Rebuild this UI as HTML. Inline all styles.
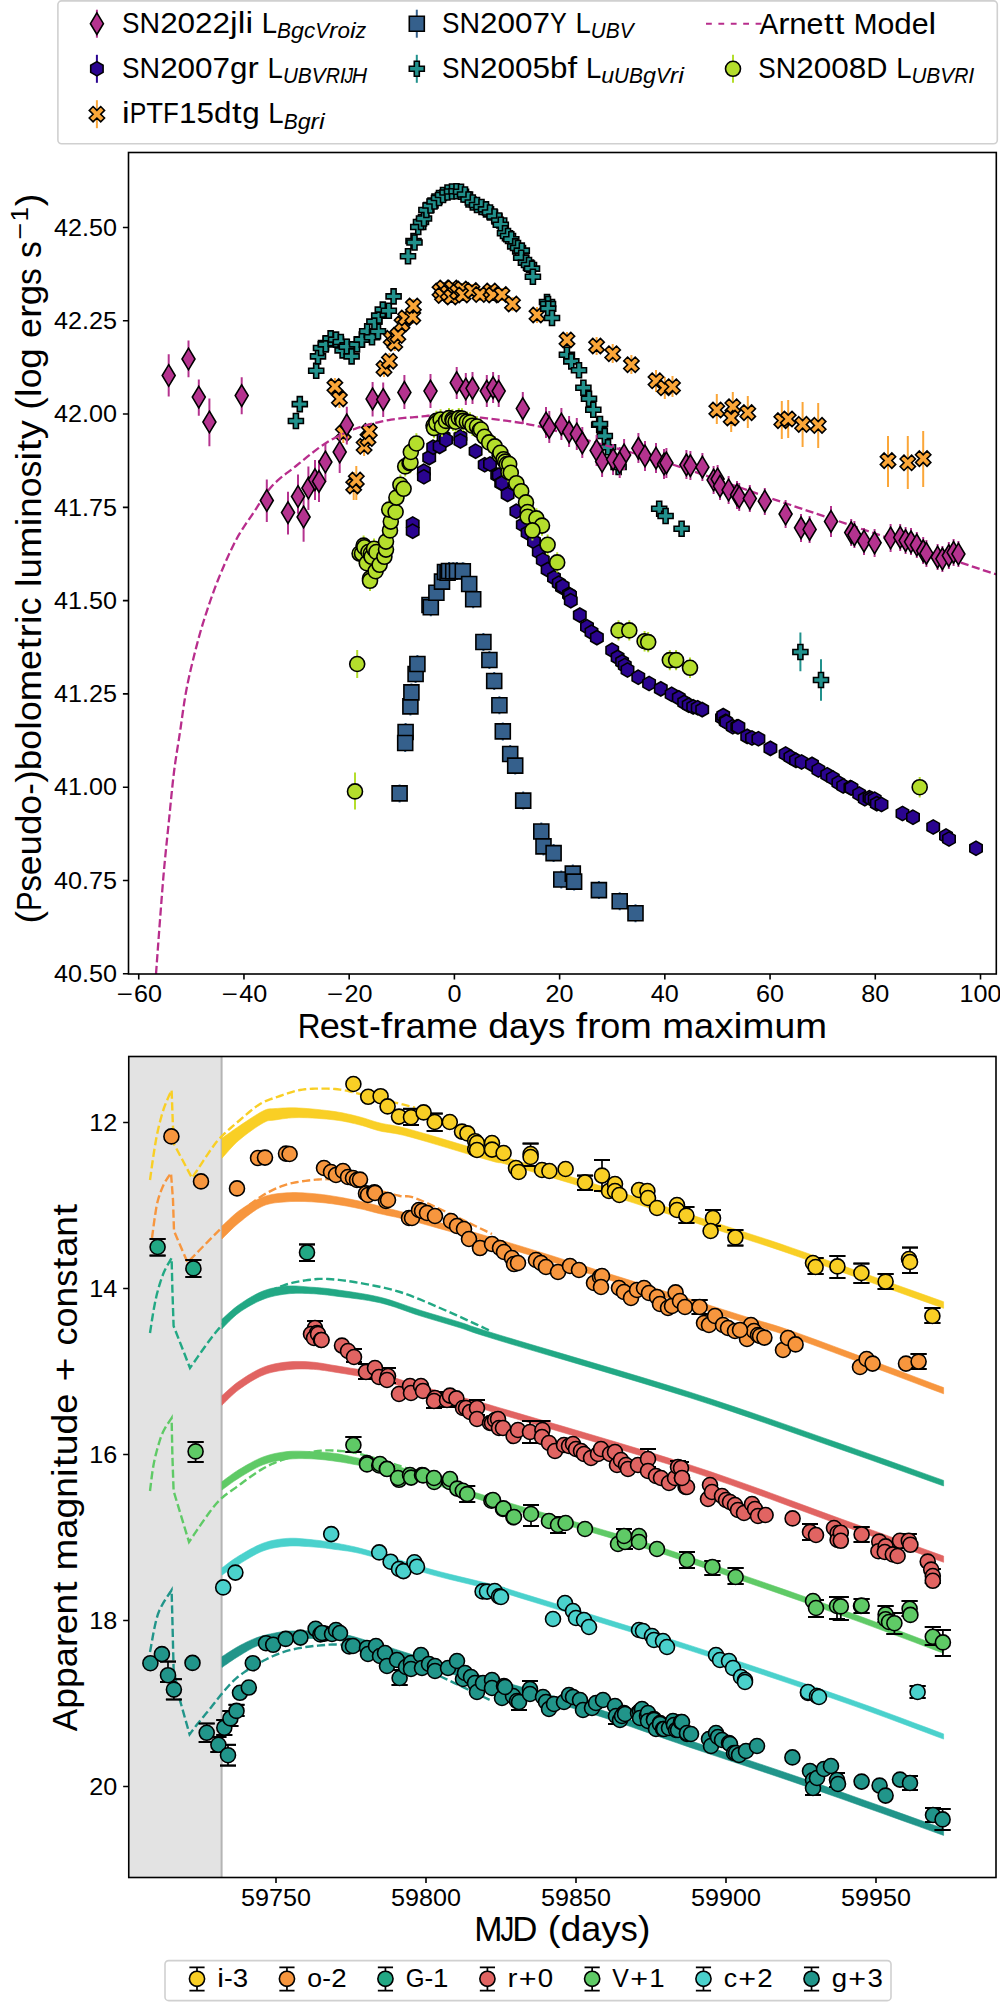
<!DOCTYPE html>
<html><head><meta charset="utf-8"><style>
html,body{margin:0;padding:0;background:#fff;}
svg{display:block;}
text{font-family:"Liberation Sans",sans-serif;}
</style></head><body>
<svg width="1000" height="2002" viewBox="0 0 1000 2002">
<rect width="1000" height="2002" fill="#fff"/>
<defs><clipPath id="c1"><rect x="128.5" y="152.5" width="867.8" height="821.5"/></clipPath><clipPath id="c2"><rect x="128.75" y="1056.5" width="867.25" height="821.0"/></clipPath></defs><g clip-path="url(#c1)"><g fill="#2a0490" stroke="#000" stroke-width="1.6"><path d="M412.7 516.85L406.51 520.42L406.51 527.58L412.7 531.15L418.89 527.58L418.89 520.42Z"/><path d="M412.7 524.05L406.51 527.62L406.51 534.78L412.7 538.35L418.89 534.78L418.89 527.62Z"/><path d="M423.9 464.05L417.71 467.62L417.71 474.77L423.9 478.35L430.09 474.77L430.09 467.62Z"/><path d="M423.9 469.65L417.71 473.23L417.71 480.38L423.9 483.95L430.09 480.38L430.09 473.23Z"/><path d="M429.2 450.45L423.01 454.03L423.01 461.18L429.2 464.75L435.39 461.18L435.39 454.03Z"/><path d="M433.2 440.05L427.01 443.62L427.01 450.77L433.2 454.35L439.39 450.77L439.39 443.62Z"/><path d="M439.6 439.25L433.41 442.82L433.41 449.97L439.6 453.55L445.79 449.97L445.79 442.82Z"/><path d="M443.6 429.65L437.41 433.23L437.41 440.38L443.6 443.95L449.79 440.38L449.79 433.23Z"/><path d="M446 432.85L439.81 436.43L439.81 443.57L446 447.15L452.19 443.57L452.19 436.43Z"/><path d="M460.4 429.65L454.21 433.23L454.21 440.38L460.4 443.95L466.59 440.38L466.59 433.23Z"/><path d="M460.4 433.85L454.21 437.43L454.21 444.57L460.4 448.15L466.59 444.57L466.59 437.43Z"/><path d="M475.6 444.05L469.41 447.62L469.41 454.77L475.6 458.35L481.79 454.77L481.79 447.62Z"/><path d="M484.7 457.65L478.51 461.23L478.51 468.38L484.7 471.95L490.89 468.38L490.89 461.23Z"/><path d="M490 456.85L483.81 460.43L483.81 467.57L490 471.15L496.19 467.57L496.19 460.43Z"/><path d="M497.2 468.05L491.01 471.62L491.01 478.77L497.2 482.35L503.39 478.77L503.39 471.62Z"/><path d="M498.8 468.05L492.61 471.62L492.61 478.77L498.8 482.35L504.99 478.77L504.99 471.62Z"/><path d="M501.2 476.05L495.01 479.62L495.01 486.77L501.2 490.35L507.39 486.77L507.39 479.62Z"/><path d="M502 476.05L495.81 479.62L495.81 486.77L502 490.35L508.19 486.77L508.19 479.62Z"/><path d="M507.6 487.25L501.41 490.82L501.41 497.97L507.6 501.55L513.79 497.97L513.79 490.82Z"/><path d="M516.4 504.05L510.21 507.62L510.21 514.77L516.4 518.35L522.59 514.77L522.59 507.62Z"/><path d="M522.8 517.65L516.61 521.22L516.61 528.38L522.8 531.95L528.99 528.38L528.99 521.22Z"/><path d="M527.6 525.65L521.41 529.22L521.41 536.38L527.6 539.95L533.79 536.38L533.79 529.22Z"/><path d="M534 534.45L527.81 538.02L527.81 545.18L534 548.75L540.19 545.18L540.19 538.02Z"/><path d="M538.8 544.85L532.61 548.42L532.61 555.58L538.8 559.15L544.99 555.58L544.99 548.42Z"/><path d="M542.8 552.85L536.61 556.42L536.61 563.58L542.8 567.15L548.99 563.58L548.99 556.42Z"/><path d="M547.6 562.45L541.41 566.02L541.41 573.18L547.6 576.75L553.79 573.18L553.79 566.02Z"/><path d="M554 570.45L547.81 574.02L547.81 581.18L554 584.75L560.19 581.18L560.19 574.02Z"/><path d="M558.8 576.05L552.61 579.62L552.61 586.78L558.8 590.35L564.99 586.78L564.99 579.62Z"/><path d="M562 580.05L555.81 583.62L555.81 590.78L562 594.35L568.19 590.78L568.19 583.62Z"/><path d="M562.7 579.15L556.51 582.72L556.51 589.88L562.7 593.45L568.89 589.88L568.89 582.72Z"/><path d="M569 587.25L562.81 590.82L562.81 597.98L569 601.55L575.19 597.98L575.19 590.82Z"/><path d="M570 588.05L563.81 591.62L563.81 598.78L570 602.35L576.19 598.78L576.19 591.62Z"/><path d="M570.8 593.55L564.61 597.12L564.61 604.28L570.8 607.85L576.99 604.28L576.99 597.12Z"/><path d="M579.8 607.95L573.61 611.52L573.61 618.68L579.8 622.25L585.99 618.68L585.99 611.52Z"/><path d="M587 619.65L580.81 623.22L580.81 630.38L587 633.95L593.19 630.38L593.19 623.22Z"/><path d="M591.5 625.05L585.31 628.62L585.31 635.78L591.5 639.35L597.69 635.78L597.69 628.62Z"/><path d="M596.9 630.45L590.71 634.02L590.71 641.18L596.9 644.75L603.09 641.18L603.09 634.02Z"/><path d="M612.2 643.05L606.01 646.62L606.01 653.78L612.2 657.35L618.39 653.78L618.39 646.62Z"/><path d="M617.6 650.25L611.41 653.82L611.41 660.98L617.6 664.55L623.79 660.98L623.79 653.82Z"/><path d="M622.1 654.75L615.91 658.32L615.91 665.48L622.1 669.05L628.29 665.48L628.29 658.32Z"/><path d="M624.8 658.35L618.61 661.92L618.61 669.08L624.8 672.65L630.99 669.08L630.99 661.92Z"/><path d="M627.5 662.85L621.31 666.42L621.31 673.58L627.5 677.15L633.69 673.58L633.69 666.42Z"/><path d="M638.3 670.05L632.11 673.62L632.11 680.78L638.3 684.35L644.49 680.78L644.49 673.62Z"/><path d="M649.1 676.35L642.91 679.92L642.91 687.08L649.1 690.65L655.29 687.08L655.29 679.92Z"/><path d="M660.8 681.75L654.61 685.32L654.61 692.48L660.8 696.05L666.99 692.48L666.99 685.32Z"/><path d="M671.6 687.15L665.41 690.72L665.41 697.88L671.6 701.45L677.79 697.88L677.79 690.72Z"/><path d="M678.8 690.75L672.61 694.32L672.61 701.48L678.8 705.05L684.99 701.48L684.99 694.32Z"/><path d="M684.2 695.25L678.01 698.82L678.01 705.98L684.2 709.55L690.39 705.98L690.39 698.82Z"/><path d="M688.7 697.95L682.51 701.52L682.51 708.68L688.7 712.25L694.89 708.68L694.89 701.52Z"/><path d="M693.2 699.75L687.01 703.32L687.01 710.48L693.2 714.05L699.39 710.48L699.39 703.32Z"/><path d="M697.7 700.65L691.51 704.22L691.51 711.38L697.7 714.95L703.89 711.38L703.89 704.22Z"/><path d="M702.2 702.45L696.01 706.02L696.01 713.18L702.2 716.75L708.39 713.18L708.39 706.02Z"/><path d="M722 710.55L715.81 714.12L715.81 721.28L722 724.85L728.19 721.28L728.19 714.12Z"/><path d="M723.2 708.45L717.01 712.02L717.01 719.18L723.2 722.75L729.39 719.18L729.39 712.02Z"/><path d="M725.6 714.15L719.41 717.72L719.41 724.88L725.6 728.45L731.79 724.88L731.79 717.72Z"/><path d="M726.4 714.85L720.21 718.42L720.21 725.58L726.4 729.15L732.59 725.58L732.59 718.42Z"/><path d="M732.8 719.55L726.61 723.12L726.61 730.28L732.8 733.85L738.99 730.28L738.99 723.12Z"/><path d="M737.3 719.55L731.11 723.12L731.11 730.28L737.3 733.85L743.49 730.28L743.49 723.12Z"/><path d="M738.4 719.65L732.21 723.22L732.21 730.38L738.4 733.95L744.59 730.38L744.59 723.22Z"/><path d="M747.2 729.25L741.01 732.82L741.01 739.98L747.2 743.55L753.39 739.98L753.39 732.82Z"/><path d="M752 730.85L745.81 734.42L745.81 741.58L752 745.15L758.19 741.58L758.19 734.42Z"/><path d="M758.4 731.65L752.21 735.22L752.21 742.38L758.4 745.95L764.59 742.38L764.59 735.22Z"/><path d="M770.4 741.25L764.21 744.82L764.21 751.98L770.4 755.55L776.59 751.98L776.59 744.82Z"/><path d="M785.6 746.85L779.41 750.42L779.41 757.58L785.6 761.15L791.79 757.58L791.79 750.42Z"/><path d="M790.4 750.05L784.21 753.62L784.21 760.78L790.4 764.35L796.59 760.78L796.59 753.62Z"/><path d="M796 753.25L789.81 756.82L789.81 763.98L796 767.55L802.19 763.98L802.19 756.82Z"/><path d="M801.6 754.85L795.41 758.42L795.41 765.58L801.6 769.15L807.79 765.58L807.79 758.42Z"/><path d="M812 757.25L805.81 760.82L805.81 767.98L812 771.55L818.19 767.98L818.19 760.82Z"/><path d="M818.4 762.85L812.21 766.42L812.21 773.58L818.4 777.15L824.59 773.58L824.59 766.42Z"/><path d="M827.2 767.65L821.01 771.22L821.01 778.38L827.2 781.95L833.39 778.38L833.39 771.22Z"/><path d="M832.8 770.85L826.61 774.42L826.61 781.58L832.8 785.15L838.99 781.58L838.99 774.42Z"/><path d="M838.4 775.65L832.21 779.22L832.21 786.38L838.4 789.95L844.59 786.38L844.59 779.22Z"/><path d="M843.2 778.85L837.01 782.42L837.01 789.58L843.2 793.15L849.39 789.58L849.39 782.42Z"/><path d="M850.4 780.45L844.21 784.02L844.21 791.18L850.4 794.75L856.59 791.18L856.59 784.02Z"/><path d="M851.5 780.85L845.31 784.42L845.31 791.58L851.5 795.15L857.69 791.58L857.69 784.42Z"/><path d="M859.2 786.85L853.01 790.42L853.01 797.58L859.2 801.15L865.39 797.58L865.39 790.42Z"/><path d="M864.8 791.65L858.61 795.22L858.61 802.38L864.8 805.95L870.99 802.38L870.99 795.22Z"/><path d="M869.5 790.55L863.31 794.12L863.31 801.28L869.5 804.85L875.69 801.28L875.69 794.12Z"/><path d="M871.2 791.65L865.01 795.22L865.01 802.38L871.2 805.95L877.39 802.38L877.39 795.22Z"/><path d="M874.7 792.05L868.51 795.62L868.51 802.78L874.7 806.35L880.89 802.78L880.89 795.62Z"/><path d="M876.8 796.45L870.61 800.02L870.61 807.18L876.8 810.75L882.99 807.18L882.99 800.02Z"/><path d="M881.5 797.35L875.31 800.92L875.31 808.08L881.5 811.65L887.69 808.08L887.69 800.92Z"/><path d="M902.5 806.35L896.31 809.92L896.31 817.08L902.5 820.65L908.69 817.08L908.69 809.92Z"/><path d="M913 810.05L906.81 813.62L906.81 820.78L913 824.35L919.19 820.78L919.19 813.62Z"/><path d="M933.2 819.85L927.01 823.42L927.01 830.58L933.2 834.15L939.39 830.58L939.39 823.42Z"/><path d="M946 828.85L939.81 832.42L939.81 839.58L946 843.15L952.19 839.58L952.19 832.42Z"/><path d="M949 831.85L942.81 835.42L942.81 842.58L949 846.15L955.19 842.58L955.19 835.42Z"/><path d="M976 841.15L969.81 844.72L969.81 851.88L976 855.45L982.19 851.88L982.19 844.72Z"/></g><path d="M334.9 378V395M339.4 390V408M343.3 423V443M353.7 472V500M356.3 466V500M364.1 437V456M368 430V447M369.3 423V440M384 360V377M389.4 353V370M391.2 331V346M394.8 336V351M397.8 328V343M402 317V331M405.6 311V325M412.8 310V324M413.4 299V313M440 285V297M444 282V294M442.5 290V301M448 287V299M452.5 282V294M451.5 291V303M457.5 286V298M462 283V295M463 289V301M472 284V297M480 288V301M491 285V297M493 289V301M502 288V301M512.5 297V311M537 307V323M567 332V348M596.6 337V355M612.7 344V363M631.4 355V374M656 370V392M664.8 377V399M672.5 376V397M716.8 394V424M732.8 392V426M731.2 404V432M747.8 396V428M781.8 401V439M788.2 400V438M802.6 402V447M818.2 403V448M888 436V487M907.8 436V489M923.2 431V487" stroke="#fba638" stroke-width="2.0" fill="none"/><g fill="#fba638" stroke="#000" stroke-width="1.6"><path d="M331.07 378.85L334.9 382.68L338.72 378.85L342.55 382.68L338.72 386.5L342.55 390.32L338.72 394.15L334.9 390.32L331.07 394.15L327.25 390.32L331.07 386.5L327.25 382.68Z"/><path d="M335.57 391.25L339.4 395.07L343.22 391.25L347.05 395.07L343.22 398.9L347.05 402.72L343.22 406.55L339.4 402.72L335.57 406.55L331.75 402.72L335.57 398.9L331.75 395.07Z"/><path d="M339.48 425.65L343.3 429.48L347.12 425.65L350.95 429.48L347.12 433.3L350.95 437.12L347.12 440.95L343.3 437.12L339.48 440.95L335.65 437.12L339.48 433.3L335.65 429.48Z"/><path d="M349.88 478.35L353.7 482.18L357.52 478.35L361.35 482.18L357.52 486L361.35 489.82L357.52 493.65L353.7 489.82L349.88 493.65L346.05 489.82L349.88 486L346.05 482.18Z"/><path d="M352.48 472.45L356.3 476.28L360.12 472.45L363.95 476.28L360.12 480.1L363.95 483.93L360.12 487.75L356.3 483.93L352.48 487.75L348.65 483.93L352.48 480.1L348.65 476.28Z"/><path d="M360.28 438.65L364.1 442.48L367.93 438.65L371.75 442.48L367.93 446.3L371.75 450.12L367.93 453.95L364.1 450.12L360.28 453.95L356.45 450.12L360.28 446.3L356.45 442.48Z"/><path d="M364.18 430.85L368 434.68L371.82 430.85L375.65 434.68L371.82 438.5L375.65 442.32L371.82 446.15L368 442.32L364.18 446.15L360.35 442.32L364.18 438.5L360.35 434.68Z"/><path d="M365.48 423.75L369.3 427.57L373.12 423.75L376.95 427.57L373.12 431.4L376.95 435.22L373.12 439.05L369.3 435.22L365.48 439.05L361.65 435.22L365.48 431.4L361.65 427.57Z"/><path d="M380.18 360.75L384 364.57L387.82 360.75L391.65 364.57L387.82 368.4L391.65 372.22L387.82 376.05L384 372.22L380.18 376.05L376.35 372.22L380.18 368.4L376.35 364.57Z"/><path d="M385.57 353.55L389.4 357.38L393.22 353.55L397.05 357.38L393.22 361.2L397.05 365.02L393.22 368.85L389.4 365.02L385.57 368.85L381.75 365.02L385.57 361.2L381.75 357.38Z"/><path d="M387.38 330.75L391.2 334.57L395.02 330.75L398.85 334.57L395.02 338.4L398.85 342.22L395.02 346.05L391.2 342.22L387.38 346.05L383.55 342.22L387.38 338.4L383.55 334.57Z"/><path d="M390.98 335.55L394.8 339.38L398.62 335.55L402.45 339.38L398.62 343.2L402.45 347.02L398.62 350.85L394.8 347.02L390.98 350.85L387.15 347.02L390.98 343.2L387.15 339.38Z"/><path d="M393.98 327.75L397.8 331.57L401.62 327.75L405.45 331.57L401.62 335.4L405.45 339.22L401.62 343.05L397.8 339.22L393.98 343.05L390.15 339.22L393.98 335.4L390.15 331.57Z"/><path d="M398.18 316.35L402 320.18L405.82 316.35L409.65 320.18L405.82 324L409.65 327.82L405.82 331.65L402 327.82L398.18 331.65L394.35 327.82L398.18 324L394.35 320.18Z"/><path d="M401.78 310.35L405.6 314.18L409.43 310.35L413.25 314.18L409.43 318L413.25 321.82L409.43 325.65L405.6 321.82L401.78 325.65L397.95 321.82L401.78 318L397.95 314.18Z"/><path d="M408.98 309.15L412.8 312.98L416.62 309.15L420.45 312.98L416.62 316.8L420.45 320.62L416.62 324.45L412.8 320.62L408.98 324.45L405.15 320.62L408.98 316.8L405.15 312.98Z"/><path d="M409.57 298.35L413.4 302.18L417.22 298.35L421.05 302.18L417.22 306L421.05 309.82L417.22 313.65L413.4 309.82L409.57 313.65L405.75 309.82L409.57 306L405.75 302.18Z"/><path d="M436.18 283.35L440 287.18L443.82 283.35L447.65 287.18L443.82 291L447.65 294.82L443.82 298.65L440 294.82L436.18 298.65L432.35 294.82L436.18 291L432.35 287.18Z"/><path d="M440.18 280.35L444 284.18L447.82 280.35L451.65 284.18L447.82 288L451.65 291.82L447.82 295.65L444 291.82L440.18 295.65L436.35 291.82L440.18 288L436.35 284.18Z"/><path d="M438.68 287.85L442.5 291.68L446.32 287.85L450.15 291.68L446.32 295.5L450.15 299.32L446.32 303.15L442.5 299.32L438.68 303.15L434.85 299.32L438.68 295.5L434.85 291.68Z"/><path d="M444.18 285.35L448 289.18L451.82 285.35L455.65 289.18L451.82 293L455.65 296.82L451.82 300.65L448 296.82L444.18 300.65L440.35 296.82L444.18 293L440.35 289.18Z"/><path d="M448.68 280.35L452.5 284.18L456.32 280.35L460.15 284.18L456.32 288L460.15 291.82L456.32 295.65L452.5 291.82L448.68 295.65L444.85 291.82L448.68 288L444.85 284.18Z"/><path d="M447.68 289.35L451.5 293.18L455.32 289.35L459.15 293.18L455.32 297L459.15 300.82L455.32 304.65L451.5 300.82L447.68 304.65L443.85 300.82L447.68 297L443.85 293.18Z"/><path d="M453.68 284.35L457.5 288.18L461.32 284.35L465.15 288.18L461.32 292L465.15 295.82L461.32 299.65L457.5 295.82L453.68 299.65L449.85 295.82L453.68 292L449.85 288.18Z"/><path d="M458.18 281.35L462 285.18L465.82 281.35L469.65 285.18L465.82 289L469.65 292.82L465.82 296.65L462 292.82L458.18 296.65L454.35 292.82L458.18 289L454.35 285.18Z"/><path d="M459.18 287.35L463 291.18L466.82 287.35L470.65 291.18L466.82 295L470.65 298.82L466.82 302.65L463 298.82L459.18 302.65L455.35 298.82L459.18 295L455.35 291.18Z"/><path d="M468.18 282.85L472 286.68L475.82 282.85L479.65 286.68L475.82 290.5L479.65 294.32L475.82 298.15L472 294.32L468.18 298.15L464.35 294.32L468.18 290.5L464.35 286.68Z"/><path d="M476.18 286.85L480 290.68L483.82 286.85L487.65 290.68L483.82 294.5L487.65 298.32L483.82 302.15L480 298.32L476.18 302.15L472.35 298.32L476.18 294.5L472.35 290.68Z"/><path d="M487.18 283.35L491 287.18L494.82 283.35L498.65 287.18L494.82 291L498.65 294.82L494.82 298.65L491 294.82L487.18 298.65L483.35 294.82L487.18 291L483.35 287.18Z"/><path d="M489.18 287.35L493 291.18L496.82 287.35L500.65 291.18L496.82 295L500.65 298.82L496.82 302.65L493 298.82L489.18 302.65L485.35 298.82L489.18 295L485.35 291.18Z"/><path d="M498.18 286.85L502 290.68L505.82 286.85L509.65 290.68L505.82 294.5L509.65 298.32L505.82 302.15L502 298.32L498.18 302.15L494.35 298.32L498.18 294.5L494.35 290.68Z"/><path d="M508.68 296.35L512.5 300.18L516.33 296.35L520.15 300.18L516.33 304L520.15 307.82L516.33 311.65L512.5 307.82L508.68 311.65L504.85 307.82L508.68 304L504.85 300.18Z"/><path d="M533.17 307.35L537 311.18L540.83 307.35L544.65 311.18L540.83 315L544.65 318.82L540.83 322.65L537 318.82L533.17 322.65L529.35 318.82L533.17 315L529.35 311.18Z"/><path d="M563.17 332.35L567 336.18L570.83 332.35L574.65 336.18L570.83 340L574.65 343.82L570.83 347.65L567 343.82L563.17 347.65L559.35 343.82L563.17 340L559.35 336.18Z"/><path d="M592.77 338.35L596.6 342.18L600.43 338.35L604.25 342.18L600.43 346L604.25 349.82L600.43 353.65L596.6 349.82L592.77 353.65L588.95 349.82L592.77 346L588.95 342.18Z"/><path d="M608.88 346.05L612.7 349.88L616.53 346.05L620.35 349.88L616.53 353.7L620.35 357.52L616.53 361.35L612.7 357.52L608.88 361.35L605.05 357.52L608.88 353.7L605.05 349.88Z"/><path d="M627.57 357.05L631.4 360.88L635.23 357.05L639.05 360.88L635.23 364.7L639.05 368.52L635.23 372.35L631.4 368.52L627.57 372.35L623.75 368.52L627.57 364.7L623.75 360.88Z"/><path d="M652.17 373.15L656 376.98L659.83 373.15L663.65 376.98L659.83 380.8L663.65 384.62L659.83 388.45L656 384.62L652.17 388.45L648.35 384.62L652.17 380.8L648.35 376.98Z"/><path d="M660.97 380.15L664.8 383.98L668.62 380.15L672.45 383.98L668.62 387.8L672.45 391.62L668.62 395.45L664.8 391.62L660.97 395.45L657.15 391.62L660.97 387.8L657.15 383.98Z"/><path d="M668.67 379.05L672.5 382.88L676.33 379.05L680.15 382.88L676.33 386.7L680.15 390.52L676.33 394.35L672.5 390.52L668.67 394.35L664.85 390.52L668.67 386.7L664.85 382.88Z"/><path d="M712.97 402.35L716.8 406.18L720.62 402.35L724.45 406.18L720.62 410L724.45 413.82L720.62 417.65L716.8 413.82L712.97 417.65L709.15 413.82L712.97 410L709.15 406.18Z"/><path d="M728.97 399.15L732.8 402.98L736.62 399.15L740.45 402.98L736.62 406.8L740.45 410.62L736.62 414.45L732.8 410.62L728.97 414.45L725.15 410.62L728.97 406.8L725.15 402.98Z"/><path d="M727.38 410.35L731.2 414.18L735.03 410.35L738.85 414.18L735.03 418L738.85 421.82L735.03 425.65L731.2 421.82L727.38 425.65L723.55 421.82L727.38 418L723.55 414.18Z"/><path d="M743.97 404.95L747.8 408.78L751.62 404.95L755.45 408.78L751.62 412.6L755.45 416.43L751.62 420.25L747.8 416.43L743.97 420.25L740.15 416.43L743.97 412.6L740.15 408.78Z"/><path d="M777.97 412.95L781.8 416.78L785.62 412.95L789.45 416.78L785.62 420.6L789.45 424.43L785.62 428.25L781.8 424.43L777.97 428.25L774.15 424.43L777.97 420.6L774.15 416.78Z"/><path d="M784.38 411.35L788.2 415.18L792.03 411.35L795.85 415.18L792.03 419L795.85 422.82L792.03 426.65L788.2 422.82L784.38 426.65L780.55 422.82L784.38 419L780.55 415.18Z"/><path d="M798.77 416.75L802.6 420.57L806.43 416.75L810.25 420.57L806.43 424.4L810.25 428.22L806.43 432.05L802.6 428.22L798.77 432.05L794.95 428.22L798.77 424.4L794.95 420.57Z"/><path d="M814.38 417.75L818.2 421.57L822.03 417.75L825.85 421.57L822.03 425.4L825.85 429.22L822.03 433.05L818.2 429.22L814.38 433.05L810.55 429.22L814.38 425.4L810.55 421.57Z"/><path d="M884.17 452.95L888 456.78L891.83 452.95L895.65 456.78L891.83 460.6L895.65 464.43L891.83 468.25L888 464.43L884.17 468.25L880.35 464.43L884.17 460.6L880.35 456.78Z"/><path d="M903.97 455.15L907.8 458.98L911.62 455.15L915.45 458.98L911.62 462.8L915.45 466.62L911.62 470.45L907.8 466.62L903.97 470.45L900.15 466.62L903.97 462.8L900.15 458.98Z"/><path d="M919.38 450.95L923.2 454.78L927.03 450.95L930.85 454.78L927.03 458.6L930.85 462.43L927.03 466.25L923.2 462.43L919.38 466.25L915.55 462.43L919.38 458.6L915.55 454.78Z"/></g><path d="M399.6 784.4V802.4M405.6 723V741M405.2 734V752M410.4 697.4V715.4M411.4 683.4V701.4M415.6 665V683M417.4 655V673M429.5 596V614M430.8 598.2V616.2M436.4 583.8V601.8M442 572.6V590.6M445 563V581M447.6 563.8V581.8M449 562V580M453.2 562.2V580.2M457 562V580M462.8 562.2V580.2M469.2 575V593M473.2 590.2V608.2M483.4 633V651M489.4 651V669M494.2 672V690M499.4 696.2V714.2M502.8 722.4V740.4M510.2 745V763M515.2 756.6V774.6M523.2 791.6V809.6M541.3 822.5V840.5M543.5 837.4V855.4M553.6 844.1V862.1M561.3 870.5V888.5M572.8 864.6V882.6M574.1 872.6V890.6M598.9 881.1V899.1M619.7 892.3V910.3M635.5 904.3V922.3" stroke="#35608c" stroke-width="2.0" fill="none"/><g fill="#35608c" stroke="#000" stroke-width="1.6"><path d="M392.1 785.9h15v15h-15Z"/><path d="M398.1 724.5h15v15h-15Z"/><path d="M397.7 735.5h15v15h-15Z"/><path d="M402.9 698.9h15v15h-15Z"/><path d="M403.9 684.9h15v15h-15Z"/><path d="M408.1 666.5h15v15h-15Z"/><path d="M409.9 656.5h15v15h-15Z"/><path d="M422 597.5h15v15h-15Z"/><path d="M423.3 599.7h15v15h-15Z"/><path d="M428.9 585.3h15v15h-15Z"/><path d="M434.5 574.1h15v15h-15Z"/><path d="M437.5 564.5h15v15h-15Z"/><path d="M440.1 565.3h15v15h-15Z"/><path d="M441.5 563.5h15v15h-15Z"/><path d="M445.7 563.7h15v15h-15Z"/><path d="M449.5 563.5h15v15h-15Z"/><path d="M455.3 563.7h15v15h-15Z"/><path d="M461.7 576.5h15v15h-15Z"/><path d="M465.7 591.7h15v15h-15Z"/><path d="M475.9 634.5h15v15h-15Z"/><path d="M481.9 652.5h15v15h-15Z"/><path d="M486.7 673.5h15v15h-15Z"/><path d="M491.9 697.7h15v15h-15Z"/><path d="M495.3 723.9h15v15h-15Z"/><path d="M502.7 746.5h15v15h-15Z"/><path d="M507.7 758.1h15v15h-15Z"/><path d="M515.7 793.1h15v15h-15Z"/><path d="M533.8 824h15v15h-15Z"/><path d="M536 838.9h15v15h-15Z"/><path d="M546.1 845.6h15v15h-15Z"/><path d="M553.8 872h15v15h-15Z"/><path d="M565.3 866.1h15v15h-15Z"/><path d="M566.6 874.1h15v15h-15Z"/><path d="M591.4 882.6h15v15h-15Z"/><path d="M612.2 893.8h15v15h-15Z"/><path d="M628 905.8h15v15h-15Z"/></g><path d="M295.9 414V428M299.8 397V411M800.4 632.4V671.2M821 659.2V700.8" stroke="#21918c" stroke-width="2.0" fill="none"/><g fill="#21918c" stroke="#000" stroke-width="1.6"><path d="M293.4 413.5L298.4 413.5L298.4 418.5L303.4 418.5L303.4 423.5L298.4 423.5L298.4 428.5L293.4 428.5L293.4 423.5L288.4 423.5L288.4 418.5L293.4 418.5Z"/><path d="M297.3 396.6L302.3 396.6L302.3 401.6L307.3 401.6L307.3 406.6L302.3 406.6L302.3 411.6L297.3 411.6L297.3 406.6L292.3 406.6L292.3 401.6L297.3 401.6Z"/><path d="M313.7 363.3L318.7 363.3L318.7 368.3L323.7 368.3L323.7 373.3L318.7 373.3L318.7 378.3L313.7 378.3L313.7 373.3L308.7 373.3L308.7 368.3L313.7 368.3Z"/><path d="M315.5 348.9L320.5 348.9L320.5 353.9L325.5 353.9L325.5 358.9L320.5 358.9L320.5 363.9L315.5 363.9L315.5 358.9L310.5 358.9L310.5 353.9L315.5 353.9Z"/><path d="M318.5 340.5L323.5 340.5L323.5 345.5L328.5 345.5L328.5 350.5L323.5 350.5L323.5 355.5L318.5 355.5L318.5 350.5L313.5 350.5L313.5 345.5L318.5 345.5Z"/><path d="M323.3 336.9L328.3 336.9L328.3 341.9L333.3 341.9L333.3 346.9L328.3 346.9L328.3 351.9L323.3 351.9L323.3 346.9L318.3 346.9L318.3 341.9L323.3 341.9Z"/><path d="M328.1 330.9L333.1 330.9L333.1 335.9L338.1 335.9L338.1 340.9L333.1 340.9L333.1 345.9L328.1 345.9L328.1 340.9L323.1 340.9L323.1 335.9L328.1 335.9Z"/><path d="M333.5 332.1L338.5 332.1L338.5 337.1L343.5 337.1L343.5 342.1L338.5 342.1L338.5 347.1L333.5 347.1L333.5 342.1L328.5 342.1L328.5 337.1L333.5 337.1Z"/><path d="M338.3 334.5L343.3 334.5L343.3 339.5L348.3 339.5L348.3 344.5L343.3 344.5L343.3 349.5L338.3 349.5L338.3 344.5L333.3 344.5L333.3 339.5L338.3 339.5Z"/><path d="M340.1 342.9L345.1 342.9L345.1 347.9L350.1 347.9L350.1 352.9L345.1 352.9L345.1 357.9L340.1 357.9L340.1 352.9L335.1 352.9L335.1 347.9L340.1 347.9Z"/><path d="M344.3 339.3L349.3 339.3L349.3 344.3L354.3 344.3L354.3 349.3L349.3 349.3L349.3 354.3L344.3 354.3L344.3 349.3L339.3 349.3L339.3 344.3L344.3 344.3Z"/><path d="M349.1 348.9L354.1 348.9L354.1 353.9L359.1 353.9L359.1 358.9L354.1 358.9L354.1 363.9L349.1 363.9L349.1 358.9L344.1 358.9L344.1 353.9L349.1 353.9Z"/><path d="M354.5 336.9L359.5 336.9L359.5 341.9L364.5 341.9L364.5 346.9L359.5 346.9L359.5 351.9L354.5 351.9L354.5 346.9L349.5 346.9L349.5 341.9L354.5 341.9Z"/><path d="M359.3 332.1L364.3 332.1L364.3 337.1L369.3 337.1L369.3 342.1L364.3 342.1L364.3 347.1L359.3 347.1L359.3 342.1L354.3 342.1L354.3 337.1L359.3 337.1Z"/><path d="M364.7 323.7L369.7 323.7L369.7 328.7L374.7 328.7L374.7 333.7L369.7 333.7L369.7 338.7L364.7 338.7L364.7 333.7L359.7 333.7L359.7 328.7L364.7 328.7Z"/><path d="M369.5 329.7L374.5 329.7L374.5 334.7L379.5 334.7L379.5 339.7L374.5 339.7L374.5 344.7L369.5 344.7L369.5 339.7L364.5 339.7L364.5 334.7L369.5 334.7Z"/><path d="M375.5 323.7L380.5 323.7L380.5 328.7L385.5 328.7L385.5 333.7L380.5 333.7L380.5 338.7L375.5 338.7L375.5 333.7L370.5 333.7L370.5 328.7L375.5 328.7Z"/><path d="M371.9 314.1L376.9 314.1L376.9 319.1L381.9 319.1L381.9 324.1L376.9 324.1L376.9 329.1L371.9 329.1L371.9 324.1L366.9 324.1L366.9 319.1L371.9 319.1Z"/><path d="M376.7 308.1L381.7 308.1L381.7 313.1L386.7 313.1L386.7 318.1L381.7 318.1L381.7 323.1L376.7 323.1L376.7 318.1L371.7 318.1L371.7 313.1L376.7 313.1Z"/><path d="M380.3 302.1L385.3 302.1L385.3 307.1L390.3 307.1L390.3 312.1L385.3 312.1L385.3 317.1L380.3 317.1L380.3 312.1L375.3 312.1L375.3 307.1L380.3 307.1Z"/><path d="M386.3 303.3L391.3 303.3L391.3 308.3L396.3 308.3L396.3 313.3L391.3 313.3L391.3 318.3L386.3 318.3L386.3 313.3L381.3 313.3L381.3 308.3L386.3 308.3Z"/><path d="M391.1 288.9L396.1 288.9L396.1 293.9L401.1 293.9L401.1 298.9L396.1 298.9L396.1 303.9L391.1 303.9L391.1 298.9L386.1 298.9L386.1 293.9L391.1 293.9Z"/><path d="M405.5 248.75L410.5 248.75L410.5 253.75L415.5 253.75L415.5 258.75L410.5 258.75L410.5 263.75L405.5 263.75L405.5 258.75L400.5 258.75L400.5 253.75L405.5 253.75Z"/><path d="M411 233.5L416 233.5L416 238.5L421 238.5L421 243.5L416 243.5L416 248.5L411 248.5L411 243.5L406 243.5L406 238.5L411 238.5Z"/><path d="M412 235L417 235L417 240L422 240L422 245L417 245L417 250L412 250L412 245L407 245L407 240L412 240Z"/><path d="M415.75 219.5L420.75 219.5L420.75 224.5L425.75 224.5L425.75 229.5L420.75 229.5L420.75 234.5L415.75 234.5L415.75 229.5L410.75 229.5L410.75 224.5L415.75 224.5Z"/><path d="M418.5 214.5L423.5 214.5L423.5 219.5L428.5 219.5L428.5 224.5L423.5 224.5L423.5 229.5L418.5 229.5L418.5 224.5L413.5 224.5L413.5 219.5L418.5 219.5Z"/><path d="M421.5 211L426.5 211L426.5 216L431.5 216L431.5 221L426.5 221L426.5 226L421.5 226L421.5 221L416.5 221L416.5 216L421.5 216Z"/><path d="M423.9 202.5L428.9 202.5L428.9 207.5L433.9 207.5L433.9 212.5L428.9 212.5L428.9 217.5L423.9 217.5L423.9 212.5L418.9 212.5L418.9 207.5L423.9 207.5Z"/><path d="M428 198L433 198L433 203L438 203L438 208L433 208L433 213L428 213L428 208L423 208L423 203L428 203Z"/><path d="M432 194L437 194L437 199L442 199L442 204L437 204L437 209L432 209L432 204L427 204L427 199L432 199Z"/><path d="M436.5 190.5L441.5 190.5L441.5 195.5L446.5 195.5L446.5 200.5L441.5 200.5L441.5 205.5L436.5 205.5L436.5 200.5L431.5 200.5L431.5 195.5L436.5 195.5Z"/><path d="M440.5 187.5L445.5 187.5L445.5 192.5L450.5 192.5L450.5 197.5L445.5 197.5L445.5 202.5L440.5 202.5L440.5 197.5L435.5 197.5L435.5 192.5L440.5 192.5Z"/><path d="M445 185L450 185L450 190L455 190L455 195L450 195L450 200L445 200L445 195L440 195L440 190L445 190Z"/><path d="M449.5 184L454.5 184L454.5 189L459.5 189L459.5 194L454.5 194L454.5 199L449.5 199L449.5 194L444.5 194L444.5 189L449.5 189Z"/><path d="M454 183.7L459 183.7L459 188.7L464 188.7L464 193.7L459 193.7L459 198.7L454 198.7L454 193.7L449 193.7L449 188.7L454 188.7Z"/><path d="M458.5 184.3L463.5 184.3L463.5 189.3L468.5 189.3L468.5 194.3L463.5 194.3L463.5 199.3L458.5 199.3L458.5 194.3L453.5 194.3L453.5 189.3L458.5 189.3Z"/><path d="M462.5 187L467.5 187L467.5 192L472.5 192L472.5 197L467.5 197L467.5 202L462.5 202L462.5 197L457.5 197L457.5 192L462.5 192Z"/><path d="M466 192L471 192L471 197L476 197L476 202L471 202L471 207L466 207L466 202L461 202L461 197L466 197Z"/><path d="M470.3 195L475.3 195L475.3 200L480.3 200L480.3 205L475.3 205L475.3 210L470.3 210L470.3 205L465.3 205L465.3 200L470.3 200Z"/><path d="M474.5 197.5L479.5 197.5L479.5 202.5L484.5 202.5L484.5 207.5L479.5 207.5L479.5 212.5L474.5 212.5L474.5 207.5L469.5 207.5L469.5 202.5L474.5 202.5Z"/><path d="M479 199.5L484 199.5L484 204.5L489 204.5L489 209.5L484 209.5L484 214.5L479 214.5L479 209.5L474 209.5L474 204.5L479 204.5Z"/><path d="M483.5 201.9L488.5 201.9L488.5 206.9L493.5 206.9L493.5 211.9L488.5 211.9L488.5 216.9L483.5 216.9L483.5 211.9L478.5 211.9L478.5 206.9L483.5 206.9Z"/><path d="M487.5 205L492.5 205L492.5 210L497.5 210L497.5 215L492.5 215L492.5 220L487.5 220L487.5 215L482.5 215L482.5 210L487.5 210Z"/><path d="M492 209L497 209L497 214L502 214L502 219L497 219L497 224L492 224L492 219L487 219L487 214L492 214Z"/><path d="M496.7 213L501.7 213L501.7 218L506.7 218L506.7 223L501.7 223L501.7 228L496.7 228L496.7 223L491.7 223L491.7 218L496.7 218Z"/><path d="M498.3 217.3L503.3 217.3L503.3 222.3L508.3 222.3L508.3 227.3L503.3 227.3L503.3 232.3L498.3 232.3L498.3 227.3L493.3 227.3L493.3 222.3L498.3 222.3Z"/><path d="M502.5 225.7L507.5 225.7L507.5 230.7L512.5 230.7L512.5 235.7L507.5 235.7L507.5 240.7L502.5 240.7L502.5 235.7L497.5 235.7L497.5 230.7L502.5 230.7Z"/><path d="M505.5 228.5L510.5 228.5L510.5 233.5L515.5 233.5L515.5 238.5L510.5 238.5L510.5 243.5L505.5 243.5L505.5 238.5L500.5 238.5L500.5 233.5L505.5 233.5Z"/><path d="M508.8 231.7L513.8 231.7L513.8 236.7L518.8 236.7L518.8 241.7L513.8 241.7L513.8 246.7L508.8 246.7L508.8 241.7L503.8 241.7L503.8 236.7L508.8 236.7Z"/><path d="M512.7 238.9L517.7 238.9L517.7 243.9L522.7 243.9L522.7 248.9L517.7 248.9L517.7 253.9L512.7 253.9L512.7 248.9L507.7 248.9L507.7 243.9L512.7 243.9Z"/><path d="M515.5 240.5L520.5 240.5L520.5 245.5L525.5 245.5L525.5 250.5L520.5 250.5L520.5 255.5L515.5 255.5L515.5 250.5L510.5 250.5L510.5 245.5L515.5 245.5Z"/><path d="M519.3 243.1L524.3 243.1L524.3 248.1L529.3 248.1L529.3 253.1L524.3 253.1L524.3 258.1L519.3 258.1L519.3 253.1L514.3 253.1L514.3 248.1L519.3 248.1Z"/><path d="M518.7 250.3L523.7 250.3L523.7 255.3L528.7 255.3L528.7 260.3L523.7 260.3L523.7 265.3L518.7 265.3L518.7 260.3L513.7 260.3L513.7 255.3L518.7 255.3Z"/><path d="M523.5 255.1L528.5 255.1L528.5 260.1L533.5 260.1L533.5 265.1L528.5 265.1L528.5 270.1L523.5 270.1L523.5 265.1L518.5 265.1L518.5 260.1L523.5 260.1Z"/><path d="M526.5 257.5L531.5 257.5L531.5 262.5L536.5 262.5L536.5 267.5L531.5 267.5L531.5 272.5L526.5 272.5L526.5 267.5L521.5 267.5L521.5 262.5L526.5 262.5Z"/><path d="M529.5 261.1L534.5 261.1L534.5 266.1L539.5 266.1L539.5 271.1L534.5 271.1L534.5 276.1L529.5 276.1L529.5 271.1L524.5 271.1L524.5 266.1L529.5 266.1Z"/><path d="M530.4 269.2L535.4 269.2L535.4 274.2L540.4 274.2L540.4 279.2L535.4 279.2L535.4 284.2L530.4 284.2L530.4 279.2L525.4 279.2L525.4 274.2L530.4 274.2Z"/><path d="M544.5 294.5L549.5 294.5L549.5 299.5L554.5 299.5L554.5 304.5L549.5 304.5L549.5 309.5L544.5 309.5L544.5 304.5L539.5 304.5L539.5 299.5L544.5 299.5Z"/><path d="M545.5 296.5L550.5 296.5L550.5 301.5L555.5 301.5L555.5 306.5L550.5 306.5L550.5 311.5L545.5 311.5L545.5 306.5L540.5 306.5L540.5 301.5L545.5 301.5Z"/><path d="M545.7 301.1L550.7 301.1L550.7 306.1L555.7 306.1L555.7 311.1L550.7 311.1L550.7 316.1L545.7 316.1L545.7 311.1L540.7 311.1L540.7 306.1L545.7 306.1Z"/><path d="M549.5 310.5L554.5 310.5L554.5 315.5L559.5 315.5L559.5 320.5L554.5 320.5L554.5 325.5L549.5 325.5L549.5 320.5L544.5 320.5L544.5 315.5L549.5 315.5Z"/><path d="M564.4 347.3L569.4 347.3L569.4 352.3L574.4 352.3L574.4 357.3L569.4 357.3L569.4 362.3L564.4 362.3L564.4 357.3L559.4 357.3L559.4 352.3L564.4 352.3Z"/><path d="M568.8 353.9L573.8 353.9L573.8 358.9L578.8 358.9L578.8 363.9L573.8 363.9L573.8 368.9L568.8 368.9L568.8 363.9L563.8 363.9L563.8 358.9L568.8 358.9Z"/><path d="M576.5 362.7L581.5 362.7L581.5 367.7L586.5 367.7L586.5 372.7L581.5 372.7L581.5 377.7L576.5 377.7L576.5 372.7L571.5 372.7L571.5 367.7L576.5 367.7Z"/><path d="M580.9 380.3L585.9 380.3L585.9 385.3L590.9 385.3L590.9 390.3L585.9 390.3L585.9 395.3L580.9 395.3L580.9 390.3L575.9 390.3L575.9 385.3L580.9 385.3Z"/><path d="M586.5 391.3L591.5 391.3L591.5 396.3L596.5 396.3L596.5 401.3L591.5 401.3L591.5 406.3L586.5 406.3L586.5 401.3L581.5 401.3L581.5 396.3L586.5 396.3Z"/><path d="M590.8 402.3L595.8 402.3L595.8 407.3L600.8 407.3L600.8 412.3L595.8 412.3L595.8 417.3L590.8 417.3L590.8 412.3L585.8 412.3L585.8 407.3L590.8 407.3Z"/><path d="M596.7 417.3L601.7 417.3L601.7 422.3L606.7 422.3L606.7 427.3L601.7 427.3L601.7 432.3L596.7 432.3L596.7 427.3L591.7 427.3L591.7 422.3L596.7 422.3Z"/><path d="M597.5 416.5L602.5 416.5L602.5 421.5L607.5 421.5L607.5 426.5L602.5 426.5L602.5 431.5L597.5 431.5L597.5 426.5L592.5 426.5L592.5 421.5L597.5 421.5Z"/><path d="M602.3 428.5L607.3 428.5L607.3 433.5L612.3 433.5L612.3 438.5L607.3 438.5L607.3 443.5L602.3 443.5L602.3 438.5L597.3 438.5L597.3 433.5L602.3 433.5Z"/><path d="M605.5 439.7L610.5 439.7L610.5 444.7L615.5 444.7L615.5 449.7L610.5 449.7L610.5 454.7L605.5 454.7L605.5 449.7L600.5 449.7L600.5 444.7L605.5 444.7Z"/><path d="M616.1 459.5L621.1 459.5L621.1 464.5L626.1 464.5L626.1 469.5L621.1 469.5L621.1 474.5L616.1 474.5L616.1 469.5L611.1 469.5L611.1 464.5L616.1 464.5Z"/><path d="M656.7 501.3L661.7 501.3L661.7 506.3L666.7 506.3L666.7 511.3L661.7 511.3L661.7 516.3L656.7 516.3L656.7 511.3L651.7 511.3L651.7 506.3L656.7 506.3Z"/><path d="M663.1 508.5L668.1 508.5L668.1 513.5L673.1 513.5L673.1 518.5L668.1 518.5L668.1 523.5L663.1 523.5L663.1 518.5L658.1 518.5L658.1 513.5L663.1 513.5Z"/><path d="M679.1 521.3L684.1 521.3L684.1 526.3L689.1 526.3L689.1 531.3L684.1 531.3L684.1 536.3L679.1 536.3L679.1 531.3L674.1 531.3L674.1 526.3L679.1 526.3Z"/><path d="M797.9 644.5L802.9 644.5L802.9 649.5L807.9 649.5L807.9 654.5L802.9 654.5L802.9 659.5L797.9 659.5L797.9 654.5L792.9 654.5L792.9 649.5L797.9 649.5Z"/><path d="M818.5 672.5L823.5 672.5L823.5 677.5L828.5 677.5L828.5 682.5L823.5 682.5L823.5 687.5L818.5 687.5L818.5 682.5L813.5 682.5L813.5 677.5L818.5 677.5Z"/></g><path d="M156 974L156.31 969.81L156.72 964.2L157.21 957.53L157.75 950.12L158.32 942.33L158.91 934.48L159.47 926.93L160 920L160.49 913.56L160.98 907.22L161.46 900.96L161.94 894.75L162.43 888.57L162.93 882.41L163.45 876.22L164 870L164.58 863.74L165.18 857.45L165.8 851.16L166.44 844.88L167.08 838.6L167.73 832.36L168.37 826.15L169 820L169.62 813.85L170.23 807.67L170.83 801.5L171.44 795.38L172.05 789.33L172.68 783.39L173.33 777.6L174 772L174.7 766.62L175.43 761.44L176.18 756.41L176.94 751.5L177.71 746.65L178.48 741.81L179.24 736.95L180 732L180.74 726.97L181.45 721.91L182.16 716.82L182.88 711.75L183.6 706.71L184.36 701.72L185.15 696.81L186 692L186.89 687.31L187.81 682.72L188.77 678.21L189.75 673.75L190.77 669.32L191.81 664.91L192.89 660.47L194 656L195.13 651.53L196.27 647.09L197.43 642.68L198.62 638.25L199.87 633.79L201.17 629.28L202.54 624.69L204 620L205.53 615.19L207.12 610.28L208.78 605.29L210.5 600.25L212.28 595.18L214.12 590.09L216.03 585.03L218 580L220.06 574.92L222.22 569.72L224.46 564.47L226.75 559.25L229.07 554.12L231.41 549.16L233.72 544.43L236 540L238.25 535.91L240.5 532.11L242.75 528.53L245 525.12L247.25 521.83L249.5 518.58L251.75 515.32L254 512L256.21 508.61L258.36 505.22L260.49 501.84L262.62 498.5L264.81 495.22L267.08 492.03L269.46 488.95L272 486L274.67 483.23L277.44 480.65L280.3 478.19L283.25 475.81L286.3 473.46L289.44 471.07L292.67 468.6L296 466L299.47 463.21L303.1 460.25L306.85 457.21L310.69 454.14L314.56 451.11L318.43 448.2L322.26 445.47L326 443L329.69 440.76L333.39 438.67L337.08 436.72L340.75 434.91L344.39 433.23L347.98 431.65L351.53 430.18L355 428.8L358.44 427.54L361.88 426.41L365.28 425.41L368.62 424.51L371.89 423.7L375.06 422.95L378.11 422.26L381 421.6L383.72 421L386.29 420.48L388.73 420.03L391.06 419.64L393.33 419.29L395.55 418.98L397.77 418.69L400 418.4L402.17 418.14L404.2 417.94L406.17 417.77L408.12 417.62L410.13 417.49L412.23 417.35L414.51 417.19L417 417L419.65 416.75L422.36 416.43L425.17 416.09L428.12 415.74L431.25 415.43L434.58 415.18L438.15 415.03L442 415L446.09 415.07L450.37 415.21L454.85 415.42L459.56 415.71L464.51 416.07L469.73 416.52L475.22 417.06L481 417.7L487.16 418.41L493.71 419.18L500.58 420.02L507.69 420.96L514.96 422L522.32 423.18L529.69 424.51L537 426L544.19 427.67L551.32 429.52L558.46 431.52L565.69 433.64L573.08 435.88L580.71 438.19L588.66 440.58L597 443L605.68 445.44L614.61 447.89L623.79 450.4L633.25 453L642.99 455.72L653.02 458.61L663.35 461.69L674 465L685.2 468.64L697.04 472.62L709.31 476.83L721.81 481.19L734.34 485.58L746.68 489.91L758.64 494.09L770 498L780.42 501.54L789.93 504.76L798.93 507.8L807.81 510.79L816.97 513.86L826.79 517.17L837.67 520.83L850 525L864.73 529.99L881.88 535.81L900.47 542.12L919.54 548.6L938.11 554.9L955.19 560.69L969.81 565.64L981 569.4L988.55 571.91L993.32 573.46L995.88 574.24L996.84 574.47L996.77 574.36L996.26 574.11L995.91 573.92L996.3 574" fill="none" stroke="#b82d8c" stroke-width="2.3" stroke-dasharray="8.2 3.5"/><path d="M355 772.4V809.6M357.2 650V678M359.6 543.4V563.8M362 543.4V563.8M363.6 535.4V555.8M364.4 537V557.4M366.8 553V573.4M368.4 541.8V562.2M370 568.2V588.6M370 570.6V591M370.8 543.4V563.8M371.6 546.6V567M374 538.6V559M375.6 561V581.4M376.4 541.8V562.2M379.6 554.6V575M384.4 546.6V567M386 539.4V559.8M386 531.4V551.8M390 520.2V540.6M390.8 511.4V531.8M389.2 499.4V519.8M395.6 501.8V522.2M396.4 487.4V507.8M400.4 474.6V495M403.6 478.6V499M405.2 456.2V476.6M409.6 453V473.4M410.5 452.2V472.6M410.8 441.8V462.2M416.4 433.3V453.7M433.5 415.3V435.7M434 417.9V438.3M436.4 410.7V431.1M436.4 413.1V433.5M440.6 409.3V429.7M442 416.3V436.7M446 410.7V431.1M449 407.9V428.3M452.4 409.1V429.5M453 410.7V431.1M455.6 411.5V431.9M458.8 407.9V428.3M462 408.3V428.7M463 410.7V431.1M466.8 411.5V431.9M470 412.3V432.7M472.4 415.5V435.9M477 416.3V436.7M479.6 420.3V440.7M481 419.3V439.7M484.4 426.6V447M489.2 432.2V452.6M494.8 436.2V456.6M499.6 445V465.4M500.4 442.6V463M503.6 449V469.4M505.2 451.4V471.8M506.8 453.8V474.2M508.4 461.8V482.2M509.2 453.8V474.2M510.8 462.6V483M516.4 473V493.4M521.2 481V501.4M526 492.2V512.6M527.6 501.8V522.2M527.6 506.6V527M536.4 508.2V528.6M542 515.4V535.8M532.4 520.2V540.6M547.6 534.6V555M557.2 552.2V572.6M618.5 620.2V640.6M629.3 620.2V640.6M644.6 631V651.4M648.2 631.9V652.3M669.8 649.9V670.3M676.1 649.9V670.3M690 657.6V678M919.7 777V797.4" stroke="#b4de2c" stroke-width="2.0" fill="none"/><g fill="#b4de2c" stroke="#000" stroke-width="1.6"><path d="M347.5 791.4a7.5 7.5 0 1 0 15 0a7.5 7.5 0 1 0 -15 0Z"/><path d="M349.7 664a7.5 7.5 0 1 0 15 0a7.5 7.5 0 1 0 -15 0Z"/><path d="M352.1 553.6a7.5 7.5 0 1 0 15 0a7.5 7.5 0 1 0 -15 0Z"/><path d="M354.5 553.6a7.5 7.5 0 1 0 15 0a7.5 7.5 0 1 0 -15 0Z"/><path d="M356.1 545.6a7.5 7.5 0 1 0 15 0a7.5 7.5 0 1 0 -15 0Z"/><path d="M356.9 547.2a7.5 7.5 0 1 0 15 0a7.5 7.5 0 1 0 -15 0Z"/><path d="M359.3 563.2a7.5 7.5 0 1 0 15 0a7.5 7.5 0 1 0 -15 0Z"/><path d="M360.9 552a7.5 7.5 0 1 0 15 0a7.5 7.5 0 1 0 -15 0Z"/><path d="M362.5 578.4a7.5 7.5 0 1 0 15 0a7.5 7.5 0 1 0 -15 0Z"/><path d="M362.5 580.8a7.5 7.5 0 1 0 15 0a7.5 7.5 0 1 0 -15 0Z"/><path d="M363.3 553.6a7.5 7.5 0 1 0 15 0a7.5 7.5 0 1 0 -15 0Z"/><path d="M364.1 556.8a7.5 7.5 0 1 0 15 0a7.5 7.5 0 1 0 -15 0Z"/><path d="M366.5 548.8a7.5 7.5 0 1 0 15 0a7.5 7.5 0 1 0 -15 0Z"/><path d="M368.1 571.2a7.5 7.5 0 1 0 15 0a7.5 7.5 0 1 0 -15 0Z"/><path d="M368.9 552a7.5 7.5 0 1 0 15 0a7.5 7.5 0 1 0 -15 0Z"/><path d="M372.1 564.8a7.5 7.5 0 1 0 15 0a7.5 7.5 0 1 0 -15 0Z"/><path d="M376.9 556.8a7.5 7.5 0 1 0 15 0a7.5 7.5 0 1 0 -15 0Z"/><path d="M378.5 549.6a7.5 7.5 0 1 0 15 0a7.5 7.5 0 1 0 -15 0Z"/><path d="M378.5 541.6a7.5 7.5 0 1 0 15 0a7.5 7.5 0 1 0 -15 0Z"/><path d="M382.5 530.4a7.5 7.5 0 1 0 15 0a7.5 7.5 0 1 0 -15 0Z"/><path d="M383.3 521.6a7.5 7.5 0 1 0 15 0a7.5 7.5 0 1 0 -15 0Z"/><path d="M381.7 509.6a7.5 7.5 0 1 0 15 0a7.5 7.5 0 1 0 -15 0Z"/><path d="M388.1 512a7.5 7.5 0 1 0 15 0a7.5 7.5 0 1 0 -15 0Z"/><path d="M388.9 497.6a7.5 7.5 0 1 0 15 0a7.5 7.5 0 1 0 -15 0Z"/><path d="M392.9 484.8a7.5 7.5 0 1 0 15 0a7.5 7.5 0 1 0 -15 0Z"/><path d="M396.1 488.8a7.5 7.5 0 1 0 15 0a7.5 7.5 0 1 0 -15 0Z"/><path d="M397.7 466.4a7.5 7.5 0 1 0 15 0a7.5 7.5 0 1 0 -15 0Z"/><path d="M402.1 463.2a7.5 7.5 0 1 0 15 0a7.5 7.5 0 1 0 -15 0Z"/><path d="M403 462.4a7.5 7.5 0 1 0 15 0a7.5 7.5 0 1 0 -15 0Z"/><path d="M403.3 452a7.5 7.5 0 1 0 15 0a7.5 7.5 0 1 0 -15 0Z"/><path d="M408.9 443.5a7.5 7.5 0 1 0 15 0a7.5 7.5 0 1 0 -15 0Z"/><path d="M426 425.5a7.5 7.5 0 1 0 15 0a7.5 7.5 0 1 0 -15 0Z"/><path d="M426.5 428.1a7.5 7.5 0 1 0 15 0a7.5 7.5 0 1 0 -15 0Z"/><path d="M428.9 420.9a7.5 7.5 0 1 0 15 0a7.5 7.5 0 1 0 -15 0Z"/><path d="M428.9 423.3a7.5 7.5 0 1 0 15 0a7.5 7.5 0 1 0 -15 0Z"/><path d="M433.1 419.5a7.5 7.5 0 1 0 15 0a7.5 7.5 0 1 0 -15 0Z"/><path d="M434.5 426.5a7.5 7.5 0 1 0 15 0a7.5 7.5 0 1 0 -15 0Z"/><path d="M438.5 420.9a7.5 7.5 0 1 0 15 0a7.5 7.5 0 1 0 -15 0Z"/><path d="M441.5 418.1a7.5 7.5 0 1 0 15 0a7.5 7.5 0 1 0 -15 0Z"/><path d="M444.9 419.3a7.5 7.5 0 1 0 15 0a7.5 7.5 0 1 0 -15 0Z"/><path d="M445.5 420.9a7.5 7.5 0 1 0 15 0a7.5 7.5 0 1 0 -15 0Z"/><path d="M448.1 421.7a7.5 7.5 0 1 0 15 0a7.5 7.5 0 1 0 -15 0Z"/><path d="M451.3 418.1a7.5 7.5 0 1 0 15 0a7.5 7.5 0 1 0 -15 0Z"/><path d="M454.5 418.5a7.5 7.5 0 1 0 15 0a7.5 7.5 0 1 0 -15 0Z"/><path d="M455.5 420.9a7.5 7.5 0 1 0 15 0a7.5 7.5 0 1 0 -15 0Z"/><path d="M459.3 421.7a7.5 7.5 0 1 0 15 0a7.5 7.5 0 1 0 -15 0Z"/><path d="M462.5 422.5a7.5 7.5 0 1 0 15 0a7.5 7.5 0 1 0 -15 0Z"/><path d="M464.9 425.7a7.5 7.5 0 1 0 15 0a7.5 7.5 0 1 0 -15 0Z"/><path d="M469.5 426.5a7.5 7.5 0 1 0 15 0a7.5 7.5 0 1 0 -15 0Z"/><path d="M472.1 430.5a7.5 7.5 0 1 0 15 0a7.5 7.5 0 1 0 -15 0Z"/><path d="M473.5 429.5a7.5 7.5 0 1 0 15 0a7.5 7.5 0 1 0 -15 0Z"/><path d="M476.9 436.8a7.5 7.5 0 1 0 15 0a7.5 7.5 0 1 0 -15 0Z"/><path d="M481.7 442.4a7.5 7.5 0 1 0 15 0a7.5 7.5 0 1 0 -15 0Z"/><path d="M487.3 446.4a7.5 7.5 0 1 0 15 0a7.5 7.5 0 1 0 -15 0Z"/><path d="M492.1 455.2a7.5 7.5 0 1 0 15 0a7.5 7.5 0 1 0 -15 0Z"/><path d="M492.9 452.8a7.5 7.5 0 1 0 15 0a7.5 7.5 0 1 0 -15 0Z"/><path d="M496.1 459.2a7.5 7.5 0 1 0 15 0a7.5 7.5 0 1 0 -15 0Z"/><path d="M497.7 461.6a7.5 7.5 0 1 0 15 0a7.5 7.5 0 1 0 -15 0Z"/><path d="M499.3 464a7.5 7.5 0 1 0 15 0a7.5 7.5 0 1 0 -15 0Z"/><path d="M500.9 472a7.5 7.5 0 1 0 15 0a7.5 7.5 0 1 0 -15 0Z"/><path d="M501.7 464a7.5 7.5 0 1 0 15 0a7.5 7.5 0 1 0 -15 0Z"/><path d="M503.3 472.8a7.5 7.5 0 1 0 15 0a7.5 7.5 0 1 0 -15 0Z"/><path d="M508.9 483.2a7.5 7.5 0 1 0 15 0a7.5 7.5 0 1 0 -15 0Z"/><path d="M513.7 491.2a7.5 7.5 0 1 0 15 0a7.5 7.5 0 1 0 -15 0Z"/><path d="M518.5 502.4a7.5 7.5 0 1 0 15 0a7.5 7.5 0 1 0 -15 0Z"/><path d="M520.1 512a7.5 7.5 0 1 0 15 0a7.5 7.5 0 1 0 -15 0Z"/><path d="M520.1 516.8a7.5 7.5 0 1 0 15 0a7.5 7.5 0 1 0 -15 0Z"/><path d="M528.9 518.4a7.5 7.5 0 1 0 15 0a7.5 7.5 0 1 0 -15 0Z"/><path d="M534.5 525.6a7.5 7.5 0 1 0 15 0a7.5 7.5 0 1 0 -15 0Z"/><path d="M524.9 530.4a7.5 7.5 0 1 0 15 0a7.5 7.5 0 1 0 -15 0Z"/><path d="M540.1 544.8a7.5 7.5 0 1 0 15 0a7.5 7.5 0 1 0 -15 0Z"/><path d="M549.7 562.4a7.5 7.5 0 1 0 15 0a7.5 7.5 0 1 0 -15 0Z"/><path d="M611 630.4a7.5 7.5 0 1 0 15 0a7.5 7.5 0 1 0 -15 0Z"/><path d="M621.8 630.4a7.5 7.5 0 1 0 15 0a7.5 7.5 0 1 0 -15 0Z"/><path d="M637.1 641.2a7.5 7.5 0 1 0 15 0a7.5 7.5 0 1 0 -15 0Z"/><path d="M640.7 642.1a7.5 7.5 0 1 0 15 0a7.5 7.5 0 1 0 -15 0Z"/><path d="M662.3 660.1a7.5 7.5 0 1 0 15 0a7.5 7.5 0 1 0 -15 0Z"/><path d="M668.6 660.1a7.5 7.5 0 1 0 15 0a7.5 7.5 0 1 0 -15 0Z"/><path d="M682.5 667.8a7.5 7.5 0 1 0 15 0a7.5 7.5 0 1 0 -15 0Z"/><path d="M912.2 787.2a7.5 7.5 0 1 0 15 0a7.5 7.5 0 1 0 -15 0Z"/></g><path d="M168.7 354.2V396.4M188.5 340.6V377.3M198.8 379.5V415.8M209.4 398.6V446.2M241.7 377.3V414.3M266.8 479.6V522M288 491.7V534.6M298 474.5V513.7M303.6 497.2V541.7M308.4 466.4V510M315 460V500M319 460V502M325.4 443V482M339.7 433V473M346.8 406.7V444.4M372.6 382V416.4M383.2 382.6V417M404.4 375V409M430.5 374V408M456.7 367V399M465.8 373V405M472.5 372V404M486.8 375V407M493.1 372V403M498.7 375V407M522.8 392V424M546 407V438M549.3 411V443M561.4 408V440M569.1 416V447M576.8 418V450M582.3 427V458M596.6 435V466M602.1 446V477M613.1 444V475M624.1 439V470M619.7 447V478M638.4 433V463M645 441V471M656 443V473M664 449V479M666.4 448V478M686.4 450V479M690.4 451V480M702.4 453V481M713.6 466V494M717.6 465V493M720 472V500M728.6 476V504M737 481V509M739.2 483V511M749.8 485V512M764.8 488V515M785.6 500V528M801 514V542M809.6 516V543M831 506V537M851.2 519V546M854.4 521V548M864 528V555M874.6 529V557M890.6 524V552M900.2 524V551M905.6 527V554M911 528V555M916.8 532V558M923.2 537V564M926.4 540V567M937.6 544V570M942.4 546V572M948.8 542V569M953.6 539V566M958.4 541V567" stroke="#b5338f" stroke-width="2.0" fill="none"/><g fill="#b5338f" stroke="#000" stroke-width="1.6"><path d="M168.7 364.7L175.2 375.5L168.7 386.3L162.2 375.5Z"/><path d="M188.5 348.2L195 359L188.5 369.8L182 359Z"/><path d="M198.8 386.3L205.3 397.1L198.8 407.9L192.3 397.1Z"/><path d="M209.4 411.2L215.9 422L209.4 432.8L202.9 422Z"/><path d="M241.7 384.8L248.2 395.6L241.7 406.4L235.2 395.6Z"/><path d="M266.8 489.7L273.3 500.5L266.8 511.3L260.3 500.5Z"/><path d="M288 501.8L294.5 512.6L288 523.4L281.5 512.6Z"/><path d="M298 485.7L304.5 496.5L298 507.3L291.5 496.5Z"/><path d="M303.6 506.2L310.1 517L303.6 527.8L297.1 517Z"/><path d="M308.4 477.2L314.9 488L308.4 498.8L301.9 488Z"/><path d="M315 468.8L321.5 479.6L315 490.4L308.5 479.6Z"/><path d="M319 470.6L325.5 481.4L319 492.2L312.5 481.4Z"/><path d="M325.4 451.2L331.9 462L325.4 472.8L318.9 462Z"/><path d="M339.7 441.2L346.2 452L339.7 462.8L333.2 452Z"/><path d="M346.8 414.1L353.3 424.9L346.8 435.7L340.3 424.9Z"/><path d="M372.6 388.1L379.1 398.9L372.6 409.7L366.1 398.9Z"/><path d="M383.2 388.7L389.7 399.5L383.2 410.3L376.7 399.5Z"/><path d="M404.4 381.6L410.9 392.4L404.4 403.2L397.9 392.4Z"/><path d="M430.5 380.3L437 391.1L430.5 401.9L424 391.1Z"/><path d="M456.7 371.9L463.2 382.7L456.7 393.5L450.2 382.7Z"/><path d="M465.8 378.2L472.3 389L465.8 399.8L459.3 389Z"/><path d="M472.5 377.5L479 388.3L472.5 399.1L466 388.3Z"/><path d="M486.8 380.3L493.3 391.1L486.8 401.9L480.3 391.1Z"/><path d="M493.1 376.8L499.6 387.6L493.1 398.4L486.6 387.6Z"/><path d="M498.7 380.3L505.2 391.1L498.7 401.9L492.2 391.1Z"/><path d="M522.8 397.8L529.3 408.6L522.8 419.4L516.3 408.6Z"/><path d="M546 412.2L552.5 423L546 433.8L539.5 423Z"/><path d="M549.3 416.6L555.8 427.4L549.3 438.2L542.8 427.4Z"/><path d="M561.4 413.3L567.9 424.1L561.4 434.9L554.9 424.1Z"/><path d="M569.1 421L575.6 431.8L569.1 442.6L562.6 431.8Z"/><path d="M576.8 423.2L583.3 434L576.8 444.8L570.3 434Z"/><path d="M582.3 432L588.8 442.8L582.3 453.6L575.8 442.8Z"/><path d="M596.6 439.7L603.1 450.5L596.6 461.3L590.1 450.5Z"/><path d="M602.1 450.7L608.6 461.5L602.1 472.3L595.6 461.5Z"/><path d="M613.1 448.5L619.6 459.3L613.1 470.1L606.6 459.3Z"/><path d="M624.1 444.1L630.6 454.9L624.1 465.7L617.6 454.9Z"/><path d="M619.7 451.8L626.2 462.6L619.7 473.4L613.2 462.6Z"/><path d="M638.4 437.5L644.9 448.3L638.4 459.1L631.9 448.3Z"/><path d="M645 445.2L651.5 456L645 466.8L638.5 456Z"/><path d="M656 447.4L662.5 458.2L656 469L649.5 458.2Z"/><path d="M664 453.2L670.5 464L664 474.8L657.5 464Z"/><path d="M666.4 452.1L672.9 462.9L666.4 473.7L659.9 462.9Z"/><path d="M686.4 454L692.9 464.8L686.4 475.6L679.9 464.8Z"/><path d="M690.4 454.8L696.9 465.6L690.4 476.4L683.9 465.6Z"/><path d="M702.4 456.4L708.9 467.2L702.4 478L695.9 467.2Z"/><path d="M713.6 469.2L720.1 480L713.6 490.8L707.1 480Z"/><path d="M717.6 468.2L724.1 479L717.6 489.8L711.1 479Z"/><path d="M720 475.4L726.5 486.2L720 497L713.5 486.2Z"/><path d="M728.6 479.2L735.1 490L728.6 500.8L722.1 490Z"/><path d="M737 484L743.5 494.8L737 505.6L730.5 494.8Z"/><path d="M739.2 486.2L745.7 497L739.2 507.8L732.7 497Z"/><path d="M749.8 487.8L756.3 498.6L749.8 509.4L743.3 498.6Z"/><path d="M764.8 490.4L771.3 501.2L764.8 512L758.3 501.2Z"/><path d="M785.6 503.2L792.1 514L785.6 524.8L779.1 514Z"/><path d="M801 517L807.5 527.8L801 538.6L794.5 527.8Z"/><path d="M809.6 518.6L816.1 529.4L809.6 540.2L803.1 529.4Z"/><path d="M831 510.6L837.5 521.4L831 532.2L824.5 521.4Z"/><path d="M851.2 521.8L857.7 532.6L851.2 543.4L844.7 532.6Z"/><path d="M854.4 524L860.9 534.8L854.4 545.6L847.9 534.8Z"/><path d="M864 530.4L870.5 541.2L864 552L857.5 541.2Z"/><path d="M874.6 532L881.1 542.8L874.6 553.6L868.1 542.8Z"/><path d="M890.6 527.2L897.1 538L890.6 548.8L884.1 538Z"/><path d="M900.2 526.6L906.7 537.4L900.2 548.2L893.7 537.4Z"/><path d="M905.6 529.8L912.1 540.6L905.6 551.4L899.1 540.6Z"/><path d="M911 531L917.5 541.8L911 552.6L904.5 541.8Z"/><path d="M916.8 534.2L923.3 545L916.8 555.8L910.3 545Z"/><path d="M923.2 540L929.7 550.8L923.2 561.6L916.7 550.8Z"/><path d="M926.4 542.6L932.9 553.4L926.4 564.2L919.9 553.4Z"/><path d="M937.6 546.4L944.1 557.2L937.6 568L931.1 557.2Z"/><path d="M942.4 548L948.9 558.8L942.4 569.6L935.9 558.8Z"/><path d="M948.8 544.8L955.3 555.6L948.8 566.4L942.3 555.6Z"/><path d="M953.6 541.6L960.1 552.4L953.6 563.2L947.1 552.4Z"/><path d="M958.4 543.2L964.9 554L958.4 564.8L951.9 554Z"/></g></g><rect x="128.5" y="152.5" width="867.8" height="821.5" fill="none" stroke="#000" stroke-width="1.6"/><g transform="translate(54.12 235.7)" font-size="23.10" fill="#000"><text transform="translate(0 0) scale(1.090 1)">4</text><text transform="translate(14 0) scale(1.090 1)">2</text><text transform="translate(27.99 0) scale(1.090 1)">.</text><text transform="translate(34.99 0) scale(1.090 1)">5</text><text transform="translate(48.98 0) scale(1.090 1)">0</text></g><g transform="translate(54.12 328.98)" font-size="23.10" fill="#000"><text transform="translate(0 0) scale(1.090 1)">4</text><text transform="translate(14 0) scale(1.090 1)">2</text><text transform="translate(27.99 0) scale(1.090 1)">.</text><text transform="translate(34.99 0) scale(1.090 1)">2</text><text transform="translate(48.98 0) scale(1.090 1)">5</text></g><g transform="translate(54.12 422.26)" font-size="23.10" fill="#000"><text transform="translate(0 0) scale(1.090 1)">4</text><text transform="translate(14 0) scale(1.090 1)">2</text><text transform="translate(27.99 0) scale(1.090 1)">.</text><text transform="translate(34.99 0) scale(1.090 1)">0</text><text transform="translate(48.98 0) scale(1.090 1)">0</text></g><g transform="translate(54.12 515.54)" font-size="23.10" fill="#000"><text transform="translate(0 0) scale(1.090 1)">4</text><text transform="translate(14 0) scale(1.090 1)">1</text><text transform="translate(27.99 0) scale(1.090 1)">.</text><text transform="translate(34.99 0) scale(1.090 1)">7</text><text transform="translate(48.98 0) scale(1.090 1)">5</text></g><g transform="translate(54.12 608.82)" font-size="23.10" fill="#000"><text transform="translate(0 0) scale(1.090 1)">4</text><text transform="translate(14 0) scale(1.090 1)">1</text><text transform="translate(27.99 0) scale(1.090 1)">.</text><text transform="translate(34.99 0) scale(1.090 1)">5</text><text transform="translate(48.98 0) scale(1.090 1)">0</text></g><g transform="translate(54.12 702.1)" font-size="23.10" fill="#000"><text transform="translate(0 0) scale(1.090 1)">4</text><text transform="translate(14 0) scale(1.090 1)">1</text><text transform="translate(27.99 0) scale(1.090 1)">.</text><text transform="translate(34.99 0) scale(1.090 1)">2</text><text transform="translate(48.98 0) scale(1.090 1)">5</text></g><g transform="translate(54.12 795.38)" font-size="23.10" fill="#000"><text transform="translate(0 0) scale(1.090 1)">4</text><text transform="translate(14 0) scale(1.090 1)">1</text><text transform="translate(27.99 0) scale(1.090 1)">.</text><text transform="translate(34.99 0) scale(1.090 1)">0</text><text transform="translate(48.98 0) scale(1.090 1)">0</text></g><g transform="translate(54.12 888.66)" font-size="23.10" fill="#000"><text transform="translate(0 0) scale(1.090 1)">4</text><text transform="translate(14 0) scale(1.090 1)">0</text><text transform="translate(27.99 0) scale(1.090 1)">.</text><text transform="translate(34.99 0) scale(1.090 1)">7</text><text transform="translate(48.98 0) scale(1.090 1)">5</text></g><g transform="translate(54.12 981.94)" font-size="23.10" fill="#000"><text transform="translate(0 0) scale(1.090 1)">4</text><text transform="translate(14 0) scale(1.090 1)">0</text><text transform="translate(27.99 0) scale(1.090 1)">.</text><text transform="translate(34.99 0) scale(1.090 1)">5</text><text transform="translate(48.98 0) scale(1.090 1)">0</text></g><g transform="translate(115.53 1002.1)" font-size="23.10" fill="#000"><text transform="translate(1.12 0) scale(1.200 1)">−</text><text transform="translate(18.43 0) scale(1.090 1)">6</text><text transform="translate(32.43 0) scale(1.090 1)">0</text></g><g transform="translate(220.75 1002.1)" font-size="23.10" fill="#000"><text transform="translate(1.12 0) scale(1.200 1)">−</text><text transform="translate(18.43 0) scale(1.090 1)">4</text><text transform="translate(32.43 0) scale(1.090 1)">0</text></g><g transform="translate(325.97 1002.1)" font-size="23.10" fill="#000"><text transform="translate(1.12 0) scale(1.200 1)">−</text><text transform="translate(18.43 0) scale(1.090 1)">2</text><text transform="translate(32.43 0) scale(1.090 1)">0</text></g><g transform="translate(447.4 1002.1)" font-size="23.10" fill="#000"><text transform="translate(0 0) scale(1.090 1)">0</text></g><g transform="translate(545.62 1002.1)" font-size="23.10" fill="#000"><text transform="translate(0 0) scale(1.090 1)">2</text><text transform="translate(14 0) scale(1.090 1)">0</text></g><g transform="translate(650.84 1002.1)" font-size="23.10" fill="#000"><text transform="translate(0 0) scale(1.090 1)">4</text><text transform="translate(14 0) scale(1.090 1)">0</text></g><g transform="translate(756.06 1002.1)" font-size="23.10" fill="#000"><text transform="translate(0 0) scale(1.090 1)">6</text><text transform="translate(14 0) scale(1.090 1)">0</text></g><g transform="translate(861.28 1002.1)" font-size="23.10" fill="#000"><text transform="translate(0 0) scale(1.090 1)">8</text><text transform="translate(14 0) scale(1.090 1)">0</text></g><g transform="translate(959.5 1002.1)" font-size="23.10" fill="#000"><text transform="translate(0 0) scale(1.090 1)">1</text><text transform="translate(14 0) scale(1.090 1)">0</text><text transform="translate(27.99 0) scale(1.090 1)">0</text></g><path d="M128.5 227.5H122.9M128.5 320.78H122.9M128.5 414.06H122.9M128.5 507.34H122.9M128.5 600.62H122.9M128.5 693.9H122.9M128.5 787.18H122.9M128.5 880.46H122.9M128.5 973.74H122.9M138.74 974.0V979.6M243.96 974.0V979.6M349.18 974.0V979.6M454.4 974.0V979.6M559.62 974.0V979.6M664.84 974.0V979.6M770.06 974.0V979.6M875.28 974.0V979.6M980.5 974.0V979.6" stroke="#000" stroke-width="1.6"/><g transform="translate(297.79 1037.8)" font-size="34.34" fill="#000"><text transform="translate(0 0) scale(0.916 1)">R</text><text transform="translate(21.99 0) scale(1.053 1)">e</text><text transform="translate(41.37 0) scale(0.992 1)">s</text><text transform="translate(59.09 0) scale(1.200 1)">t</text><text transform="translate(71.23 0) scale(1.031 1)">-</text><text transform="translate(83.06 0) scale(1.200 1)">f</text><text transform="translate(94.54 0) scale(1.175 1)">r</text><text transform="translate(107.98 0) scale(1.049 1)">a</text><text transform="translate(128.02 0) scale(1.113 1)">m</text><text transform="translate(159.88 0) scale(1.053 1)">e</text><text transform="translate(190.39 0) scale(1.087 1)">d</text><text transform="translate(211.14 0) scale(1.049 1)">a</text><text transform="translate(231.18 0) scale(1.127 1)">y</text><text transform="translate(250.53 0) scale(0.992 1)">s</text><text transform="translate(278 0) scale(1.200 1)">f</text><text transform="translate(289.48 0) scale(1.175 1)">r</text><text transform="translate(302.56 0) scale(1.047 1)">o</text><text transform="translate(322.21 0) scale(1.113 1)">m</text><text transform="translate(364.46 0) scale(1.113 1)">m</text><text transform="translate(396.31 0) scale(1.049 1)">a</text><text transform="translate(416.35 0) scale(1.127 1)">x</text><text transform="translate(435.7 0) scale(1.191 1)">i</text><text transform="translate(444.79 0) scale(1.113 1)">m</text><text transform="translate(476.64 0) scale(1.085 1)">u</text><text transform="translate(497.36 0) scale(1.113 1)">m</text></g><g transform="translate(41.4 923.56) rotate(-90)"><g transform="translate(0 0)" font-size="34.34" fill="#000"><text transform="translate(0 0) scale(1.099 1)">(</text><text transform="translate(12.57 0) scale(0.848 1)">P</text><text transform="translate(31.71 0) scale(0.977 1)">s</text><text transform="translate(48.21 0) scale(1.037 1)">e</text><text transform="translate(68.03 0) scale(1.069 1)">u</text><text transform="translate(88.45 0) scale(1.070 1)">d</text><text transform="translate(108.9 0) scale(1.032 1)">o</text><text transform="translate(128.91 0) scale(1.016 1)">-</text><text transform="translate(140.83 0) scale(1.099 1)">)</text><text transform="translate(153.4 0) scale(1.070 1)">b</text><text transform="translate(173.85 0) scale(1.032 1)">o</text><text transform="translate(193.56 0) scale(1.173 1)">l</text><text transform="translate(202.51 0) scale(1.032 1)">o</text><text transform="translate(222.22 0) scale(1.097 1)">m</text><text transform="translate(253.6 0) scale(1.037 1)">e</text><text transform="translate(274.01 0) scale(1.200 1)">t</text><text transform="translate(286.05 0) scale(1.158 1)">r</text><text transform="translate(299.3 0) scale(1.173 1)">i</text><text transform="translate(308.25 0) scale(1.031 1)">c</text><text transform="translate(336.2 0) scale(1.173 1)">l</text><text transform="translate(345.15 0) scale(1.069 1)">u</text><text transform="translate(365.57 0) scale(1.097 1)">m</text><text transform="translate(396.95 0) scale(1.173 1)">i</text><text transform="translate(405.9 0) scale(1.069 1)">n</text><text transform="translate(426.32 0) scale(1.032 1)">o</text><text transform="translate(446.03 0) scale(0.977 1)">s</text><text transform="translate(462.81 0) scale(1.173 1)">i</text><text transform="translate(472.35 0) scale(1.200 1)">t</text><text transform="translate(484.39 0) scale(1.110 1)">y</text><text transform="translate(513.7 0) scale(1.099 1)">(</text><text transform="translate(526.27 0) scale(1.173 1)">l</text><text transform="translate(535.22 0) scale(1.032 1)">o</text><text transform="translate(554.93 0) scale(1.070 1)">g</text><text transform="translate(585.62 0) scale(1.037 1)">e</text><text transform="translate(605.44 0) scale(1.158 1)">r</text><text transform="translate(618.4 0) scale(1.070 1)">g</text><text transform="translate(638.56 0) scale(0.977 1)">s</text><text transform="translate(665.59 0) scale(0.977 1)">s</text></g><g transform="translate(682.76 -13.2)" font-size="24.03" fill="#000"><text transform="translate(1.17 0) scale(1.200 1)">−</text><text transform="translate(19.19 0) scale(1.089 1)">1</text></g><g transform="translate(717.36 0)" font-size="34.34" fill="#000"><text transform="translate(0 0) scale(1.115 1)">)</text></g></g><rect x="57.9" y="0.9" width="939.4" height="142.9" rx="3.7" ry="3.7" fill="#fff" fill-opacity="0.8" stroke="#d0d0d0" stroke-width="1.6"/><path d="M96.9 9.7V37.7" stroke="#b5338f" stroke-width="2"/><path d="M96.9 12.9L103.4 23.7L96.9 34.5L90.4 23.7Z" fill="#b5338f" stroke="#000" stroke-width="1.6"/><g transform="translate(122.1 32.8)" font-size="28.88" fill="#000"><text transform="translate(0 0) scale(0.906 1)">S</text><text transform="translate(17.46 0) scale(0.986 1)">N</text><text transform="translate(38.03 0) scale(1.089 1)">2</text><text transform="translate(55.52 0) scale(1.089 1)">0</text><text transform="translate(73.02 0) scale(1.089 1)">2</text><text transform="translate(90.52 0) scale(1.089 1)">2</text><text transform="translate(108.01 0) scale(1.190 1)">j</text><text transform="translate(115.65 0) scale(1.190 1)">l</text><text transform="translate(123.29 0) scale(1.190 1)">i</text><text transform="translate(139.68 0) scale(0.953 1)">L</text></g><g transform="translate(277.1 38.1)" font-size="21.37" font-style="italic" fill="#000"><text transform="translate(0 0) scale(0.980 1)">B</text><text transform="translate(13.96 0) scale(1.088 1)">g</text><text transform="translate(26.88 0) scale(1.048 1)">c</text><text transform="translate(38.07 0) scale(0.978 1)">V</text><text transform="translate(51.99 0) scale(1.177 1)">r</text><text transform="translate(60.35 0) scale(1.049 1)">o</text><text transform="translate(72.8 0) scale(1.192 1)">i</text><text x="78.46" y="0">z</text></g><path d="M96.9 54.8V82.8" stroke="#2a0490" stroke-width="2"/><path d="M96.9 61.65L90.71 65.22L90.71 72.38L96.9 75.95L103.09 72.38L103.09 65.22Z" fill="#2a0490" stroke="#000" stroke-width="1.6"/><g transform="translate(122.1 77.9)" font-size="28.88" fill="#000"><text transform="translate(0 0) scale(0.906 1)">S</text><text transform="translate(17.46 0) scale(0.986 1)">N</text><text transform="translate(38.03 0) scale(1.089 1)">2</text><text transform="translate(55.52 0) scale(1.089 1)">0</text><text transform="translate(73.02 0) scale(1.089 1)">0</text><text transform="translate(90.52 0) scale(1.089 1)">7</text><text transform="translate(108.01 0) scale(1.086 1)">g</text><text transform="translate(125.47 0) scale(1.175 1)">r</text><text transform="translate(145.52 0) scale(0.953 1)">L</text></g><g transform="translate(282.94 83.2)" font-size="21.37" font-style="italic" fill="#000"><text transform="translate(0 0) scale(0.966 1)">U</text><text transform="translate(14.89 0) scale(0.980 1)">B</text><text transform="translate(28.86 0) scale(0.978 1)">V</text><text transform="translate(42.78 0) scale(0.917 1)">R</text><text transform="translate(56.92 0) scale(1.012 1)">I</text><text transform="translate(61.65 0) scale(0.800 1)">J</text><text transform="translate(68.92 0) scale(0.993 1)">H</text></g><path d="M96.9 100.2V128.2" stroke="#fba638" stroke-width="2"/><path d="M93.08 106.55L96.9 110.38L100.73 106.55L104.55 110.38L100.73 114.2L104.55 118.03L100.73 121.85L96.9 118.03L93.08 121.85L89.25 118.03L93.08 114.2L89.25 110.38Z" fill="#fba638" stroke="#000" stroke-width="1.6"/><g transform="translate(122.1 123.3)" font-size="28.88" fill="#000"><text transform="translate(0 0) scale(1.190 1)">i</text><text transform="translate(7.64 0) scale(0.860 1)">P</text><text transform="translate(24.22 0) scale(0.952 1)">T</text><text transform="translate(41.02 0) scale(0.896 1)">F</text><text transform="translate(56.84 0) scale(1.089 1)">1</text><text transform="translate(74.34 0) scale(1.089 1)">5</text><text transform="translate(91.83 0) scale(1.086 1)">d</text><text transform="translate(109.86 0) scale(1.200 1)">t</text><text transform="translate(120.07 0) scale(1.086 1)">g</text><text transform="translate(146.27 0) scale(0.953 1)">L</text></g><g transform="translate(283.69 128.6)" font-size="21.37" font-style="italic" fill="#000"><text transform="translate(0 0) scale(0.980 1)">B</text><text transform="translate(13.96 0) scale(1.088 1)">g</text><text transform="translate(26.88 0) scale(1.177 1)">r</text><text transform="translate(35.24 0) scale(1.192 1)">i</text></g><path d="M416.8 9.7V37.7" stroke="#35608c" stroke-width="2"/><path d="M409.3 16.2h15v15h-15Z" fill="#35608c" stroke="#000" stroke-width="1.6"/><g transform="translate(442 32.8)" font-size="28.88" fill="#000"><text transform="translate(0 0) scale(0.906 1)">S</text><text transform="translate(17.46 0) scale(0.986 1)">N</text><text transform="translate(38.03 0) scale(1.089 1)">2</text><text transform="translate(55.52 0) scale(1.089 1)">0</text><text transform="translate(73.02 0) scale(1.089 1)">0</text><text transform="translate(90.52 0) scale(1.089 1)">7</text><text transform="translate(108.01 0) scale(0.871 1)">Y</text><text transform="translate(133.55 0) scale(0.953 1)">L</text></g><g transform="translate(590.87 38.1)" font-size="21.37" font-style="italic" fill="#000"><text transform="translate(0 0) scale(0.966 1)">U</text><text transform="translate(14.89 0) scale(0.980 1)">B</text><text transform="translate(28.86 0) scale(0.978 1)">V</text></g><path d="M416.8 54.8V82.8" stroke="#21918c" stroke-width="2"/><path d="M414.3 61.3L419.3 61.3L419.3 66.3L424.3 66.3L424.3 71.3L419.3 71.3L419.3 76.3L414.3 76.3L414.3 71.3L409.3 71.3L409.3 66.3L414.3 66.3Z" fill="#21918c" stroke="#000" stroke-width="1.6"/><g transform="translate(442 77.9)" font-size="28.88" fill="#000"><text transform="translate(0 0) scale(0.906 1)">S</text><text transform="translate(17.46 0) scale(0.986 1)">N</text><text transform="translate(38.03 0) scale(1.089 1)">2</text><text transform="translate(55.52 0) scale(1.089 1)">0</text><text transform="translate(73.02 0) scale(1.089 1)">0</text><text transform="translate(90.52 0) scale(1.089 1)">5</text><text transform="translate(108.01 0) scale(1.086 1)">b</text><text transform="translate(125.49 0) scale(1.200 1)">f</text><text transform="translate(143.89 0) scale(0.953 1)">L</text></g><g transform="translate(601.21 83.2)" font-size="21.37" font-style="italic" fill="#000"><text transform="translate(0 0) scale(1.086 1)">u</text><text transform="translate(12.9 0) scale(0.966 1)">U</text><text transform="translate(27.79 0) scale(0.980 1)">B</text><text transform="translate(41.75 0) scale(1.088 1)">g</text><text transform="translate(54.67 0) scale(0.978 1)">V</text><text transform="translate(68.59 0) scale(1.177 1)">r</text><text transform="translate(76.96 0) scale(1.192 1)">i</text></g><path d="M733.0 54.8V82.8" stroke="#b4de2c" stroke-width="2"/><path d="M725.5 68.8a7.5 7.5 0 1 0 15 0a7.5 7.5 0 1 0 -15 0Z" fill="#b4de2c" stroke="#000" stroke-width="1.6"/><g transform="translate(758.2 77.9)" font-size="28.88" fill="#000"><text transform="translate(0 0) scale(0.906 1)">S</text><text transform="translate(17.46 0) scale(0.986 1)">N</text><text transform="translate(38.03 0) scale(1.089 1)">2</text><text transform="translate(55.52 0) scale(1.089 1)">0</text><text transform="translate(73.02 0) scale(1.089 1)">0</text><text transform="translate(90.52 0) scale(1.089 1)">8</text><text transform="translate(108.01 0) scale(1.015 1)">D</text><text transform="translate(137.93 0) scale(0.953 1)">L</text></g><g transform="translate(911.45 83.2)" font-size="21.37" font-style="italic" fill="#000"><text transform="translate(0 0) scale(0.966 1)">U</text><text transform="translate(14.89 0) scale(0.980 1)">B</text><text transform="translate(28.86 0) scale(0.978 1)">V</text><text transform="translate(42.78 0) scale(0.917 1)">R</text><text transform="translate(56.92 0) scale(1.012 1)">I</text></g><path d="M706 23.7H762" stroke="#b82d8c" stroke-width="2.1" stroke-dasharray="5.8 6.6"/><g transform="translate(759.4 33.6)" font-size="28.88" fill="#000"><text transform="translate(0 0) scale(0.976 1)">A</text><text transform="translate(18.81 0) scale(1.175 1)">r</text><text transform="translate(29.88 0) scale(1.084 1)">n</text><text transform="translate(47.06 0) scale(1.053 1)">e</text><text transform="translate(64.56 0) scale(1.200 1)">t</text><text transform="translate(75.34 0) scale(1.200 1)">t</text><text transform="translate(94.29 0) scale(0.986 1)">M</text><text transform="translate(118.02 0) scale(1.047 1)">o</text><text transform="translate(134.84 0) scale(1.086 1)">d</text><text transform="translate(152.3 0) scale(1.053 1)">e</text><text transform="translate(169.22 0) scale(1.190 1)">l</text></g><rect x="128.75" y="1056.5" width="92.75" height="821" fill="#e3e3e3"/><path d="M221.6 1056.5V1877.5" stroke="#b4b4b4" stroke-width="2"/><g clip-path="url(#c2)"><path d="M222 1138.2L223.26 1137.3L224.89 1136.12L226.82 1134.72L229 1133.15L231.37 1131.46L233.86 1129.71L236.42 1127.94L239 1126.2L241.75 1124.37L244.79 1122.33L248.01 1120.17L251.31 1118L254.57 1115.9L257.68 1113.98L260.53 1112.31L263 1111L264.99 1110.08L266.56 1109.46L267.85 1109.08L269 1108.89L270.15 1108.81L271.44 1108.77L273.01 1108.73L275 1108.6L277.34 1108.41L279.88 1108.22L282.59 1108.06L285.5 1107.92L288.59 1107.84L291.88 1107.81L295.34 1107.86L299 1108L303 1108.24L307.41 1108.56L312.1 1108.96L316.94 1109.42L321.78 1109.93L326.49 1110.47L330.94 1111.04L335 1111.6L338.69 1112.18L342.14 1112.81L345.4 1113.47L348.5 1114.15L351.47 1114.85L354.36 1115.57L357.19 1116.28L360 1117L362.67 1117.72L365.12 1118.45L367.43 1119.19L369.69 1119.93L371.99 1120.69L374.41 1121.45L377.06 1122.22L380 1123L382.93 1123.67L385.62 1124.18L388.32 1124.63L391.25 1125.12L394.65 1125.76L398.75 1126.62L403.79 1127.82L410 1129.45L418.02 1131.7L427.89 1134.56L438.97 1137.83L450.62 1141.3L462.2 1144.76L473.05 1148.01L482.53 1150.84L490 1153.05L494.89 1154.47L497.58 1155.22L498.82 1155.55L499.38 1155.66L500.01 1155.81L501.48 1156.21L504.56 1157.09L510 1158.7L517.56 1160.93L526.41 1163.53L536.43 1166.47L547.5 1169.74L559.51 1173.32L572.34 1177.18L585.88 1181.32L600 1185.7L615.65 1190.63L633.36 1196.27L652.35 1202.36L671.88 1208.64L691.16 1214.87L709.45 1220.79L725.99 1226.15L740 1230.7L750.76 1234.18L758.67 1236.73L764.69 1238.67L769.77 1240.33L774.89 1242.03L781 1244.11L789.05 1246.89L800 1250.7L814.93 1255.94L833.39 1262.47L854.04 1269.8L875.55 1277.45L896.59 1284.95L915.84 1291.81L931.95 1297.55L943.6 1301.7L943.6 1308.3L931.95 1304.15L915.84 1298.41L896.59 1291.55L875.55 1284.05L854.04 1276.4L833.39 1269.07L814.93 1262.54L800 1257.3L789.05 1253.49L781 1250.71L774.89 1248.63L769.77 1246.92L764.69 1245.27L758.67 1243.33L750.76 1240.78L740 1237.3L725.99 1232.75L709.45 1227.39L691.16 1221.47L671.88 1215.24L652.35 1208.96L633.36 1202.87L615.65 1197.23L600 1192.3L585.88 1187.91L572.34 1183.76L559.51 1179.88L547.5 1176.28L536.43 1173L526.41 1170.06L517.56 1167.49L510 1165.3L504.56 1163.77L501.48 1162.99L500.01 1162.72L499.38 1162.71L498.82 1162.73L497.58 1162.54L494.89 1161.89L490 1160.55L482.53 1158.38L473.05 1155.56L462.2 1152.3L450.62 1148.83L438.97 1145.34L427.89 1142.05L418.02 1139.18L410 1136.95L403.79 1135.36L398.75 1134.22L394.65 1133.43L391.25 1132.88L388.32 1132.46L385.62 1132.08L382.93 1131.63L380 1131L377.06 1130.25L374.41 1129.48L371.99 1128.71L369.69 1127.94L367.43 1127.18L365.12 1126.43L362.67 1125.7L360 1125L357.19 1124.31L354.36 1123.62L351.47 1122.94L348.5 1122.27L345.4 1121.64L342.14 1121.04L338.69 1120.49L335 1120L330.94 1119.54L326.49 1119.1L321.78 1118.7L316.94 1118.34L312.1 1118.03L307.41 1117.8L303 1117.65L299 1117.6L295.34 1117.67L291.88 1117.85L288.59 1118.12L285.5 1118.46L282.59 1118.85L279.88 1119.25L277.34 1119.64L275 1120L273.01 1120.25L271.44 1120.38L270.15 1120.46L269 1120.58L267.85 1120.81L266.56 1121.24L264.99 1121.94L263 1123L260.53 1124.47L257.68 1126.28L254.57 1128.37L251.31 1130.66L248.01 1133.07L244.79 1135.51L241.75 1137.91L239 1140.2L236.42 1142.53L233.86 1145.07L231.37 1147.68L229 1150.28L226.82 1152.73L224.89 1154.95L223.26 1156.81L222 1158.2Z" fill="#f9cf25" stroke="#f9cf25" stroke-width="0.6" stroke-linejoin="round"/><path d="M222 1226.4L223.26 1225.18L224.89 1223.55L226.82 1221.61L229 1219.46L231.37 1217.2L233.86 1214.94L236.42 1212.77L239 1210.8L241.67 1208.92L244.51 1207L247.49 1205.07L250.56 1203.19L253.69 1201.39L256.84 1199.73L259.95 1198.25L263 1197L266 1195.98L269 1195.16L272 1194.51L275 1194L278 1193.6L281 1193.29L284 1193.03L287 1192.8L290 1192.63L293 1192.56L296 1192.57L299 1192.65L302 1192.79L305 1192.97L308 1193.18L311 1193.4L313.99 1193.65L316.98 1193.94L319.96 1194.27L322.94 1194.63L325.93 1195.03L328.93 1195.46L331.95 1195.92L335 1196.4L338.11 1196.92L341.3 1197.48L344.52 1198.08L347.75 1198.7L350.95 1199.34L354.08 1199.98L357.11 1200.62L360 1201.25L362.6 1201.83L364.88 1202.36L366.99 1202.87L369.06 1203.39L371.25 1203.95L373.71 1204.6L376.58 1205.35L380 1206.25L383.7 1207.21L387.42 1208.16L391.34 1209.16L395.62 1210.26L400.46 1211.53L406.02 1213.03L412.47 1214.8L420 1216.9L428.86 1219.4L438.98 1222.27L450.09 1225.44L461.88 1228.82L474.05 1232.33L486.33 1235.9L498.41 1239.45L510 1242.9L520.91 1246.19L531.33 1249.38L541.55 1252.55L551.88 1255.78L562.59 1259.14L573.98 1262.73L586.36 1266.62L600 1270.9L615.65 1275.81L633.36 1281.36L652.35 1287.33L671.88 1293.46L691.16 1299.53L709.45 1305.28L725.99 1310.49L740 1314.9L750.76 1318.23L758.67 1320.59L764.69 1322.33L769.77 1323.79L774.89 1325.33L781 1327.3L789.05 1330.04L800 1333.9L814.93 1339.32L833.39 1346.14L854.04 1353.86L875.55 1361.94L896.59 1369.87L915.84 1377.14L931.95 1383.22L943.6 1387.6L943.6 1393.8L931.95 1389.42L915.84 1383.34L896.59 1376.07L875.55 1368.14L854.04 1360.06L833.39 1352.34L814.93 1345.52L800 1340.1L789.05 1336.24L781 1333.5L774.89 1331.53L769.77 1329.99L764.69 1328.53L758.67 1326.79L750.76 1324.43L740 1321.1L725.99 1316.69L709.45 1311.48L691.16 1305.73L671.88 1299.66L652.35 1293.53L633.36 1287.56L615.65 1282.01L600 1277.1L586.36 1272.82L573.98 1268.93L562.59 1265.34L551.88 1261.97L541.55 1258.75L531.33 1255.58L520.91 1252.39L510 1249.1L498.41 1245.64L486.33 1242.07L474.05 1238.47L461.88 1234.93L450.09 1231.54L438.98 1228.38L428.86 1225.54L420 1223.1L412.47 1221.1L406.02 1219.49L400.46 1218.18L395.62 1217.11L391.34 1216.21L387.42 1215.39L383.7 1214.6L380 1213.75L376.58 1212.91L373.71 1212.18L371.25 1211.54L369.06 1210.95L366.99 1210.4L364.88 1209.87L362.6 1209.32L360 1208.75L357.11 1208.15L354.08 1207.53L350.95 1206.92L347.75 1206.31L344.52 1205.73L341.3 1205.18L338.11 1204.66L335 1204.2L331.95 1203.78L328.93 1203.39L325.93 1203.04L322.94 1202.72L319.96 1202.43L316.98 1202.18L313.99 1201.97L311 1201.8L308 1201.66L305 1201.53L302 1201.44L299 1201.39L296 1201.39L293 1201.45L290 1201.58L287 1201.8L284 1202.04L281 1202.26L278 1202.51L275 1202.85L272 1203.32L269 1203.97L266 1204.84L263 1206L259.95 1207.5L256.84 1209.33L253.69 1211.4L250.56 1213.65L247.49 1215.99L244.51 1218.35L241.67 1220.64L239 1222.8L236.42 1224.96L233.86 1227.27L231.37 1229.63L229 1231.95L226.82 1234.14L224.89 1236.1L223.26 1237.75L222 1239Z" fill="#f7963e" stroke="#f7963e" stroke-width="0.6" stroke-linejoin="round"/><path d="M222 1319.2L223.26 1318.08L224.89 1316.58L226.82 1314.79L229 1312.81L231.37 1310.72L233.86 1308.61L236.42 1306.57L239 1304.7L241.67 1302.89L244.51 1301.01L247.49 1299.12L250.56 1297.25L253.69 1295.46L256.84 1293.79L259.95 1292.29L263 1291L266 1289.93L269 1289.02L272 1288.26L275 1287.63L278 1287.11L281 1286.7L284 1286.37L287 1286.1L290 1285.94L293 1285.91L296 1286L299 1286.17L302 1286.4L305 1286.65L308 1286.91L311 1287.15L313.86 1287.35L316.51 1287.53L319.08 1287.72L321.69 1287.94L324.46 1288.21L327.52 1288.55L331 1288.99L335 1289.55L339.65 1290.22L344.89 1290.97L350.56 1291.8L356.5 1292.71L362.57 1293.71L368.61 1294.79L374.47 1295.95L380 1297.2L385.24 1298.58L390.35 1300.1L395.37 1301.73L400.31 1303.43L405.22 1305.16L410.12 1306.89L415.03 1308.59L420 1310.2L425 1311.74L430 1313.25L435 1314.73L440 1316.2L445 1317.67L450 1319.15L455 1320.66L460 1322.2L463.97 1323.48L466.48 1324.35L468.41 1325.07L470.62 1325.89L474.01 1327.06L479.45 1328.83L487.82 1331.46L500 1335.2L516.85 1340.26L537.89 1346.49L562.02 1353.6L588.12 1361.3L615.09 1369.3L641.8 1377.31L667.14 1385.04L690 1392.2L710.98 1398.99L731.4 1405.79L751.22 1412.53L770.4 1419.16L788.91 1425.64L806.7 1431.91L823.74 1437.91L840 1443.6L855.88 1449.15L871.59 1454.69L886.8 1460.09L901.17 1465.21L914.38 1469.94L926.07 1474.13L935.92 1477.66L943.6 1480.4L943.6 1486L935.92 1483.26L926.07 1479.73L914.38 1475.54L901.17 1470.81L886.8 1465.69L871.59 1460.29L855.88 1454.75L840 1449.2L823.74 1443.51L806.7 1437.51L788.91 1431.24L770.4 1424.76L751.22 1418.13L731.4 1411.39L710.98 1404.59L690 1397.8L667.14 1390.64L641.8 1382.91L615.09 1374.9L588.12 1366.9L562.02 1359.2L537.89 1352.09L516.85 1345.86L500 1340.8L487.82 1337.06L479.45 1334.43L474.01 1332.66L470.62 1331.49L468.41 1330.67L466.48 1329.95L463.97 1329.08L460 1327.8L455 1326.26L450 1324.75L445 1323.27L440 1321.8L435 1320.33L430 1318.85L425 1317.34L420 1315.8L415.03 1314.18L410.12 1312.47L405.22 1310.72L400.31 1308.97L395.37 1307.26L390.35 1305.63L385.24 1304.13L380 1302.8L374.47 1301.63L368.61 1300.57L362.57 1299.62L356.5 1298.76L350.56 1297.99L344.89 1297.29L339.65 1296.64L335 1296.05L331 1295.52L327.52 1295.08L324.46 1294.71L321.69 1294.41L319.08 1294.16L316.51 1293.96L313.86 1293.79L311 1293.65L308 1293.52L305 1293.4L302 1293.32L299 1293.28L296 1293.31L293 1293.41L290 1293.6L287 1293.9L284 1294.28L281 1294.72L278 1295.24L275 1295.83L272 1296.54L269 1297.35L266 1298.3L263 1299.4L259.95 1300.67L256.84 1302.11L253.69 1303.69L250.56 1305.39L247.49 1307.16L244.51 1309L241.67 1310.85L239 1312.7L236.42 1314.69L233.86 1316.91L231.37 1319.24L229 1321.58L226.82 1323.82L224.89 1325.84L223.26 1327.54L222 1328.8Z" fill="#22a884" stroke="#22a884" stroke-width="0.6" stroke-linejoin="round"/><path d="M222 1395.6L223.26 1394.48L224.89 1393L226.82 1391.23L229 1389.26L231.37 1387.19L233.86 1385.1L236.42 1383.07L239 1381.2L241.67 1379.39L244.51 1377.51L247.49 1375.61L250.56 1373.74L253.69 1371.93L256.84 1370.25L259.95 1368.72L263 1367.4L266 1366.29L269 1365.33L272 1364.52L275 1363.84L278 1363.26L281 1362.77L284 1362.36L287 1362L290 1361.72L293 1361.54L296 1361.45L299 1361.44L302 1361.5L305 1361.62L308 1361.79L311 1362L313.86 1362.25L316.51 1362.54L319.08 1362.89L321.69 1363.29L324.46 1363.76L327.52 1364.3L331 1364.91L335 1365.6L339.65 1366.37L344.89 1367.21L350.56 1368.13L356.5 1369.11L362.57 1370.16L368.61 1371.28L374.47 1372.46L380 1373.7L385.24 1375.04L390.35 1376.49L395.37 1378.03L400.31 1379.62L405.22 1381.23L410.12 1382.84L415.03 1384.4L420 1385.9L425 1387.33L430 1388.73L435 1390.11L440 1391.47L445 1392.83L450 1394.18L455 1395.53L460 1396.9L463.97 1397.96L466.48 1398.57L468.41 1399L470.62 1399.53L474.01 1400.41L479.45 1401.92L487.82 1404.32L500 1407.9L516.85 1412.85L537.89 1419L562.02 1426.06L588.12 1433.74L615.09 1441.75L641.8 1449.81L667.14 1457.62L690 1464.9L710.98 1471.87L731.4 1478.91L751.22 1485.95L770.4 1492.91L788.91 1499.72L806.7 1506.3L823.74 1512.59L840 1518.5L855.88 1524.22L871.59 1529.91L886.8 1535.42L901.17 1540.65L914.38 1545.46L926.07 1549.72L935.92 1553.31L943.6 1556.1L943.6 1562.3L935.92 1559.51L926.07 1555.92L914.38 1551.66L901.17 1546.85L886.8 1541.62L871.59 1536.11L855.88 1530.42L840 1524.7L823.74 1518.79L806.7 1512.5L788.91 1505.92L770.4 1499.11L751.22 1492.15L731.4 1485.11L710.98 1478.07L690 1471.1L667.14 1463.82L641.8 1456.01L615.09 1447.95L588.12 1439.94L562.02 1432.26L537.89 1425.2L516.85 1419.05L500 1414.1L487.82 1410.52L479.45 1408.12L474.01 1406.61L470.62 1405.72L468.41 1405.2L466.48 1404.77L463.97 1404.16L460 1403.1L455 1401.73L450 1400.37L445 1399.01L440 1397.65L435 1396.28L430 1394.91L425 1393.51L420 1392.1L415.03 1390.64L410.12 1389.12L405.22 1387.57L400.31 1386.02L395.37 1384.49L390.35 1383.01L385.24 1381.6L380 1380.3L374.47 1379.08L368.61 1377.9L362.57 1376.77L356.5 1375.7L350.56 1374.7L344.89 1373.78L339.65 1372.94L335 1372.2L331 1371.56L327.52 1371.01L324.46 1370.54L321.69 1370.16L319.08 1369.84L316.51 1369.58L313.86 1369.37L311 1369.2L308 1369.07L305 1368.98L302 1368.95L299 1368.98L296 1369.07L293 1369.23L290 1369.47L287 1369.8L284 1370.18L281 1370.6L278 1371.08L275 1371.64L272 1372.3L269 1373.1L266 1374.06L263 1375.2L259.95 1376.56L256.84 1378.14L253.69 1379.89L250.56 1381.76L247.49 1383.72L244.51 1385.7L241.67 1387.68L239 1389.6L236.42 1391.6L233.86 1393.78L231.37 1396.05L229 1398.3L226.82 1400.44L224.89 1402.37L223.26 1403.99L222 1405.2Z" fill="#e16462" stroke="#e16462" stroke-width="0.6" stroke-linejoin="round"/><path d="M222 1481.6L223.26 1480.68L224.89 1479.46L226.82 1478.01L229 1476.39L231.37 1474.67L233.86 1472.92L236.42 1471.21L239 1469.6L241.67 1468L244.51 1466.32L247.49 1464.6L250.56 1462.89L253.69 1461.22L256.84 1459.66L259.95 1458.23L263 1457L266 1455.94L269 1455.02L272 1454.21L275 1453.51L278 1452.91L281 1452.4L284 1451.97L287 1451.6L290 1451.33L293 1451.18L296 1451.13L299 1451.15L302 1451.23L305 1451.35L308 1451.48L311 1451.6L313.99 1451.72L316.98 1451.85L319.96 1452L322.94 1452.18L325.93 1452.4L328.93 1452.68L331.95 1453L335 1453.4L337.97 1453.86L340.83 1454.36L343.64 1454.92L346.5 1455.53L349.48 1456.19L352.67 1456.9L356.15 1457.67L360 1458.5L363.94 1459.26L367.77 1459.9L371.7 1460.53L375.94 1461.24L380.68 1462.15L386.13 1463.36L392.5 1464.98L400 1467.1L408.62 1469.78L418.19 1472.95L428.59 1476.52L439.75 1480.39L451.56 1484.47L463.94 1488.68L476.78 1492.92L490 1497.1L504.2 1501.39L519.73 1505.96L536.12 1510.69L552.88 1515.47L569.52 1520.22L585.58 1524.8L600.56 1529.13L614 1533.1L625.29 1536.48L634.64 1539.29L642.76 1541.75L650.38 1544.1L658.19 1546.58L666.92 1549.41L677.29 1552.84L690 1557.1L705.53 1562.35L723.38 1568.45L742.87 1575.15L763.27 1582.2L783.9 1589.37L804.03 1596.4L822.96 1603.06L840 1609.1L855.88 1614.81L871.59 1620.56L886.8 1626.18L901.17 1631.55L914.38 1636.51L926.07 1640.92L935.92 1644.63L943.6 1647.5L943.6 1653.3L935.92 1650.43L926.07 1646.72L914.38 1642.31L901.17 1637.35L886.8 1631.98L871.59 1626.36L855.88 1620.61L840 1614.9L822.96 1608.86L804.03 1602.2L783.9 1595.17L763.27 1588L742.87 1580.95L723.38 1574.25L705.53 1568.15L690 1562.9L677.29 1558.64L666.92 1555.21L658.19 1552.38L650.38 1549.9L642.76 1547.55L634.64 1545.09L625.29 1542.28L614 1538.9L600.56 1534.93L585.58 1530.6L569.52 1526.02L552.88 1521.28L536.12 1516.49L519.73 1511.76L504.2 1507.19L490 1502.9L476.78 1498.71L463.94 1494.45L451.56 1490.22L439.75 1486.11L428.59 1482.23L418.19 1478.67L408.62 1475.53L400 1472.9L392.5 1470.87L386.13 1469.39L380.68 1468.33L375.94 1467.59L371.7 1467.05L367.77 1466.6L363.94 1466.12L360 1465.5L356.15 1464.8L352.67 1464.16L349.48 1463.58L346.5 1463.04L343.64 1462.54L340.83 1462.07L337.97 1461.63L335 1461.2L331.95 1460.79L328.93 1460.4L325.93 1460.03L322.94 1459.69L319.96 1459.4L316.98 1459.14L313.99 1458.94L311 1458.8L308 1458.7L305 1458.63L302 1458.59L299 1458.61L296 1458.69L293 1458.84L290 1459.07L287 1459.4L284 1459.79L281 1460.23L278 1460.73L275 1461.31L272 1461.99L269 1462.79L266 1463.72L263 1464.8L259.95 1466.08L256.84 1467.58L253.69 1469.23L250.56 1470.99L247.49 1472.8L244.51 1474.6L241.67 1476.35L239 1478L236.42 1479.64L233.86 1481.37L231.37 1483.12L229 1484.82L226.82 1486.43L224.89 1487.87L223.26 1489.08L222 1490Z" fill="#5fca66" stroke="#5fca66" stroke-width="0.6" stroke-linejoin="round"/><path d="M222 1567.8L223.26 1566.88L224.89 1565.66L226.82 1564.21L229 1562.59L231.37 1560.87L233.86 1559.12L236.42 1557.41L239 1555.8L241.67 1554.2L244.51 1552.51L247.49 1550.78L250.56 1549.05L253.69 1547.38L256.84 1545.82L259.95 1544.41L263 1543.2L266 1542.19L269 1541.31L272 1540.57L275 1539.94L278 1539.42L281 1539L284 1538.66L287 1538.4L290 1538.25L293 1538.23L296 1538.31L299 1538.49L302 1538.73L305 1539L308 1539.3L311 1539.6L313.95 1539.9L316.84 1540.22L319.69 1540.56L322.56 1540.95L325.49 1541.38L328.51 1541.86L331.67 1542.4L335 1543L338.3 1543.6L341.44 1544.16L344.57 1544.73L347.88 1545.38L351.5 1546.15L355.62 1547.11L360.4 1548.3L366 1549.8L372.56 1551.67L379.99 1553.91L388.1 1556.4L396.69 1559.08L405.57 1561.82L414.54 1564.56L423.42 1567.18L432 1569.6L440.73 1571.92L449.98 1574.26L459.46 1576.58L468.88 1578.84L477.93 1581L486.33 1583.01L493.78 1584.82L500 1586.4L503.77 1587.37L504.86 1587.63L504.42 1587.49L503.62 1587.31L503.62 1587.4L505.58 1588.11L510.65 1589.76L520 1592.7L534.21 1597.08L552.42 1602.67L573.64 1609.17L596.88 1616.29L621.12 1623.77L645.39 1631.3L668.68 1638.61L690 1645.4L710.02 1651.89L729.99 1658.45L749.75 1665.01L769.15 1671.51L788.03 1677.9L806.23 1684.12L823.61 1690.1L840 1695.8L855.88 1701.41L871.59 1707.08L886.8 1712.66L901.17 1718L914.38 1722.94L926.07 1727.34L935.92 1731.04L943.6 1733.9L943.6 1739.1L935.92 1736.24L926.07 1732.54L914.38 1728.14L901.17 1723.2L886.8 1717.86L871.59 1712.28L855.88 1706.61L840 1701L823.61 1695.3L806.23 1689.32L788.03 1683.1L769.15 1676.71L749.75 1670.21L729.99 1663.65L710.02 1657.09L690 1650.6L668.68 1643.81L645.39 1636.5L621.12 1628.97L596.88 1621.49L573.64 1614.37L552.42 1607.87L534.21 1602.28L520 1597.9L510.65 1594.96L505.58 1593.31L503.62 1592.6L503.62 1592.51L504.42 1592.69L504.86 1592.83L503.77 1592.57L500 1591.6L493.78 1590.02L486.33 1588.21L477.93 1586.2L468.88 1584.04L459.46 1581.78L449.98 1579.46L440.73 1577.12L432 1574.8L423.42 1572.37L414.54 1569.73L405.57 1566.97L396.69 1564.2L388.1 1561.52L379.99 1559.02L372.56 1556.82L366 1555L360.4 1553.6L355.62 1552.53L351.5 1551.73L347.88 1551.12L344.57 1550.66L341.44 1550.26L338.3 1549.86L335 1549.4L331.67 1548.92L328.51 1548.49L325.49 1548.12L322.56 1547.79L319.69 1547.5L316.84 1547.24L313.95 1547.01L311 1546.8L308 1546.59L305 1546.38L302 1546.19L299 1546.04L296 1545.94L293 1545.92L290 1546L287 1546.2L284 1546.48L281 1546.82L278 1547.24L275 1547.74L272 1548.35L269 1549.08L266 1549.96L263 1551L259.95 1552.26L256.84 1553.77L253.69 1555.44L250.56 1557.23L247.49 1559.06L244.51 1560.87L241.67 1562.61L239 1564.2L236.42 1565.74L233.86 1567.32L231.37 1568.9L229 1570.43L226.82 1571.85L224.89 1573.12L223.26 1574.18L222 1575Z" fill="#4ad1cc" stroke="#4ad1cc" stroke-width="0.6" stroke-linejoin="round"/><path d="M222 1656.6L223.3 1655.77L225.03 1654.64L227.09 1653.3L229.38 1651.83L231.8 1650.28L234.28 1648.74L236.71 1647.29L239 1646L241.2 1644.82L243.43 1643.66L245.68 1642.52L247.94 1641.42L250.21 1640.38L252.48 1639.38L254.74 1638.45L257 1637.6L259.25 1636.83L261.5 1636.12L263.75 1635.48L266 1634.9L268.25 1634.37L270.5 1633.88L272.75 1633.42L275 1633L277.09 1632.6L278.96 1632.24L280.74 1631.92L282.56 1631.63L284.57 1631.4L286.88 1631.21L289.65 1631.08L293 1631L296.99 1630.93L301.52 1630.83L306.47 1630.75L311.75 1630.73L317.25 1630.83L322.86 1631.09L328.48 1631.55L334 1632.25L339.35 1633.19L344.59 1634.31L349.83 1635.61L355.19 1637.07L360.77 1638.7L366.7 1640.49L373.07 1642.42L380 1644.5L387.6 1646.81L395.81 1649.38L404.49 1652.16L413.5 1655.07L422.7 1658.03L431.94 1660.99L441.09 1663.87L450 1666.6L458.68 1669.18L467.27 1671.68L475.81 1674.12L484.38 1676.54L493.02 1678.97L501.8 1681.44L510.77 1683.97L520 1686.6L529.45 1689.28L539.06 1691.95L548.83 1694.65L558.75 1697.41L568.83 1700.26L579.06 1703.22L589.45 1706.32L600 1709.6L610.59 1713.04L621.19 1716.6L631.88 1720.29L642.75 1724.1L653.91 1728.04L665.44 1732.1L677.44 1736.29L690 1740.6L703.11 1745.02L716.67 1749.55L730.65 1754.2L745.02 1758.97L759.78 1763.89L774.87 1768.96L790.29 1774.19L806 1779.6L823.11 1785.58L842.11 1792.3L862.06 1799.4L882.05 1806.54L901.13 1813.37L918.37 1819.56L932.84 1824.75L943.6 1828.6L943.6 1835.4L932.84 1831.55L918.37 1826.36L901.13 1820.17L882.05 1813.34L862.06 1806.2L842.11 1799.1L823.11 1792.38L806 1786.4L790.29 1780.99L774.87 1775.76L759.78 1770.69L745.02 1765.78L730.65 1761L716.67 1756.35L703.11 1751.82L690 1747.4L677.44 1743.09L665.44 1738.9L653.91 1734.84L642.75 1730.9L631.88 1727.09L621.19 1723.4L610.59 1719.84L600 1716.4L589.45 1713.12L579.06 1710.02L568.83 1707.06L558.75 1704.21L548.83 1701.45L539.06 1698.75L529.45 1696.08L520 1693.4L510.77 1690.77L501.8 1688.23L493.02 1685.76L484.38 1683.33L475.81 1680.91L467.27 1678.46L458.68 1675.97L450 1673.4L441.09 1670.68L431.94 1667.82L422.7 1664.88L413.5 1661.93L404.49 1659.05L395.81 1656.31L387.6 1653.76L380 1651.5L373.07 1649.47L366.7 1647.59L360.77 1645.87L355.19 1644.3L349.83 1642.9L344.59 1641.68L339.35 1640.62L334 1639.75L328.48 1639.11L322.86 1638.72L317.25 1638.54L311.75 1638.52L306.47 1638.6L301.52 1638.74L296.99 1638.89L293 1639L289.65 1639.1L286.88 1639.24L284.57 1639.42L282.56 1639.64L280.74 1639.91L278.96 1640.22L277.09 1640.59L275 1641L272.75 1641.45L270.5 1641.92L268.25 1642.44L266 1643L263.75 1643.63L261.5 1644.33L259.25 1645.12L257 1646L254.74 1647L252.48 1648.12L250.21 1649.32L247.94 1650.6L245.68 1651.93L243.43 1653.28L241.2 1654.65L239 1656L236.71 1657.44L234.28 1659.02L231.8 1660.67L229.38 1662.33L227.09 1663.9L225.03 1665.32L223.3 1666.51L222 1667.4Z" fill="#21958a" stroke="#21958a" stroke-width="0.6" stroke-linejoin="round"/><path d="M150 1180L150.31 1177.8L150.72 1174.83L151.21 1171.29L151.75 1167.38L152.32 1163.29L152.91 1159.23L153.47 1155.4L154 1152L154.49 1148.96L154.95 1146.08L155.41 1143.31L155.88 1140.62L156.35 1137.99L156.86 1135.36L157.4 1132.71L158 1130L158.64 1127.22L159.32 1124.41L160.03 1121.57L160.78 1118.75L161.54 1115.96L162.34 1113.22L163.16 1110.56L164 1108L164.93 1105.44L165.97 1102.8L167.07 1100.17L168.18 1097.62L169.24 1095.26L170.2 1093.14L171 1091.36L171.6 1090L173 1128L174 1144L192 1178L192.23 1177.66L192.44 1177.34L192.68 1176.98L193 1176.5L193.45 1175.83L194.06 1174.91L194.9 1173.65L196 1172L197.47 1169.78L199.3 1166.98L201.38 1163.79L203.62 1160.38L205.91 1156.91L208.14 1153.58L210.21 1150.55L212 1148L213.48 1145.95L214.73 1144.25L215.84 1142.8L216.88 1141.5L217.93 1140.27L219.08 1139L220.41 1137.61L222 1136L223.85 1134.19L225.89 1132.28L228.08 1130.29L230.38 1128.25L232.75 1126.18L235.17 1124.09L237.6 1122.03L240 1120L242.4 1117.95L244.86 1115.81L247.35 1113.65L249.88 1111.5L252.41 1109.41L254.95 1107.44L257.49 1105.62L260 1104L262.5 1102.6L265 1101.39L267.5 1100.33L270 1099.38L272.5 1098.5L275 1097.67L277.5 1096.85L280 1096L282.5 1095.12L285 1094.25L287.5 1093.4L290 1092.59L292.5 1091.83L295 1091.13L297.5 1090.52L300 1090L302.5 1089.59L305 1089.27L307.5 1089.03L310 1088.86L312.5 1088.75L315 1088.67L317.5 1088.63L320 1088.6L322.5 1088.59L325 1088.6L327.5 1088.65L330 1088.74L332.5 1088.87L335 1089.05L337.5 1089.3L340 1089.6L342.5 1089.98L345 1090.42L347.5 1090.93L350 1091.49L352.5 1092.08L355 1092.71L357.5 1093.35L360 1094L362.53 1094.7L365.09 1095.46L367.68 1096.27L370.25 1097.1L372.79 1097.91L375.28 1098.69L377.69 1099.39L380 1100L382.17 1100.49L384.21 1100.88L386.16 1101.2L388.06 1101.48L389.96 1101.74L391.88 1102.03L393.88 1102.38L396 1102.8L398.36 1103.34L400.98 1103.97L403.74 1104.66L406.5 1105.37L409.13 1106.06L411.52 1106.69L413.51 1107.22L415 1107.6" fill="none" stroke="#f9cf25" stroke-width="2.4" stroke-dasharray="8.2 3.5" stroke-linejoin="miter"/><path d="M152 1238L152.23 1236.26L152.54 1233.91L152.91 1231.1L153.31 1228L153.74 1224.78L154.18 1221.59L154.6 1218.61L155 1216L155.35 1213.71L155.68 1211.58L155.99 1209.56L156.31 1207.62L156.66 1205.74L157.04 1203.86L157.48 1201.96L158 1200L158.6 1197.97L159.27 1195.88L159.99 1193.78L160.75 1191.69L161.54 1189.63L162.36 1187.65L163.18 1185.76L164 1184L164.88 1182.31L165.84 1180.64L166.86 1179.03L167.88 1177.5L168.84 1176.1L169.72 1174.86L170.45 1173.81L171 1173L173 1200L174 1231L187.5 1262.5L190.28 1259.66L194.11 1255.73L198.68 1251.03L203.69 1245.89L208.83 1240.65L213.8 1235.61L218.29 1231.12L222 1227.5L224.91 1224.75L227.32 1222.56L229.35 1220.78L231.16 1219.29L232.88 1217.92L234.67 1216.55L236.66 1215.02L239 1213.2L241.67 1211.08L244.51 1208.79L247.49 1206.4L250.56 1203.98L253.69 1201.59L256.84 1199.28L259.95 1197.13L263 1195.2L266 1193.46L269 1191.84L272 1190.33L275 1188.94L278 1187.65L281 1186.47L284 1185.38L287 1184.4L290.04 1183.54L293.14 1182.81L296.26 1182.2L299.38 1181.69L302.44 1181.25L305.42 1180.87L308.29 1180.53L311 1180.2L313.55 1179.9L315.97 1179.66L318.28 1179.47L320.5 1179.33L322.66 1179.23L324.78 1179.18L326.89 1179.17L329 1179.2L331.1 1179.27L333.16 1179.38L335.19 1179.53L337.19 1179.73L339.16 1179.97L341.12 1180.26L343.06 1180.6L345 1181L346.89 1181.47L348.7 1182.02L350.48 1182.64L352.25 1183.3L354.05 1183.98L355.92 1184.67L357.89 1185.35L360 1186L362.26 1186.62L364.65 1187.25L367.13 1187.88L369.69 1188.5L372.28 1189.12L374.88 1189.75L377.47 1190.38L380 1191L382.5 1191.63L385 1192.27L387.5 1192.92L390 1193.56L392.5 1194.2L395 1194.82L397.5 1195.42L400 1196L402.14 1196.34L403.78 1196.37L405.21 1196.25L406.75 1196.19L408.69 1196.35L411.34 1196.91L415.01 1198.07L420 1200L427 1203.05L436.03 1207.19L446.36 1212.05L457.25 1217.25L467.99 1222.42L477.84 1227.19L486.09 1231.17L492 1234" fill="none" stroke="#f7963e" stroke-width="2.4" stroke-dasharray="8.2 3.5" stroke-linejoin="miter"/><path d="M150 1333L150.31 1331.02L150.72 1328.34L151.21 1325.15L151.75 1321.62L152.32 1317.96L152.91 1314.34L153.47 1310.96L154 1308L154.49 1305.42L154.95 1303.01L155.41 1300.74L155.88 1298.56L156.35 1296.44L156.86 1294.34L157.4 1292.2L158 1290L158.64 1287.72L159.32 1285.41L160.03 1283.07L160.78 1280.75L161.54 1278.46L162.34 1276.22L163.16 1274.06L164 1272L164.93 1269.96L165.97 1267.89L167.07 1265.84L168.18 1263.88L169.24 1262.05L170.2 1260.42L171 1259.05L171.6 1258L172.4 1290L173.6 1326L190 1368L192.02 1365.14L194.72 1361.25L197.93 1356.61L201.5 1351.5L205.25 1346.2L209.03 1341L212.67 1336.17L216 1332L219.07 1328.37L222.05 1324.97L224.97 1321.77L227.88 1318.75L230.79 1315.89L233.77 1313.16L236.82 1310.54L240 1308L243.36 1305.56L246.91 1303.25L250.56 1301.06L254.25 1299L257.91 1297.06L261.47 1295.25L264.86 1293.56L268 1292L270.88 1290.59L273.56 1289.34L276.09 1288.24L278.5 1287.25L280.85 1286.36L283.19 1285.53L285.55 1284.75L288 1284L290.5 1283.29L293 1282.65L295.5 1282.08L298 1281.56L300.5 1281.1L303 1280.7L305.5 1280.33L308 1280L310.42 1279.7L312.72 1279.42L314.97 1279.19L317.25 1279L319.62 1278.88L322.16 1278.83L324.93 1278.87L328 1279L331.37 1279.23L334.97 1279.53L338.77 1279.91L342.75 1280.38L346.89 1280.91L351.16 1281.53L355.54 1282.23L360 1283L364.62 1283.84L369.44 1284.73L374.41 1285.7L379.5 1286.75L384.65 1287.89L389.81 1289.14L394.95 1290.51L400 1292L405 1293.65L410 1295.46L415 1297.4L420 1299.44L425 1301.55L430 1303.7L435 1305.86L440 1308L445.19 1310.24L450.66 1312.64L456.23 1315.13L461.75 1317.62L467.05 1320.04L471.97 1322.3L476.34 1324.31L480 1326L482.92 1327.37L485.25 1328.48L487.08 1329.39L488.5 1330.12L489.61 1330.72L490.5 1331.2L491.27 1331.62L492 1332" fill="none" stroke="#22a884" stroke-width="2.4" stroke-dasharray="8.2 3.5" stroke-linejoin="miter"/><path d="M150 1491L150.22 1489.19L150.52 1486.75L150.86 1483.84L151.25 1480.62L151.67 1477.27L152.11 1473.94L152.56 1470.79L153 1468L153.44 1465.51L153.88 1463.15L154.34 1460.88L154.81 1458.69L155.31 1456.53L155.84 1454.38L156.4 1452.22L157 1450L157.64 1447.72L158.3 1445.41L158.99 1443.07L159.71 1440.75L160.47 1438.46L161.27 1436.22L162.11 1434.06L163 1432L164.01 1429.96L165.17 1427.89L166.41 1425.84L167.68 1423.88L168.89 1422.05L169.99 1420.42L170.92 1419.05L171.6 1418L172.4 1456L173.6 1491L189 1542L191.12 1538.93L193.97 1534.7L197.37 1529.65L201.12 1524.12L205.05 1518.46L208.97 1512.98L212.68 1508.05L216 1504L218.96 1500.79L221.76 1498.09L224.44 1495.79L227.06 1493.75L229.68 1491.87L232.34 1490.03L235.09 1488.11L238 1486L241.07 1483.7L244.27 1481.31L247.54 1478.9L250.88 1476.5L254.22 1474.16L257.55 1471.94L260.82 1469.87L264 1468L267.05 1466.35L270 1464.87L272.88 1463.53L275.75 1462.31L278.65 1461.18L281.62 1460.1L284.73 1459.05L288 1458L291.52 1456.93L295.27 1455.88L299.16 1454.85L303.12 1453.88L307.07 1452.98L310.92 1452.19L314.59 1451.52L318 1451L321.15 1450.64L324.11 1450.44L326.92 1450.36L329.62 1450.38L332.25 1450.47L334.83 1450.62L337.4 1450.81L340 1451L342.46 1451.17L344.67 1451.33L346.77 1451.51L348.88 1451.75L351.12 1452.08L353.64 1452.55L356.56 1453.17L360 1454L364.25 1455.12L369.3 1456.55L374.85 1458.19L380.62 1459.94L386.32 1461.69L391.64 1463.35L396.3 1464.82L400 1466L402.75 1466.91L404.84 1467.66L406.39 1468.26L407.5 1468.75L408.3 1469.14L408.91 1469.47L409.43 1469.75L410 1470" fill="none" stroke="#5fca66" stroke-width="2.4" stroke-dasharray="8.2 3.5" stroke-linejoin="miter"/><path d="M150 1652L150.58 1648.97L151.31 1644.84L152.17 1639.92L153.15 1634.5L154.24 1628.89L155.42 1623.41L156.68 1618.34L158 1614L159.52 1610.17L161.32 1606.45L163.29 1602.92L165.3 1599.62L167.25 1596.63L169.03 1593.98L170.51 1591.76L171.6 1590L172.4 1620L173.6 1668.8L179.2 1697.6L189.6 1734.4L190.11 1733.71L190.72 1732.86L191.46 1731.85L192.3 1730.7L193.26 1729.41L194.33 1727.99L195.51 1726.45L196.8 1724.8L198.27 1722.97L199.93 1720.92L201.74 1718.72L203.65 1716.4L205.6 1714.03L207.54 1711.67L209.43 1709.38L211.2 1707.2L212.87 1705.11L214.48 1703.05L216.06 1701.01L217.62 1699L219.18 1697.01L220.75 1695.05L222.35 1693.11L224 1691.2L225.64 1689.32L227.22 1687.49L228.79 1685.68L230.4 1683.9L232.08 1682.13L233.88 1680.36L235.84 1678.59L238 1676.8L240.38 1674.98L242.93 1673.13L245.64 1671.26L248.47 1669.4L251.4 1667.57L254.38 1665.77L257.39 1664.05L260.4 1662.4L263.4 1660.81L266.42 1659.24L269.48 1657.72L272.6 1656.25L275.79 1654.85L279.07 1653.53L282.47 1652.31L286 1651.2L289.69 1650.19L293.55 1649.27L297.53 1648.44L301.6 1647.7L305.72 1647.04L309.85 1646.48L313.96 1645.99L318 1645.6L321.88 1645.25L325.58 1644.92L329.21 1644.64L332.88 1644.47L336.68 1644.45L340.73 1644.6L345.14 1644.97L350 1645.6L355.4 1646.49L361.28 1647.6L367.52 1648.92L374 1650.42L380.61 1652.1L387.22 1653.93L393.72 1655.91L400 1658L406.12 1660.3L412.23 1662.85L418.32 1665.59L424.38 1668.46L430.38 1671.4L436.33 1674.35L442.21 1677.23L448 1680L453.99 1682.82L460.31 1685.81L466.73 1688.87L473 1691.88L478.9 1694.71L484.19 1697.25L488.63 1699.39L492 1701" fill="none" stroke="#21958a" stroke-width="2.4" stroke-dasharray="8.2 3.5" stroke-linejoin="miter"/><path d="M411 1108.8V1125M403 1108.8H419M403 1125H419M434.7 1113.6V1131M426.7 1113.6H442.7M426.7 1131H442.7M530.6 1143.6V1166M522.6 1143.6H538.6M522.6 1166H538.6M585 1175.6V1190M577 1175.6H593M577 1190H593M602 1160V1191M594 1160H610M594 1191H610M686.4 1207V1223M678.4 1207H694.4M678.4 1223H694.4M713 1210V1226M705 1210H721M705 1226H721M735.4 1230V1245.6M727.4 1230H743.4M727.4 1245.6H743.4M815.6 1258V1274M807.6 1258H823.6M807.6 1274H823.6M837.4 1256V1278M829.4 1256H845.4M829.4 1278H845.4M861.4 1263.6V1283M853.4 1263.6H869.4M853.4 1283H869.4M885.6 1274V1289M877.6 1274H893.6M877.6 1289H893.6M910 1247.6V1273M902 1247.6H918M902 1273H918M932.4 1308V1323M924.4 1308H940.4M924.4 1323H940.4" stroke="#000" stroke-width="1.7" fill="none"/><path d="M403 1108.8H419M403 1125H419M426.7 1113.6H442.7M426.7 1131H442.7M522.6 1143.6H538.6M522.6 1166H538.6M577 1175.6H593M577 1190H593M594 1160H610M594 1191H610M678.4 1207H694.4M678.4 1223H694.4M705 1210H721M705 1226H721M727.4 1230H743.4M727.4 1245.6H743.4M807.6 1258H823.6M807.6 1274H823.6M829.4 1256H845.4M829.4 1278H845.4M853.4 1263.6H869.4M853.4 1283H869.4M877.6 1274H893.6M877.6 1289H893.6M902 1247.6H918M902 1273H918M924.4 1308H940.4M924.4 1323H940.4" stroke="#000" stroke-width="2.0" fill="none"/><g fill="#f9cf25" stroke="#000" stroke-width="1.6"><path d="M345.9 1084a7.5 7.5 0 1 0 15 0a7.5 7.5 0 1 0 -15 0Z"/><path d="M360.7 1096.8a7.5 7.5 0 1 0 15 0a7.5 7.5 0 1 0 -15 0Z"/><path d="M373.1 1096.2a7.5 7.5 0 1 0 15 0a7.5 7.5 0 1 0 -15 0Z"/><path d="M380.1 1106.4a7.5 7.5 0 1 0 15 0a7.5 7.5 0 1 0 -15 0Z"/><path d="M391.5 1116.6a7.5 7.5 0 1 0 15 0a7.5 7.5 0 1 0 -15 0Z"/><path d="M403.5 1117.2a7.5 7.5 0 1 0 15 0a7.5 7.5 0 1 0 -15 0Z"/><path d="M416.1 1112.4a7.5 7.5 0 1 0 15 0a7.5 7.5 0 1 0 -15 0Z"/><path d="M427.2 1122a7.5 7.5 0 1 0 15 0a7.5 7.5 0 1 0 -15 0Z"/><path d="M442.3 1122a7.5 7.5 0 1 0 15 0a7.5 7.5 0 1 0 -15 0Z"/><path d="M454.5 1131.6a7.5 7.5 0 1 0 15 0a7.5 7.5 0 1 0 -15 0Z"/><path d="M459.9 1133.4a7.5 7.5 0 1 0 15 0a7.5 7.5 0 1 0 -15 0Z"/><path d="M467.7 1141.2a7.5 7.5 0 1 0 15 0a7.5 7.5 0 1 0 -15 0Z"/><path d="M467.7 1149a7.5 7.5 0 1 0 15 0a7.5 7.5 0 1 0 -15 0Z"/><path d="M469.5 1143a7.5 7.5 0 1 0 15 0a7.5 7.5 0 1 0 -15 0Z"/><path d="M469.5 1150a7.5 7.5 0 1 0 15 0a7.5 7.5 0 1 0 -15 0Z"/><path d="M484.5 1143a7.5 7.5 0 1 0 15 0a7.5 7.5 0 1 0 -15 0Z"/><path d="M484.5 1149.6a7.5 7.5 0 1 0 15 0a7.5 7.5 0 1 0 -15 0Z"/><path d="M496.1 1153a7.5 7.5 0 1 0 15 0a7.5 7.5 0 1 0 -15 0Z"/><path d="M508.5 1168a7.5 7.5 0 1 0 15 0a7.5 7.5 0 1 0 -15 0Z"/><path d="M511.1 1172a7.5 7.5 0 1 0 15 0a7.5 7.5 0 1 0 -15 0Z"/><path d="M523.1 1154a7.5 7.5 0 1 0 15 0a7.5 7.5 0 1 0 -15 0Z"/><path d="M523.1 1157a7.5 7.5 0 1 0 15 0a7.5 7.5 0 1 0 -15 0Z"/><path d="M534.5 1170a7.5 7.5 0 1 0 15 0a7.5 7.5 0 1 0 -15 0Z"/><path d="M541.9 1171a7.5 7.5 0 1 0 15 0a7.5 7.5 0 1 0 -15 0Z"/><path d="M558.1 1169a7.5 7.5 0 1 0 15 0a7.5 7.5 0 1 0 -15 0Z"/><path d="M577.5 1182.4a7.5 7.5 0 1 0 15 0a7.5 7.5 0 1 0 -15 0Z"/><path d="M594.5 1175.6a7.5 7.5 0 1 0 15 0a7.5 7.5 0 1 0 -15 0Z"/><path d="M601.5 1191a7.5 7.5 0 1 0 15 0a7.5 7.5 0 1 0 -15 0Z"/><path d="M607.5 1184a7.5 7.5 0 1 0 15 0a7.5 7.5 0 1 0 -15 0Z"/><path d="M607.5 1191a7.5 7.5 0 1 0 15 0a7.5 7.5 0 1 0 -15 0Z"/><path d="M611.9 1195a7.5 7.5 0 1 0 15 0a7.5 7.5 0 1 0 -15 0Z"/><path d="M631.5 1190a7.5 7.5 0 1 0 15 0a7.5 7.5 0 1 0 -15 0Z"/><path d="M639.9 1191a7.5 7.5 0 1 0 15 0a7.5 7.5 0 1 0 -15 0Z"/><path d="M640.5 1198a7.5 7.5 0 1 0 15 0a7.5 7.5 0 1 0 -15 0Z"/><path d="M649.5 1208a7.5 7.5 0 1 0 15 0a7.5 7.5 0 1 0 -15 0Z"/><path d="M669.5 1205a7.5 7.5 0 1 0 15 0a7.5 7.5 0 1 0 -15 0Z"/><path d="M669.5 1210a7.5 7.5 0 1 0 15 0a7.5 7.5 0 1 0 -15 0Z"/><path d="M678.9 1215.6a7.5 7.5 0 1 0 15 0a7.5 7.5 0 1 0 -15 0Z"/><path d="M705.5 1218a7.5 7.5 0 1 0 15 0a7.5 7.5 0 1 0 -15 0Z"/><path d="M703.1 1231a7.5 7.5 0 1 0 15 0a7.5 7.5 0 1 0 -15 0Z"/><path d="M727.9 1237.4a7.5 7.5 0 1 0 15 0a7.5 7.5 0 1 0 -15 0Z"/><path d="M805.5 1263a7.5 7.5 0 1 0 15 0a7.5 7.5 0 1 0 -15 0Z"/><path d="M808.1 1267a7.5 7.5 0 1 0 15 0a7.5 7.5 0 1 0 -15 0Z"/><path d="M829.9 1266.4a7.5 7.5 0 1 0 15 0a7.5 7.5 0 1 0 -15 0Z"/><path d="M853.9 1273a7.5 7.5 0 1 0 15 0a7.5 7.5 0 1 0 -15 0Z"/><path d="M878.1 1281.6a7.5 7.5 0 1 0 15 0a7.5 7.5 0 1 0 -15 0Z"/><path d="M901.5 1259a7.5 7.5 0 1 0 15 0a7.5 7.5 0 1 0 -15 0Z"/><path d="M902.5 1262a7.5 7.5 0 1 0 15 0a7.5 7.5 0 1 0 -15 0Z"/><path d="M924.9 1316a7.5 7.5 0 1 0 15 0a7.5 7.5 0 1 0 -15 0Z"/></g><path d="M699.6 1300V1314M691.6 1300H707.6M691.6 1314H707.6M918.6 1354V1369M910.6 1354H926.6M910.6 1369H926.6" stroke="#000" stroke-width="1.7" fill="none"/><path d="M691.6 1300H707.6M691.6 1314H707.6M910.6 1354H926.6M910.6 1369H926.6" stroke="#000" stroke-width="2.0" fill="none"/><g fill="#f7963e" stroke="#000" stroke-width="1.6"><path d="M163.9 1136.4a7.5 7.5 0 1 0 15 0a7.5 7.5 0 1 0 -15 0Z"/><path d="M193.5 1181.4a7.5 7.5 0 1 0 15 0a7.5 7.5 0 1 0 -15 0Z"/><path d="M229.5 1188.4a7.5 7.5 0 1 0 15 0a7.5 7.5 0 1 0 -15 0Z"/><path d="M250.5 1158a7.5 7.5 0 1 0 15 0a7.5 7.5 0 1 0 -15 0Z"/><path d="M257.5 1157.6a7.5 7.5 0 1 0 15 0a7.5 7.5 0 1 0 -15 0Z"/><path d="M278.5 1153.6a7.5 7.5 0 1 0 15 0a7.5 7.5 0 1 0 -15 0Z"/><path d="M282.1 1154a7.5 7.5 0 1 0 15 0a7.5 7.5 0 1 0 -15 0Z"/><path d="M316.5 1168a7.5 7.5 0 1 0 15 0a7.5 7.5 0 1 0 -15 0Z"/><path d="M323.5 1172a7.5 7.5 0 1 0 15 0a7.5 7.5 0 1 0 -15 0Z"/><path d="M328.5 1175a7.5 7.5 0 1 0 15 0a7.5 7.5 0 1 0 -15 0Z"/><path d="M335.5 1171a7.5 7.5 0 1 0 15 0a7.5 7.5 0 1 0 -15 0Z"/><path d="M340.5 1177a7.5 7.5 0 1 0 15 0a7.5 7.5 0 1 0 -15 0Z"/><path d="M345.5 1178a7.5 7.5 0 1 0 15 0a7.5 7.5 0 1 0 -15 0Z"/><path d="M349.5 1180a7.5 7.5 0 1 0 15 0a7.5 7.5 0 1 0 -15 0Z"/><path d="M352.5 1179.6a7.5 7.5 0 1 0 15 0a7.5 7.5 0 1 0 -15 0Z"/><path d="M358.5 1193.4a7.5 7.5 0 1 0 15 0a7.5 7.5 0 1 0 -15 0Z"/><path d="M360.5 1195a7.5 7.5 0 1 0 15 0a7.5 7.5 0 1 0 -15 0Z"/><path d="M366.9 1192.2a7.5 7.5 0 1 0 15 0a7.5 7.5 0 1 0 -15 0Z"/><path d="M367.5 1193a7.5 7.5 0 1 0 15 0a7.5 7.5 0 1 0 -15 0Z"/><path d="M378.5 1201a7.5 7.5 0 1 0 15 0a7.5 7.5 0 1 0 -15 0Z"/><path d="M380.5 1200a7.5 7.5 0 1 0 15 0a7.5 7.5 0 1 0 -15 0Z"/><path d="M401.5 1218a7.5 7.5 0 1 0 15 0a7.5 7.5 0 1 0 -15 0Z"/><path d="M404.5 1218a7.5 7.5 0 1 0 15 0a7.5 7.5 0 1 0 -15 0Z"/><path d="M411.5 1210a7.5 7.5 0 1 0 15 0a7.5 7.5 0 1 0 -15 0Z"/><path d="M414.5 1211a7.5 7.5 0 1 0 15 0a7.5 7.5 0 1 0 -15 0Z"/><path d="M419.5 1213a7.5 7.5 0 1 0 15 0a7.5 7.5 0 1 0 -15 0Z"/><path d="M427.5 1216a7.5 7.5 0 1 0 15 0a7.5 7.5 0 1 0 -15 0Z"/><path d="M443.5 1221a7.5 7.5 0 1 0 15 0a7.5 7.5 0 1 0 -15 0Z"/><path d="M449.5 1226a7.5 7.5 0 1 0 15 0a7.5 7.5 0 1 0 -15 0Z"/><path d="M456.5 1229a7.5 7.5 0 1 0 15 0a7.5 7.5 0 1 0 -15 0Z"/><path d="M461.5 1239a7.5 7.5 0 1 0 15 0a7.5 7.5 0 1 0 -15 0Z"/><path d="M472.5 1248a7.5 7.5 0 1 0 15 0a7.5 7.5 0 1 0 -15 0Z"/><path d="M484.5 1244a7.5 7.5 0 1 0 15 0a7.5 7.5 0 1 0 -15 0Z"/><path d="M492.5 1248a7.5 7.5 0 1 0 15 0a7.5 7.5 0 1 0 -15 0Z"/><path d="M496.5 1252a7.5 7.5 0 1 0 15 0a7.5 7.5 0 1 0 -15 0Z"/><path d="M504.5 1258a7.5 7.5 0 1 0 15 0a7.5 7.5 0 1 0 -15 0Z"/><path d="M506.5 1264a7.5 7.5 0 1 0 15 0a7.5 7.5 0 1 0 -15 0Z"/><path d="M510.5 1263a7.5 7.5 0 1 0 15 0a7.5 7.5 0 1 0 -15 0Z"/><path d="M528.5 1260a7.5 7.5 0 1 0 15 0a7.5 7.5 0 1 0 -15 0Z"/><path d="M533.5 1263a7.5 7.5 0 1 0 15 0a7.5 7.5 0 1 0 -15 0Z"/><path d="M538.5 1267a7.5 7.5 0 1 0 15 0a7.5 7.5 0 1 0 -15 0Z"/><path d="M550.5 1272a7.5 7.5 0 1 0 15 0a7.5 7.5 0 1 0 -15 0Z"/><path d="M562.5 1266a7.5 7.5 0 1 0 15 0a7.5 7.5 0 1 0 -15 0Z"/><path d="M571.5 1270a7.5 7.5 0 1 0 15 0a7.5 7.5 0 1 0 -15 0Z"/><path d="M586.5 1283a7.5 7.5 0 1 0 15 0a7.5 7.5 0 1 0 -15 0Z"/><path d="M592.5 1277a7.5 7.5 0 1 0 15 0a7.5 7.5 0 1 0 -15 0Z"/><path d="M594.5 1276a7.5 7.5 0 1 0 15 0a7.5 7.5 0 1 0 -15 0Z"/><path d="M593.5 1287a7.5 7.5 0 1 0 15 0a7.5 7.5 0 1 0 -15 0Z"/><path d="M611.5 1288a7.5 7.5 0 1 0 15 0a7.5 7.5 0 1 0 -15 0Z"/><path d="M616.5 1292a7.5 7.5 0 1 0 15 0a7.5 7.5 0 1 0 -15 0Z"/><path d="M623.5 1298a7.5 7.5 0 1 0 15 0a7.5 7.5 0 1 0 -15 0Z"/><path d="M629.5 1290a7.5 7.5 0 1 0 15 0a7.5 7.5 0 1 0 -15 0Z"/><path d="M636.5 1288a7.5 7.5 0 1 0 15 0a7.5 7.5 0 1 0 -15 0Z"/><path d="M641.5 1293a7.5 7.5 0 1 0 15 0a7.5 7.5 0 1 0 -15 0Z"/><path d="M649.5 1297a7.5 7.5 0 1 0 15 0a7.5 7.5 0 1 0 -15 0Z"/><path d="M652.5 1304a7.5 7.5 0 1 0 15 0a7.5 7.5 0 1 0 -15 0Z"/><path d="M660.5 1308a7.5 7.5 0 1 0 15 0a7.5 7.5 0 1 0 -15 0Z"/><path d="M664.5 1306a7.5 7.5 0 1 0 15 0a7.5 7.5 0 1 0 -15 0Z"/><path d="M668.1 1292.4a7.5 7.5 0 1 0 15 0a7.5 7.5 0 1 0 -15 0Z"/><path d="M672.5 1301a7.5 7.5 0 1 0 15 0a7.5 7.5 0 1 0 -15 0Z"/><path d="M677.5 1307a7.5 7.5 0 1 0 15 0a7.5 7.5 0 1 0 -15 0Z"/><path d="M692.1 1307a7.5 7.5 0 1 0 15 0a7.5 7.5 0 1 0 -15 0Z"/><path d="M696.5 1323a7.5 7.5 0 1 0 15 0a7.5 7.5 0 1 0 -15 0Z"/><path d="M701.5 1325a7.5 7.5 0 1 0 15 0a7.5 7.5 0 1 0 -15 0Z"/><path d="M707.5 1316a7.5 7.5 0 1 0 15 0a7.5 7.5 0 1 0 -15 0Z"/><path d="M715.5 1325a7.5 7.5 0 1 0 15 0a7.5 7.5 0 1 0 -15 0Z"/><path d="M720.5 1328a7.5 7.5 0 1 0 15 0a7.5 7.5 0 1 0 -15 0Z"/><path d="M727.5 1331a7.5 7.5 0 1 0 15 0a7.5 7.5 0 1 0 -15 0Z"/><path d="M739.5 1339a7.5 7.5 0 1 0 15 0a7.5 7.5 0 1 0 -15 0Z"/><path d="M743.5 1325a7.5 7.5 0 1 0 15 0a7.5 7.5 0 1 0 -15 0Z"/><path d="M746.5 1331a7.5 7.5 0 1 0 15 0a7.5 7.5 0 1 0 -15 0Z"/><path d="M750.5 1335a7.5 7.5 0 1 0 15 0a7.5 7.5 0 1 0 -15 0Z"/><path d="M752.5 1336a7.5 7.5 0 1 0 15 0a7.5 7.5 0 1 0 -15 0Z"/><path d="M756.9 1337.6a7.5 7.5 0 1 0 15 0a7.5 7.5 0 1 0 -15 0Z"/><path d="M732.5 1330a7.5 7.5 0 1 0 15 0a7.5 7.5 0 1 0 -15 0Z"/><path d="M775.5 1350a7.5 7.5 0 1 0 15 0a7.5 7.5 0 1 0 -15 0Z"/><path d="M780.5 1338a7.5 7.5 0 1 0 15 0a7.5 7.5 0 1 0 -15 0Z"/><path d="M788.1 1344.4a7.5 7.5 0 1 0 15 0a7.5 7.5 0 1 0 -15 0Z"/><path d="M852.5 1367a7.5 7.5 0 1 0 15 0a7.5 7.5 0 1 0 -15 0Z"/><path d="M859.1 1359a7.5 7.5 0 1 0 15 0a7.5 7.5 0 1 0 -15 0Z"/><path d="M865.1 1363.6a7.5 7.5 0 1 0 15 0a7.5 7.5 0 1 0 -15 0Z"/><path d="M898.5 1363.6a7.5 7.5 0 1 0 15 0a7.5 7.5 0 1 0 -15 0Z"/><path d="M911.1 1361.6a7.5 7.5 0 1 0 15 0a7.5 7.5 0 1 0 -15 0Z"/></g><path d="M157.6 1239V1255.6M149.6 1239H165.6M149.6 1255.6H165.6M193.4 1260V1277M185.4 1260H201.4M185.4 1277H201.4M307 1244.4V1261M299 1244.4H315M299 1261H315" stroke="#000" stroke-width="1.7" fill="none"/><path d="M149.6 1239H165.6M149.6 1255.6H165.6M185.4 1260H201.4M185.4 1277H201.4M299 1244.4H315M299 1261H315" stroke="#000" stroke-width="2.0" fill="none"/><g fill="#22a884" stroke="#000" stroke-width="1.6"><path d="M150.1 1247a7.5 7.5 0 1 0 15 0a7.5 7.5 0 1 0 -15 0Z"/><path d="M185.9 1268.4a7.5 7.5 0 1 0 15 0a7.5 7.5 0 1 0 -15 0Z"/><path d="M299.5 1252.4a7.5 7.5 0 1 0 15 0a7.5 7.5 0 1 0 -15 0Z"/></g><path d="M315 1321V1335M307 1321H323M307 1335H323M354 1349V1362M346 1349H362M346 1362H362M366 1364V1379M358 1364H374M358 1379H374M388 1368V1383M380 1368H396M380 1383H396M434 1394V1408M426 1394H442M426 1408H442M447 1392V1407M439 1392H455M439 1407H455M477 1400V1415M469 1400H485M469 1415H485M530 1421V1443M522 1421H538M522 1443H538M542.4 1421V1437M534.4 1421H550.4M534.4 1437H550.4M648 1449V1467M640 1449H656M640 1467H656M678 1461V1474M670 1461H686M670 1474H686M681 1462V1475M673 1462H689M673 1475H689M810 1524V1540M802 1524H818M802 1540H818M861.6 1527V1542M853.6 1527H869.6M853.6 1542H869.6M908.8 1534V1548M900.8 1534H916.8M900.8 1548H916.8M932.8 1569V1583M924.8 1569H940.8M924.8 1583H940.8" stroke="#000" stroke-width="1.7" fill="none"/><path d="M307 1321H323M307 1335H323M346 1349H362M346 1362H362M358 1364H374M358 1379H374M380 1368H396M380 1383H396M426 1394H442M426 1408H442M439 1392H455M439 1407H455M469 1400H485M469 1415H485M522 1421H538M522 1443H538M534.4 1421H550.4M534.4 1437H550.4M640 1449H656M640 1467H656M670 1461H686M670 1474H686M673 1462H689M673 1475H689M802 1524H818M802 1540H818M853.6 1527H869.6M853.6 1542H869.6M900.8 1534H916.8M900.8 1548H916.8M924.8 1569H940.8M924.8 1583H940.8" stroke="#000" stroke-width="2.0" fill="none"/><g fill="#e16462" stroke="#000" stroke-width="1.6"><path d="M307.5 1328a7.5 7.5 0 1 0 15 0a7.5 7.5 0 1 0 -15 0Z"/><path d="M303.5 1334a7.5 7.5 0 1 0 15 0a7.5 7.5 0 1 0 -15 0Z"/><path d="M309.5 1333a7.5 7.5 0 1 0 15 0a7.5 7.5 0 1 0 -15 0Z"/><path d="M306.5 1338a7.5 7.5 0 1 0 15 0a7.5 7.5 0 1 0 -15 0Z"/><path d="M310.5 1334a7.5 7.5 0 1 0 15 0a7.5 7.5 0 1 0 -15 0Z"/><path d="M313.5 1340a7.5 7.5 0 1 0 15 0a7.5 7.5 0 1 0 -15 0Z"/><path d="M314.1 1340a7.5 7.5 0 1 0 15 0a7.5 7.5 0 1 0 -15 0Z"/><path d="M334.5 1345.6a7.5 7.5 0 1 0 15 0a7.5 7.5 0 1 0 -15 0Z"/><path d="M340.5 1351a7.5 7.5 0 1 0 15 0a7.5 7.5 0 1 0 -15 0Z"/><path d="M346.5 1357a7.5 7.5 0 1 0 15 0a7.5 7.5 0 1 0 -15 0Z"/><path d="M358.5 1372a7.5 7.5 0 1 0 15 0a7.5 7.5 0 1 0 -15 0Z"/><path d="M367.5 1368a7.5 7.5 0 1 0 15 0a7.5 7.5 0 1 0 -15 0Z"/><path d="M371.5 1377a7.5 7.5 0 1 0 15 0a7.5 7.5 0 1 0 -15 0Z"/><path d="M380.5 1376a7.5 7.5 0 1 0 15 0a7.5 7.5 0 1 0 -15 0Z"/><path d="M379.5 1380a7.5 7.5 0 1 0 15 0a7.5 7.5 0 1 0 -15 0Z"/><path d="M391.5 1394a7.5 7.5 0 1 0 15 0a7.5 7.5 0 1 0 -15 0Z"/><path d="M402.5 1386a7.5 7.5 0 1 0 15 0a7.5 7.5 0 1 0 -15 0Z"/><path d="M403.5 1393a7.5 7.5 0 1 0 15 0a7.5 7.5 0 1 0 -15 0Z"/><path d="M413.5 1386a7.5 7.5 0 1 0 15 0a7.5 7.5 0 1 0 -15 0Z"/><path d="M415.5 1391a7.5 7.5 0 1 0 15 0a7.5 7.5 0 1 0 -15 0Z"/><path d="M427.5 1398a7.5 7.5 0 1 0 15 0a7.5 7.5 0 1 0 -15 0Z"/><path d="M426.5 1401a7.5 7.5 0 1 0 15 0a7.5 7.5 0 1 0 -15 0Z"/><path d="M439.5 1400a7.5 7.5 0 1 0 15 0a7.5 7.5 0 1 0 -15 0Z"/><path d="M442.5 1395.6a7.5 7.5 0 1 0 15 0a7.5 7.5 0 1 0 -15 0Z"/><path d="M448.9 1398.4a7.5 7.5 0 1 0 15 0a7.5 7.5 0 1 0 -15 0Z"/><path d="M455.5 1408a7.5 7.5 0 1 0 15 0a7.5 7.5 0 1 0 -15 0Z"/><path d="M458.5 1408a7.5 7.5 0 1 0 15 0a7.5 7.5 0 1 0 -15 0Z"/><path d="M462.5 1412a7.5 7.5 0 1 0 15 0a7.5 7.5 0 1 0 -15 0Z"/><path d="M469.5 1408a7.5 7.5 0 1 0 15 0a7.5 7.5 0 1 0 -15 0Z"/><path d="M469.5 1419a7.5 7.5 0 1 0 15 0a7.5 7.5 0 1 0 -15 0Z"/><path d="M482.5 1423a7.5 7.5 0 1 0 15 0a7.5 7.5 0 1 0 -15 0Z"/><path d="M484.5 1423a7.5 7.5 0 1 0 15 0a7.5 7.5 0 1 0 -15 0Z"/><path d="M487.5 1420a7.5 7.5 0 1 0 15 0a7.5 7.5 0 1 0 -15 0Z"/><path d="M490.5 1419a7.5 7.5 0 1 0 15 0a7.5 7.5 0 1 0 -15 0Z"/><path d="M491.5 1428a7.5 7.5 0 1 0 15 0a7.5 7.5 0 1 0 -15 0Z"/><path d="M495.5 1428a7.5 7.5 0 1 0 15 0a7.5 7.5 0 1 0 -15 0Z"/><path d="M506.1 1436a7.5 7.5 0 1 0 15 0a7.5 7.5 0 1 0 -15 0Z"/><path d="M510.5 1430a7.5 7.5 0 1 0 15 0a7.5 7.5 0 1 0 -15 0Z"/><path d="M522.5 1432a7.5 7.5 0 1 0 15 0a7.5 7.5 0 1 0 -15 0Z"/><path d="M534.9 1430a7.5 7.5 0 1 0 15 0a7.5 7.5 0 1 0 -15 0Z"/><path d="M534.5 1437a7.5 7.5 0 1 0 15 0a7.5 7.5 0 1 0 -15 0Z"/><path d="M541.5 1443a7.5 7.5 0 1 0 15 0a7.5 7.5 0 1 0 -15 0Z"/><path d="M547.5 1451a7.5 7.5 0 1 0 15 0a7.5 7.5 0 1 0 -15 0Z"/><path d="M556.5 1445a7.5 7.5 0 1 0 15 0a7.5 7.5 0 1 0 -15 0Z"/><path d="M561.5 1446a7.5 7.5 0 1 0 15 0a7.5 7.5 0 1 0 -15 0Z"/><path d="M565.5 1444a7.5 7.5 0 1 0 15 0a7.5 7.5 0 1 0 -15 0Z"/><path d="M568.5 1449a7.5 7.5 0 1 0 15 0a7.5 7.5 0 1 0 -15 0Z"/><path d="M573.5 1451a7.5 7.5 0 1 0 15 0a7.5 7.5 0 1 0 -15 0Z"/><path d="M576.5 1454a7.5 7.5 0 1 0 15 0a7.5 7.5 0 1 0 -15 0Z"/><path d="M583.5 1458a7.5 7.5 0 1 0 15 0a7.5 7.5 0 1 0 -15 0Z"/><path d="M590.5 1454a7.5 7.5 0 1 0 15 0a7.5 7.5 0 1 0 -15 0Z"/><path d="M593.5 1449a7.5 7.5 0 1 0 15 0a7.5 7.5 0 1 0 -15 0Z"/><path d="M602.5 1454a7.5 7.5 0 1 0 15 0a7.5 7.5 0 1 0 -15 0Z"/><path d="M607.5 1452a7.5 7.5 0 1 0 15 0a7.5 7.5 0 1 0 -15 0Z"/><path d="M609.5 1465a7.5 7.5 0 1 0 15 0a7.5 7.5 0 1 0 -15 0Z"/><path d="M613.5 1460a7.5 7.5 0 1 0 15 0a7.5 7.5 0 1 0 -15 0Z"/><path d="M618.5 1465a7.5 7.5 0 1 0 15 0a7.5 7.5 0 1 0 -15 0Z"/><path d="M620.5 1469a7.5 7.5 0 1 0 15 0a7.5 7.5 0 1 0 -15 0Z"/><path d="M630.5 1465a7.5 7.5 0 1 0 15 0a7.5 7.5 0 1 0 -15 0Z"/><path d="M640.5 1459a7.5 7.5 0 1 0 15 0a7.5 7.5 0 1 0 -15 0Z"/><path d="M640.5 1471a7.5 7.5 0 1 0 15 0a7.5 7.5 0 1 0 -15 0Z"/><path d="M648.5 1476a7.5 7.5 0 1 0 15 0a7.5 7.5 0 1 0 -15 0Z"/><path d="M653.5 1478a7.5 7.5 0 1 0 15 0a7.5 7.5 0 1 0 -15 0Z"/><path d="M661.5 1483a7.5 7.5 0 1 0 15 0a7.5 7.5 0 1 0 -15 0Z"/><path d="M667.5 1478a7.5 7.5 0 1 0 15 0a7.5 7.5 0 1 0 -15 0Z"/><path d="M670.5 1467a7.5 7.5 0 1 0 15 0a7.5 7.5 0 1 0 -15 0Z"/><path d="M674.5 1478a7.5 7.5 0 1 0 15 0a7.5 7.5 0 1 0 -15 0Z"/><path d="M673.5 1468a7.5 7.5 0 1 0 15 0a7.5 7.5 0 1 0 -15 0Z"/><path d="M678.1 1487a7.5 7.5 0 1 0 15 0a7.5 7.5 0 1 0 -15 0Z"/><path d="M679.5 1487a7.5 7.5 0 1 0 15 0a7.5 7.5 0 1 0 -15 0Z"/><path d="M674.5 1478a7.5 7.5 0 1 0 15 0a7.5 7.5 0 1 0 -15 0Z"/><path d="M702.5 1485a7.5 7.5 0 1 0 15 0a7.5 7.5 0 1 0 -15 0Z"/><path d="M700.5 1499a7.5 7.5 0 1 0 15 0a7.5 7.5 0 1 0 -15 0Z"/><path d="M704.5 1492a7.5 7.5 0 1 0 15 0a7.5 7.5 0 1 0 -15 0Z"/><path d="M714.5 1496a7.5 7.5 0 1 0 15 0a7.5 7.5 0 1 0 -15 0Z"/><path d="M718.5 1500a7.5 7.5 0 1 0 15 0a7.5 7.5 0 1 0 -15 0Z"/><path d="M722.5 1502a7.5 7.5 0 1 0 15 0a7.5 7.5 0 1 0 -15 0Z"/><path d="M727.5 1505a7.5 7.5 0 1 0 15 0a7.5 7.5 0 1 0 -15 0Z"/><path d="M730.5 1510a7.5 7.5 0 1 0 15 0a7.5 7.5 0 1 0 -15 0Z"/><path d="M736.5 1513a7.5 7.5 0 1 0 15 0a7.5 7.5 0 1 0 -15 0Z"/><path d="M744.5 1504a7.5 7.5 0 1 0 15 0a7.5 7.5 0 1 0 -15 0Z"/><path d="M747.5 1509a7.5 7.5 0 1 0 15 0a7.5 7.5 0 1 0 -15 0Z"/><path d="M750.5 1516a7.5 7.5 0 1 0 15 0a7.5 7.5 0 1 0 -15 0Z"/><path d="M758.1 1515a7.5 7.5 0 1 0 15 0a7.5 7.5 0 1 0 -15 0Z"/><path d="M785.1 1518.4a7.5 7.5 0 1 0 15 0a7.5 7.5 0 1 0 -15 0Z"/><path d="M802.5 1532a7.5 7.5 0 1 0 15 0a7.5 7.5 0 1 0 -15 0Z"/><path d="M808.5 1535a7.5 7.5 0 1 0 15 0a7.5 7.5 0 1 0 -15 0Z"/><path d="M826.5 1528a7.5 7.5 0 1 0 15 0a7.5 7.5 0 1 0 -15 0Z"/><path d="M830.1 1533a7.5 7.5 0 1 0 15 0a7.5 7.5 0 1 0 -15 0Z"/><path d="M830.1 1540a7.5 7.5 0 1 0 15 0a7.5 7.5 0 1 0 -15 0Z"/><path d="M833.3 1532.8a7.5 7.5 0 1 0 15 0a7.5 7.5 0 1 0 -15 0Z"/><path d="M833.3 1540.8a7.5 7.5 0 1 0 15 0a7.5 7.5 0 1 0 -15 0Z"/><path d="M854.1 1534.4a7.5 7.5 0 1 0 15 0a7.5 7.5 0 1 0 -15 0Z"/><path d="M871.7 1541.6a7.5 7.5 0 1 0 15 0a7.5 7.5 0 1 0 -15 0Z"/><path d="M870.9 1551.2a7.5 7.5 0 1 0 15 0a7.5 7.5 0 1 0 -15 0Z"/><path d="M878.1 1546.4a7.5 7.5 0 1 0 15 0a7.5 7.5 0 1 0 -15 0Z"/><path d="M877.3 1552a7.5 7.5 0 1 0 15 0a7.5 7.5 0 1 0 -15 0Z"/><path d="M885.3 1554.4a7.5 7.5 0 1 0 15 0a7.5 7.5 0 1 0 -15 0Z"/><path d="M890.1 1556a7.5 7.5 0 1 0 15 0a7.5 7.5 0 1 0 -15 0Z"/><path d="M892.5 1540.8a7.5 7.5 0 1 0 15 0a7.5 7.5 0 1 0 -15 0Z"/><path d="M901.3 1540.8a7.5 7.5 0 1 0 15 0a7.5 7.5 0 1 0 -15 0Z"/><path d="M902.9 1544.8a7.5 7.5 0 1 0 15 0a7.5 7.5 0 1 0 -15 0Z"/><path d="M920.2 1561.6a7.5 7.5 0 1 0 15 0a7.5 7.5 0 1 0 -15 0Z"/><path d="M923.7 1569.6a7.5 7.5 0 1 0 15 0a7.5 7.5 0 1 0 -15 0Z"/><path d="M925.3 1576a7.5 7.5 0 1 0 15 0a7.5 7.5 0 1 0 -15 0Z"/><path d="M925.3 1580.8a7.5 7.5 0 1 0 15 0a7.5 7.5 0 1 0 -15 0Z"/></g><path d="M195.6 1442V1462M187.6 1442H203.6M187.6 1462H203.6M353.4 1437V1452M345.4 1437H361.4M345.4 1452H361.4M467.2 1486V1502M459.2 1486H475.2M459.2 1502H475.2M531 1505V1526M523 1505H539M523 1526H539M558 1517V1533M550 1517H566M550 1533H566M625 1535V1549M617 1535H633M617 1549H633M624 1529V1543M616 1529H632M616 1543H632M687 1552V1568M679 1552H695M679 1568H695M712.4 1561V1575M704.4 1561H720.4M704.4 1575H720.4M735.6 1568V1584M727.6 1568H743.6M727.6 1584H743.6M816 1600V1617M808 1600H824M808 1617H824M837 1597V1619M829 1597H845M829 1619H845M840.8 1597V1620M832.8 1597H848.8M832.8 1620H848.8M861.6 1599V1613M853.6 1599H869.6M853.6 1613H869.6M885.6 1606V1622M877.6 1606H893.6M877.6 1622H893.6M894.4 1613V1634M886.4 1613H902.4M886.4 1634H902.4M909.6 1601V1616M901.6 1601H917.6M901.6 1616H917.6M932.8 1627V1645M924.8 1627H940.8M924.8 1645H940.8M942.9 1630V1656M934.9 1630H950.9M934.9 1656H950.9" stroke="#000" stroke-width="1.7" fill="none"/><path d="M187.6 1442H203.6M187.6 1462H203.6M345.4 1437H361.4M345.4 1452H361.4M459.2 1486H475.2M459.2 1502H475.2M523 1505H539M523 1526H539M550 1517H566M550 1533H566M617 1535H633M617 1549H633M616 1529H632M616 1543H632M679 1552H695M679 1568H695M704.4 1561H720.4M704.4 1575H720.4M727.6 1568H743.6M727.6 1584H743.6M808 1600H824M808 1617H824M829 1597H845M829 1619H845M832.8 1597H848.8M832.8 1620H848.8M853.6 1599H869.6M853.6 1613H869.6M877.6 1606H893.6M877.6 1622H893.6M886.4 1613H902.4M886.4 1634H902.4M901.6 1601H917.6M901.6 1616H917.6M924.8 1627H940.8M924.8 1645H940.8M934.9 1630H950.9M934.9 1656H950.9" stroke="#000" stroke-width="2.0" fill="none"/><g fill="#5fca66" stroke="#000" stroke-width="1.6"><path d="M188.1 1451.4a7.5 7.5 0 1 0 15 0a7.5 7.5 0 1 0 -15 0Z"/><path d="M345.9 1445a7.5 7.5 0 1 0 15 0a7.5 7.5 0 1 0 -15 0Z"/><path d="M359.5 1463a7.5 7.5 0 1 0 15 0a7.5 7.5 0 1 0 -15 0Z"/><path d="M359.5 1464.4a7.5 7.5 0 1 0 15 0a7.5 7.5 0 1 0 -15 0Z"/><path d="M371.7 1465.5a7.5 7.5 0 1 0 15 0a7.5 7.5 0 1 0 -15 0Z"/><path d="M372.5 1464a7.5 7.5 0 1 0 15 0a7.5 7.5 0 1 0 -15 0Z"/><path d="M379.4 1468.8a7.5 7.5 0 1 0 15 0a7.5 7.5 0 1 0 -15 0Z"/><path d="M379.5 1469a7.5 7.5 0 1 0 15 0a7.5 7.5 0 1 0 -15 0Z"/><path d="M391.5 1479.8a7.5 7.5 0 1 0 15 0a7.5 7.5 0 1 0 -15 0Z"/><path d="M390.5 1478a7.5 7.5 0 1 0 15 0a7.5 7.5 0 1 0 -15 0Z"/><path d="M402.5 1475a7.5 7.5 0 1 0 15 0a7.5 7.5 0 1 0 -15 0Z"/><path d="M403.6 1477.6a7.5 7.5 0 1 0 15 0a7.5 7.5 0 1 0 -15 0Z"/><path d="M414.5 1475a7.5 7.5 0 1 0 15 0a7.5 7.5 0 1 0 -15 0Z"/><path d="M415.7 1475.4a7.5 7.5 0 1 0 15 0a7.5 7.5 0 1 0 -15 0Z"/><path d="M426.7 1482a7.5 7.5 0 1 0 15 0a7.5 7.5 0 1 0 -15 0Z"/><path d="M426.5 1478a7.5 7.5 0 1 0 15 0a7.5 7.5 0 1 0 -15 0Z"/><path d="M442.1 1482a7.5 7.5 0 1 0 15 0a7.5 7.5 0 1 0 -15 0Z"/><path d="M442.5 1479a7.5 7.5 0 1 0 15 0a7.5 7.5 0 1 0 -15 0Z"/><path d="M449.8 1488.6a7.5 7.5 0 1 0 15 0a7.5 7.5 0 1 0 -15 0Z"/><path d="M455.3 1490.8a7.5 7.5 0 1 0 15 0a7.5 7.5 0 1 0 -15 0Z"/><path d="M459.7 1494.1a7.5 7.5 0 1 0 15 0a7.5 7.5 0 1 0 -15 0Z"/><path d="M483.9 1500.7a7.5 7.5 0 1 0 15 0a7.5 7.5 0 1 0 -15 0Z"/><path d="M485.5 1500a7.5 7.5 0 1 0 15 0a7.5 7.5 0 1 0 -15 0Z"/><path d="M495.5 1509a7.5 7.5 0 1 0 15 0a7.5 7.5 0 1 0 -15 0Z"/><path d="M496 1508.4a7.5 7.5 0 1 0 15 0a7.5 7.5 0 1 0 -15 0Z"/><path d="M505.9 1517.2a7.5 7.5 0 1 0 15 0a7.5 7.5 0 1 0 -15 0Z"/><path d="M506.5 1517a7.5 7.5 0 1 0 15 0a7.5 7.5 0 1 0 -15 0Z"/><path d="M523.5 1514a7.5 7.5 0 1 0 15 0a7.5 7.5 0 1 0 -15 0Z"/><path d="M541.5 1521a7.5 7.5 0 1 0 15 0a7.5 7.5 0 1 0 -15 0Z"/><path d="M550.5 1525a7.5 7.5 0 1 0 15 0a7.5 7.5 0 1 0 -15 0Z"/><path d="M558.1 1523a7.5 7.5 0 1 0 15 0a7.5 7.5 0 1 0 -15 0Z"/><path d="M577.5 1529a7.5 7.5 0 1 0 15 0a7.5 7.5 0 1 0 -15 0Z"/><path d="M610.5 1544a7.5 7.5 0 1 0 15 0a7.5 7.5 0 1 0 -15 0Z"/><path d="M617.5 1542a7.5 7.5 0 1 0 15 0a7.5 7.5 0 1 0 -15 0Z"/><path d="M616.5 1536a7.5 7.5 0 1 0 15 0a7.5 7.5 0 1 0 -15 0Z"/><path d="M631.5 1536a7.5 7.5 0 1 0 15 0a7.5 7.5 0 1 0 -15 0Z"/><path d="M631.5 1542a7.5 7.5 0 1 0 15 0a7.5 7.5 0 1 0 -15 0Z"/><path d="M649.5 1549a7.5 7.5 0 1 0 15 0a7.5 7.5 0 1 0 -15 0Z"/><path d="M679.5 1560a7.5 7.5 0 1 0 15 0a7.5 7.5 0 1 0 -15 0Z"/><path d="M704.9 1567a7.5 7.5 0 1 0 15 0a7.5 7.5 0 1 0 -15 0Z"/><path d="M728.1 1577a7.5 7.5 0 1 0 15 0a7.5 7.5 0 1 0 -15 0Z"/><path d="M805.5 1601a7.5 7.5 0 1 0 15 0a7.5 7.5 0 1 0 -15 0Z"/><path d="M808.5 1608a7.5 7.5 0 1 0 15 0a7.5 7.5 0 1 0 -15 0Z"/><path d="M829.5 1606a7.5 7.5 0 1 0 15 0a7.5 7.5 0 1 0 -15 0Z"/><path d="M833.3 1606.4a7.5 7.5 0 1 0 15 0a7.5 7.5 0 1 0 -15 0Z"/><path d="M853.5 1606a7.5 7.5 0 1 0 15 0a7.5 7.5 0 1 0 -15 0Z"/><path d="M854.1 1605.6a7.5 7.5 0 1 0 15 0a7.5 7.5 0 1 0 -15 0Z"/><path d="M878.1 1614.4a7.5 7.5 0 1 0 15 0a7.5 7.5 0 1 0 -15 0Z"/><path d="M878.1 1619.2a7.5 7.5 0 1 0 15 0a7.5 7.5 0 1 0 -15 0Z"/><path d="M881.5 1622a7.5 7.5 0 1 0 15 0a7.5 7.5 0 1 0 -15 0Z"/><path d="M886.9 1623.2a7.5 7.5 0 1 0 15 0a7.5 7.5 0 1 0 -15 0Z"/><path d="M902.1 1608.8a7.5 7.5 0 1 0 15 0a7.5 7.5 0 1 0 -15 0Z"/><path d="M902.9 1614.9a7.5 7.5 0 1 0 15 0a7.5 7.5 0 1 0 -15 0Z"/><path d="M925.3 1636.8a7.5 7.5 0 1 0 15 0a7.5 7.5 0 1 0 -15 0Z"/><path d="M935.4 1642.4a7.5 7.5 0 1 0 15 0a7.5 7.5 0 1 0 -15 0Z"/></g><path d="M917.6 1686V1698M909.6 1686H925.6M909.6 1698H925.6" stroke="#000" stroke-width="1.7" fill="none"/><path d="M909.6 1686H925.6M909.6 1698H925.6" stroke="#000" stroke-width="2.0" fill="none"/><g fill="#4ad1cc" stroke="#000" stroke-width="1.6"><path d="M215.7 1587.4a7.5 7.5 0 1 0 15 0a7.5 7.5 0 1 0 -15 0Z"/><path d="M227.9 1572.6a7.5 7.5 0 1 0 15 0a7.5 7.5 0 1 0 -15 0Z"/><path d="M323.7 1534.1a7.5 7.5 0 1 0 15 0a7.5 7.5 0 1 0 -15 0Z"/><path d="M371.7 1552.4a7.5 7.5 0 1 0 15 0a7.5 7.5 0 1 0 -15 0Z"/><path d="M383.1 1561.7a7.5 7.5 0 1 0 15 0a7.5 7.5 0 1 0 -15 0Z"/><path d="M391.5 1569a7.5 7.5 0 1 0 15 0a7.5 7.5 0 1 0 -15 0Z"/><path d="M395.9 1571.1a7.5 7.5 0 1 0 15 0a7.5 7.5 0 1 0 -15 0Z"/><path d="M406.9 1562.3a7.5 7.5 0 1 0 15 0a7.5 7.5 0 1 0 -15 0Z"/><path d="M409.5 1566.7a7.5 7.5 0 1 0 15 0a7.5 7.5 0 1 0 -15 0Z"/><path d="M475.1 1591.4a7.5 7.5 0 1 0 15 0a7.5 7.5 0 1 0 -15 0Z"/><path d="M479.5 1591.6a7.5 7.5 0 1 0 15 0a7.5 7.5 0 1 0 -15 0Z"/><path d="M487.2 1591a7.5 7.5 0 1 0 15 0a7.5 7.5 0 1 0 -15 0Z"/><path d="M491.6 1596.4a7.5 7.5 0 1 0 15 0a7.5 7.5 0 1 0 -15 0Z"/><path d="M493.5 1597a7.5 7.5 0 1 0 15 0a7.5 7.5 0 1 0 -15 0Z"/><path d="M545.5 1619a7.5 7.5 0 1 0 15 0a7.5 7.5 0 1 0 -15 0Z"/><path d="M557.5 1603a7.5 7.5 0 1 0 15 0a7.5 7.5 0 1 0 -15 0Z"/><path d="M565.5 1611a7.5 7.5 0 1 0 15 0a7.5 7.5 0 1 0 -15 0Z"/><path d="M568.5 1618a7.5 7.5 0 1 0 15 0a7.5 7.5 0 1 0 -15 0Z"/><path d="M576.5 1620a7.5 7.5 0 1 0 15 0a7.5 7.5 0 1 0 -15 0Z"/><path d="M581.5 1627a7.5 7.5 0 1 0 15 0a7.5 7.5 0 1 0 -15 0Z"/><path d="M631.5 1630a7.5 7.5 0 1 0 15 0a7.5 7.5 0 1 0 -15 0Z"/><path d="M635.5 1631a7.5 7.5 0 1 0 15 0a7.5 7.5 0 1 0 -15 0Z"/><path d="M644.5 1636a7.5 7.5 0 1 0 15 0a7.5 7.5 0 1 0 -15 0Z"/><path d="M646.5 1640a7.5 7.5 0 1 0 15 0a7.5 7.5 0 1 0 -15 0Z"/><path d="M655.5 1641a7.5 7.5 0 1 0 15 0a7.5 7.5 0 1 0 -15 0Z"/><path d="M659.5 1647a7.5 7.5 0 1 0 15 0a7.5 7.5 0 1 0 -15 0Z"/><path d="M708.5 1655a7.5 7.5 0 1 0 15 0a7.5 7.5 0 1 0 -15 0Z"/><path d="M712.5 1660a7.5 7.5 0 1 0 15 0a7.5 7.5 0 1 0 -15 0Z"/><path d="M721.5 1661a7.5 7.5 0 1 0 15 0a7.5 7.5 0 1 0 -15 0Z"/><path d="M725.5 1668a7.5 7.5 0 1 0 15 0a7.5 7.5 0 1 0 -15 0Z"/><path d="M733.5 1677a7.5 7.5 0 1 0 15 0a7.5 7.5 0 1 0 -15 0Z"/><path d="M737.5 1680a7.5 7.5 0 1 0 15 0a7.5 7.5 0 1 0 -15 0Z"/><path d="M737.5 1682a7.5 7.5 0 1 0 15 0a7.5 7.5 0 1 0 -15 0Z"/><path d="M800.5 1693a7.5 7.5 0 1 0 15 0a7.5 7.5 0 1 0 -15 0Z"/><path d="M800.5 1692a7.5 7.5 0 1 0 15 0a7.5 7.5 0 1 0 -15 0Z"/><path d="M809.5 1696a7.5 7.5 0 1 0 15 0a7.5 7.5 0 1 0 -15 0Z"/><path d="M811.5 1697a7.5 7.5 0 1 0 15 0a7.5 7.5 0 1 0 -15 0Z"/><path d="M910.1 1692a7.5 7.5 0 1 0 15 0a7.5 7.5 0 1 0 -15 0Z"/></g><path d="M168 1661.6V1682M160 1661.6H176M160 1682H176M173.9 1679.2V1699.5M165.9 1679.2H181.9M165.9 1699.5H181.9M206.7 1723.5V1742M198.7 1723.5H214.7M198.7 1742H214.7M218.4 1737V1752M210.4 1737H226.4M210.4 1752H226.4M228 1744.8V1765.6M220 1744.8H236M220 1765.6H236M224.3 1720V1735M216.3 1720H232.3M216.3 1735H232.3M230.4 1711V1726M222.4 1711H238.4M222.4 1726H238.4M236.5 1704.8V1716M228.5 1704.8H244.5M228.5 1716H244.5M399.6 1670V1685M391.6 1670H407.6M391.6 1685H407.6M519 1695V1710M511 1695H527M511 1710H527M530 1681V1697M522 1681H538M522 1697H538M616 1708V1724M608 1708H624M608 1724H624M813 1781V1795M805 1781H821M805 1795H821M837 1773V1787M829 1773H845M829 1787H845M910 1776V1790M902 1776H918M902 1790H918M933 1808V1822M925 1808H941M925 1822H941M942.6 1809V1830M934.6 1809H950.6M934.6 1830H950.6" stroke="#000" stroke-width="1.7" fill="none"/><path d="M160 1661.6H176M160 1682H176M165.9 1679.2H181.9M165.9 1699.5H181.9M198.7 1723.5H214.7M198.7 1742H214.7M210.4 1737H226.4M210.4 1752H226.4M220 1744.8H236M220 1765.6H236M216.3 1720H232.3M216.3 1735H232.3M222.4 1711H238.4M222.4 1726H238.4M228.5 1704.8H244.5M228.5 1716H244.5M391.6 1670H407.6M391.6 1685H407.6M511 1695H527M511 1710H527M522 1681H538M522 1697H538M608 1708H624M608 1724H624M805 1781H821M805 1795H821M829 1773H845M829 1787H845M902 1776H918M902 1790H918M925 1808H941M925 1822H941M934.6 1809H950.6M934.6 1830H950.6" stroke="#000" stroke-width="2.0" fill="none"/><g fill="#21958a" stroke="#000" stroke-width="1.6"><path d="M142.9 1663.2a7.5 7.5 0 1 0 15 0a7.5 7.5 0 1 0 -15 0Z"/><path d="M154.4 1654.1a7.5 7.5 0 1 0 15 0a7.5 7.5 0 1 0 -15 0Z"/><path d="M160.5 1675.2a7.5 7.5 0 1 0 15 0a7.5 7.5 0 1 0 -15 0Z"/><path d="M166.4 1689.6a7.5 7.5 0 1 0 15 0a7.5 7.5 0 1 0 -15 0Z"/><path d="M185 1662.9a7.5 7.5 0 1 0 15 0a7.5 7.5 0 1 0 -15 0Z"/><path d="M199.2 1732.8a7.5 7.5 0 1 0 15 0a7.5 7.5 0 1 0 -15 0Z"/><path d="M210.9 1744.8a7.5 7.5 0 1 0 15 0a7.5 7.5 0 1 0 -15 0Z"/><path d="M220.5 1755.2a7.5 7.5 0 1 0 15 0a7.5 7.5 0 1 0 -15 0Z"/><path d="M216.8 1727.7a7.5 7.5 0 1 0 15 0a7.5 7.5 0 1 0 -15 0Z"/><path d="M222.9 1718.4a7.5 7.5 0 1 0 15 0a7.5 7.5 0 1 0 -15 0Z"/><path d="M229 1710.9a7.5 7.5 0 1 0 15 0a7.5 7.5 0 1 0 -15 0Z"/><path d="M232.5 1692.8a7.5 7.5 0 1 0 15 0a7.5 7.5 0 1 0 -15 0Z"/><path d="M241.3 1687.5a7.5 7.5 0 1 0 15 0a7.5 7.5 0 1 0 -15 0Z"/><path d="M245.3 1663.2a7.5 7.5 0 1 0 15 0a7.5 7.5 0 1 0 -15 0Z"/><path d="M258.5 1643.2a7.5 7.5 0 1 0 15 0a7.5 7.5 0 1 0 -15 0Z"/><path d="M265.7 1644.8a7.5 7.5 0 1 0 15 0a7.5 7.5 0 1 0 -15 0Z"/><path d="M278.2 1638.9a7.5 7.5 0 1 0 15 0a7.5 7.5 0 1 0 -15 0Z"/><path d="M292.9 1637.6a7.5 7.5 0 1 0 15 0a7.5 7.5 0 1 0 -15 0Z"/><path d="M308.1 1628.8a7.5 7.5 0 1 0 15 0a7.5 7.5 0 1 0 -15 0Z"/><path d="M312.9 1634.4a7.5 7.5 0 1 0 15 0a7.5 7.5 0 1 0 -15 0Z"/><path d="M316.9 1633.6a7.5 7.5 0 1 0 15 0a7.5 7.5 0 1 0 -15 0Z"/><path d="M314.5 1633a7.5 7.5 0 1 0 15 0a7.5 7.5 0 1 0 -15 0Z"/><path d="M324.5 1634a7.5 7.5 0 1 0 15 0a7.5 7.5 0 1 0 -15 0Z"/><path d="M328.5 1630a7.5 7.5 0 1 0 15 0a7.5 7.5 0 1 0 -15 0Z"/><path d="M332.5 1633a7.5 7.5 0 1 0 15 0a7.5 7.5 0 1 0 -15 0Z"/><path d="M341.7 1646.4a7.5 7.5 0 1 0 15 0a7.5 7.5 0 1 0 -15 0Z"/><path d="M345.5 1646a7.5 7.5 0 1 0 15 0a7.5 7.5 0 1 0 -15 0Z"/><path d="M359.5 1648a7.5 7.5 0 1 0 15 0a7.5 7.5 0 1 0 -15 0Z"/><path d="M360.5 1654a7.5 7.5 0 1 0 15 0a7.5 7.5 0 1 0 -15 0Z"/><path d="M368.5 1646a7.5 7.5 0 1 0 15 0a7.5 7.5 0 1 0 -15 0Z"/><path d="M372.5 1656a7.5 7.5 0 1 0 15 0a7.5 7.5 0 1 0 -15 0Z"/><path d="M377.5 1653a7.5 7.5 0 1 0 15 0a7.5 7.5 0 1 0 -15 0Z"/><path d="M379.5 1666a7.5 7.5 0 1 0 15 0a7.5 7.5 0 1 0 -15 0Z"/><path d="M389.5 1660a7.5 7.5 0 1 0 15 0a7.5 7.5 0 1 0 -15 0Z"/><path d="M392.1 1678a7.5 7.5 0 1 0 15 0a7.5 7.5 0 1 0 -15 0Z"/><path d="M398.5 1667a7.5 7.5 0 1 0 15 0a7.5 7.5 0 1 0 -15 0Z"/><path d="M403.5 1663a7.5 7.5 0 1 0 15 0a7.5 7.5 0 1 0 -15 0Z"/><path d="M403.5 1669a7.5 7.5 0 1 0 15 0a7.5 7.5 0 1 0 -15 0Z"/><path d="M413.5 1655a7.5 7.5 0 1 0 15 0a7.5 7.5 0 1 0 -15 0Z"/><path d="M414.5 1668a7.5 7.5 0 1 0 15 0a7.5 7.5 0 1 0 -15 0Z"/><path d="M421.5 1664a7.5 7.5 0 1 0 15 0a7.5 7.5 0 1 0 -15 0Z"/><path d="M427.5 1666a7.5 7.5 0 1 0 15 0a7.5 7.5 0 1 0 -15 0Z"/><path d="M427.5 1671a7.5 7.5 0 1 0 15 0a7.5 7.5 0 1 0 -15 0Z"/><path d="M440.5 1668a7.5 7.5 0 1 0 15 0a7.5 7.5 0 1 0 -15 0Z"/><path d="M449.5 1661a7.5 7.5 0 1 0 15 0a7.5 7.5 0 1 0 -15 0Z"/><path d="M455.5 1679a7.5 7.5 0 1 0 15 0a7.5 7.5 0 1 0 -15 0Z"/><path d="M457.5 1673a7.5 7.5 0 1 0 15 0a7.5 7.5 0 1 0 -15 0Z"/><path d="M463.5 1677a7.5 7.5 0 1 0 15 0a7.5 7.5 0 1 0 -15 0Z"/><path d="M467.5 1683a7.5 7.5 0 1 0 15 0a7.5 7.5 0 1 0 -15 0Z"/><path d="M469.5 1692a7.5 7.5 0 1 0 15 0a7.5 7.5 0 1 0 -15 0Z"/><path d="M475.5 1683a7.5 7.5 0 1 0 15 0a7.5 7.5 0 1 0 -15 0Z"/><path d="M484.5 1680a7.5 7.5 0 1 0 15 0a7.5 7.5 0 1 0 -15 0Z"/><path d="M484.5 1688a7.5 7.5 0 1 0 15 0a7.5 7.5 0 1 0 -15 0Z"/><path d="M496.5 1686a7.5 7.5 0 1 0 15 0a7.5 7.5 0 1 0 -15 0Z"/><path d="M494.5 1698a7.5 7.5 0 1 0 15 0a7.5 7.5 0 1 0 -15 0Z"/><path d="M505.5 1696a7.5 7.5 0 1 0 15 0a7.5 7.5 0 1 0 -15 0Z"/><path d="M509.5 1701a7.5 7.5 0 1 0 15 0a7.5 7.5 0 1 0 -15 0Z"/><path d="M497.5 1687a7.5 7.5 0 1 0 15 0a7.5 7.5 0 1 0 -15 0Z"/><path d="M511.5 1702a7.5 7.5 0 1 0 15 0a7.5 7.5 0 1 0 -15 0Z"/><path d="M522.5 1689a7.5 7.5 0 1 0 15 0a7.5 7.5 0 1 0 -15 0Z"/><path d="M522.5 1694a7.5 7.5 0 1 0 15 0a7.5 7.5 0 1 0 -15 0Z"/><path d="M535.5 1697a7.5 7.5 0 1 0 15 0a7.5 7.5 0 1 0 -15 0Z"/><path d="M538.5 1702a7.5 7.5 0 1 0 15 0a7.5 7.5 0 1 0 -15 0Z"/><path d="M541.5 1709a7.5 7.5 0 1 0 15 0a7.5 7.5 0 1 0 -15 0Z"/><path d="M546.5 1704a7.5 7.5 0 1 0 15 0a7.5 7.5 0 1 0 -15 0Z"/><path d="M556.5 1702a7.5 7.5 0 1 0 15 0a7.5 7.5 0 1 0 -15 0Z"/><path d="M561.5 1695a7.5 7.5 0 1 0 15 0a7.5 7.5 0 1 0 -15 0Z"/><path d="M565.5 1697a7.5 7.5 0 1 0 15 0a7.5 7.5 0 1 0 -15 0Z"/><path d="M572.5 1700a7.5 7.5 0 1 0 15 0a7.5 7.5 0 1 0 -15 0Z"/><path d="M575.5 1710a7.5 7.5 0 1 0 15 0a7.5 7.5 0 1 0 -15 0Z"/><path d="M584.5 1708a7.5 7.5 0 1 0 15 0a7.5 7.5 0 1 0 -15 0Z"/><path d="M588.5 1703a7.5 7.5 0 1 0 15 0a7.5 7.5 0 1 0 -15 0Z"/><path d="M595.5 1700a7.5 7.5 0 1 0 15 0a7.5 7.5 0 1 0 -15 0Z"/><path d="M607.5 1706a7.5 7.5 0 1 0 15 0a7.5 7.5 0 1 0 -15 0Z"/><path d="M608.5 1716a7.5 7.5 0 1 0 15 0a7.5 7.5 0 1 0 -15 0Z"/><path d="M612.5 1720a7.5 7.5 0 1 0 15 0a7.5 7.5 0 1 0 -15 0Z"/><path d="M616.5 1713a7.5 7.5 0 1 0 15 0a7.5 7.5 0 1 0 -15 0Z"/><path d="M614.5 1716a7.5 7.5 0 1 0 15 0a7.5 7.5 0 1 0 -15 0Z"/><path d="M617.5 1714a7.5 7.5 0 1 0 15 0a7.5 7.5 0 1 0 -15 0Z"/><path d="M630.5 1713a7.5 7.5 0 1 0 15 0a7.5 7.5 0 1 0 -15 0Z"/><path d="M632.5 1711a7.5 7.5 0 1 0 15 0a7.5 7.5 0 1 0 -15 0Z"/><path d="M634.5 1709a7.5 7.5 0 1 0 15 0a7.5 7.5 0 1 0 -15 0Z"/><path d="M632.5 1718a7.5 7.5 0 1 0 15 0a7.5 7.5 0 1 0 -15 0Z"/><path d="M639.5 1716a7.5 7.5 0 1 0 15 0a7.5 7.5 0 1 0 -15 0Z"/><path d="M640.5 1713a7.5 7.5 0 1 0 15 0a7.5 7.5 0 1 0 -15 0Z"/><path d="M640.5 1721a7.5 7.5 0 1 0 15 0a7.5 7.5 0 1 0 -15 0Z"/><path d="M646.5 1719a7.5 7.5 0 1 0 15 0a7.5 7.5 0 1 0 -15 0Z"/><path d="M646.5 1720a7.5 7.5 0 1 0 15 0a7.5 7.5 0 1 0 -15 0Z"/><path d="M648.5 1729a7.5 7.5 0 1 0 15 0a7.5 7.5 0 1 0 -15 0Z"/><path d="M652.5 1723a7.5 7.5 0 1 0 15 0a7.5 7.5 0 1 0 -15 0Z"/><path d="M652.5 1724a7.5 7.5 0 1 0 15 0a7.5 7.5 0 1 0 -15 0Z"/><path d="M655.5 1729a7.5 7.5 0 1 0 15 0a7.5 7.5 0 1 0 -15 0Z"/><path d="M656.5 1729a7.5 7.5 0 1 0 15 0a7.5 7.5 0 1 0 -15 0Z"/><path d="M661.5 1728a7.5 7.5 0 1 0 15 0a7.5 7.5 0 1 0 -15 0Z"/><path d="M665.5 1721a7.5 7.5 0 1 0 15 0a7.5 7.5 0 1 0 -15 0Z"/><path d="M666.5 1725a7.5 7.5 0 1 0 15 0a7.5 7.5 0 1 0 -15 0Z"/><path d="M668.5 1730a7.5 7.5 0 1 0 15 0a7.5 7.5 0 1 0 -15 0Z"/><path d="M670.5 1730a7.5 7.5 0 1 0 15 0a7.5 7.5 0 1 0 -15 0Z"/><path d="M673.5 1722a7.5 7.5 0 1 0 15 0a7.5 7.5 0 1 0 -15 0Z"/><path d="M674.5 1722a7.5 7.5 0 1 0 15 0a7.5 7.5 0 1 0 -15 0Z"/><path d="M679.5 1734a7.5 7.5 0 1 0 15 0a7.5 7.5 0 1 0 -15 0Z"/><path d="M679.5 1733a7.5 7.5 0 1 0 15 0a7.5 7.5 0 1 0 -15 0Z"/><path d="M683.5 1734a7.5 7.5 0 1 0 15 0a7.5 7.5 0 1 0 -15 0Z"/><path d="M701.5 1739a7.5 7.5 0 1 0 15 0a7.5 7.5 0 1 0 -15 0Z"/><path d="M703.5 1746a7.5 7.5 0 1 0 15 0a7.5 7.5 0 1 0 -15 0Z"/><path d="M708.5 1733a7.5 7.5 0 1 0 15 0a7.5 7.5 0 1 0 -15 0Z"/><path d="M710.5 1737a7.5 7.5 0 1 0 15 0a7.5 7.5 0 1 0 -15 0Z"/><path d="M714.5 1740a7.5 7.5 0 1 0 15 0a7.5 7.5 0 1 0 -15 0Z"/><path d="M721.5 1743a7.5 7.5 0 1 0 15 0a7.5 7.5 0 1 0 -15 0Z"/><path d="M722.5 1744a7.5 7.5 0 1 0 15 0a7.5 7.5 0 1 0 -15 0Z"/><path d="M726.5 1753a7.5 7.5 0 1 0 15 0a7.5 7.5 0 1 0 -15 0Z"/><path d="M728.5 1753a7.5 7.5 0 1 0 15 0a7.5 7.5 0 1 0 -15 0Z"/><path d="M731.5 1755a7.5 7.5 0 1 0 15 0a7.5 7.5 0 1 0 -15 0Z"/><path d="M738.5 1751a7.5 7.5 0 1 0 15 0a7.5 7.5 0 1 0 -15 0Z"/><path d="M749.5 1746a7.5 7.5 0 1 0 15 0a7.5 7.5 0 1 0 -15 0Z"/><path d="M784.9 1757.4a7.5 7.5 0 1 0 15 0a7.5 7.5 0 1 0 -15 0Z"/><path d="M802.5 1771a7.5 7.5 0 1 0 15 0a7.5 7.5 0 1 0 -15 0Z"/><path d="M805.5 1780a7.5 7.5 0 1 0 15 0a7.5 7.5 0 1 0 -15 0Z"/><path d="M805.5 1788a7.5 7.5 0 1 0 15 0a7.5 7.5 0 1 0 -15 0Z"/><path d="M809.5 1778a7.5 7.5 0 1 0 15 0a7.5 7.5 0 1 0 -15 0Z"/><path d="M816.5 1769a7.5 7.5 0 1 0 15 0a7.5 7.5 0 1 0 -15 0Z"/><path d="M823.5 1766a7.5 7.5 0 1 0 15 0a7.5 7.5 0 1 0 -15 0Z"/><path d="M829.5 1780a7.5 7.5 0 1 0 15 0a7.5 7.5 0 1 0 -15 0Z"/><path d="M830.5 1784a7.5 7.5 0 1 0 15 0a7.5 7.5 0 1 0 -15 0Z"/><path d="M854.1 1781.6a7.5 7.5 0 1 0 15 0a7.5 7.5 0 1 0 -15 0Z"/><path d="M872.1 1785.6a7.5 7.5 0 1 0 15 0a7.5 7.5 0 1 0 -15 0Z"/><path d="M878.1 1795.6a7.5 7.5 0 1 0 15 0a7.5 7.5 0 1 0 -15 0Z"/><path d="M892.5 1779.6a7.5 7.5 0 1 0 15 0a7.5 7.5 0 1 0 -15 0Z"/><path d="M902.5 1783a7.5 7.5 0 1 0 15 0a7.5 7.5 0 1 0 -15 0Z"/><path d="M925.5 1815a7.5 7.5 0 1 0 15 0a7.5 7.5 0 1 0 -15 0Z"/><path d="M935.1 1819.4a7.5 7.5 0 1 0 15 0a7.5 7.5 0 1 0 -15 0Z"/></g></g><rect x="128.75" y="1056.5" width="867.25" height="821" fill="none" stroke="#000" stroke-width="1.6"/><g transform="translate(89.36 1130.9)" font-size="23.10" fill="#000"><text transform="translate(0 0) scale(1.090 1)">1</text><text transform="translate(14 0) scale(1.090 1)">2</text></g><g transform="translate(89.36 1296.9)" font-size="23.10" fill="#000"><text transform="translate(0 0) scale(1.090 1)">1</text><text transform="translate(14 0) scale(1.090 1)">4</text></g><g transform="translate(89.36 1462.9)" font-size="23.10" fill="#000"><text transform="translate(0 0) scale(1.090 1)">1</text><text transform="translate(14 0) scale(1.090 1)">6</text></g><g transform="translate(89.36 1628.9)" font-size="23.10" fill="#000"><text transform="translate(0 0) scale(1.090 1)">1</text><text transform="translate(14 0) scale(1.090 1)">8</text></g><g transform="translate(89.36 1794.9)" font-size="23.10" fill="#000"><text transform="translate(0 0) scale(1.090 1)">2</text><text transform="translate(14 0) scale(1.090 1)">0</text></g><g transform="translate(241.01 1905.6)" font-size="23.10" fill="#000"><text transform="translate(0 0) scale(1.090 1)">5</text><text transform="translate(14 0) scale(1.090 1)">9</text><text transform="translate(27.99 0) scale(1.090 1)">7</text><text transform="translate(41.99 0) scale(1.090 1)">5</text><text transform="translate(55.99 0) scale(1.090 1)">0</text></g><g transform="translate(391.01 1905.6)" font-size="23.10" fill="#000"><text transform="translate(0 0) scale(1.090 1)">5</text><text transform="translate(14 0) scale(1.090 1)">9</text><text transform="translate(27.99 0) scale(1.090 1)">8</text><text transform="translate(41.99 0) scale(1.090 1)">0</text><text transform="translate(55.99 0) scale(1.090 1)">0</text></g><g transform="translate(541.01 1905.6)" font-size="23.10" fill="#000"><text transform="translate(0 0) scale(1.090 1)">5</text><text transform="translate(14 0) scale(1.090 1)">9</text><text transform="translate(27.99 0) scale(1.090 1)">8</text><text transform="translate(41.99 0) scale(1.090 1)">5</text><text transform="translate(55.99 0) scale(1.090 1)">0</text></g><g transform="translate(691.01 1905.6)" font-size="23.10" fill="#000"><text transform="translate(0 0) scale(1.090 1)">5</text><text transform="translate(14 0) scale(1.090 1)">9</text><text transform="translate(27.99 0) scale(1.090 1)">9</text><text transform="translate(41.99 0) scale(1.090 1)">0</text><text transform="translate(55.99 0) scale(1.090 1)">0</text></g><g transform="translate(841.01 1905.6)" font-size="23.10" fill="#000"><text transform="translate(0 0) scale(1.090 1)">5</text><text transform="translate(14 0) scale(1.090 1)">9</text><text transform="translate(27.99 0) scale(1.090 1)">9</text><text transform="translate(41.99 0) scale(1.090 1)">5</text><text transform="translate(55.99 0) scale(1.090 1)">0</text></g><path d="M128.75 1122.5H123.15M128.75 1288.5H123.15M128.75 1454.5H123.15M128.75 1620.5H123.15M128.75 1786.5H123.15M276 1877.5V1883.1M426 1877.5V1883.1M576 1877.5V1883.1M726 1877.5V1883.1M876 1877.5V1883.1" stroke="#000" stroke-width="1.6"/><g transform="translate(474.33 1941.3)" font-size="34.34" fill="#000"><text transform="translate(0 0) scale(0.986 1)">M</text><text transform="translate(26.17 0) scale(0.800 1)">J</text><text transform="translate(37.86 0) scale(1.015 1)">D</text><text transform="translate(73.43 0) scale(1.115 1)">(</text><text transform="translate(86.19 0) scale(1.087 1)">d</text><text transform="translate(106.95 0) scale(1.049 1)">a</text><text transform="translate(126.98 0) scale(1.127 1)">y</text><text transform="translate(146.34 0) scale(0.992 1)">s</text><text transform="translate(163.37 0) scale(1.115 1)">)</text></g><g transform="translate(76.9 1731.21) rotate(-90)"><g transform="translate(0 0)" font-size="34.34" fill="#000"><text transform="translate(0 0) scale(0.976 1)">A</text><text transform="translate(22.37 0) scale(1.087 1)">p</text><text transform="translate(43.13 0) scale(1.087 1)">p</text><text transform="translate(63.88 0) scale(1.049 1)">a</text><text transform="translate(83.92 0) scale(1.175 1)">r</text><text transform="translate(97.01 0) scale(1.053 1)">e</text><text transform="translate(116.76 0) scale(1.085 1)">n</text><text transform="translate(138.17 0) scale(1.200 1)">t</text><text transform="translate(160.71 0) scale(1.113 1)">m</text><text transform="translate(192.56 0) scale(1.049 1)">a</text><text transform="translate(212.6 0) scale(1.087 1)">g</text><text transform="translate(233.35 0) scale(1.085 1)">n</text><text transform="translate(254.08 0) scale(1.191 1)">i</text><text transform="translate(263.85 0) scale(1.200 1)">t</text><text transform="translate(275.99 0) scale(1.085 1)">u</text><text transform="translate(296.71 0) scale(1.087 1)">d</text><text transform="translate(317.47 0) scale(1.053 1)">e</text><text transform="translate(349.64 0) scale(1.200 1)">+</text><text transform="translate(385.77 0) scale(1.047 1)">c</text><text transform="translate(403.75 0) scale(1.047 1)">o</text><text transform="translate(423.76 0) scale(1.085 1)">n</text><text transform="translate(444.48 0) scale(0.992 1)">s</text><text transform="translate(462.21 0) scale(1.200 1)">t</text><text transform="translate(474.34 0) scale(1.049 1)">a</text><text transform="translate(494.38 0) scale(1.085 1)">n</text><text transform="translate(515.79 0) scale(1.200 1)">t</text></g></g><rect x="165" y="1960.6" width="726" height="40" rx="3.7" ry="3.7" fill="#fff" stroke="#d0d0d0" stroke-width="1.6"/><path d="M197 1967.4V1990.6M189.4 1967.4H204.6M189.4 1990.6H204.6" stroke="#000" stroke-width="1.7"/><circle cx="197" cy="1978.8" r="7.6" fill="#f9cf25" stroke="#000" stroke-width="1.6"/><g transform="translate(217.2 1987)" font-size="25.41" fill="#000"><text transform="translate(-0 0) scale(1.191 1)">i</text><text transform="translate(6.72 0) scale(1.032 1)">-</text><text transform="translate(15.46 0) scale(1.090 1)">3</text></g><path d="M286.95 1967.4V1990.6M279.35 1967.4H294.55M279.35 1990.6H294.55" stroke="#000" stroke-width="1.7"/><circle cx="286.95" cy="1978.8" r="7.6" fill="#f7963e" stroke="#000" stroke-width="1.6"/><g transform="translate(307.15 1987)" font-size="25.41" fill="#000"><text transform="translate(-0 0) scale(1.048 1)">o</text><text transform="translate(15.03 0) scale(1.032 1)">-</text><text transform="translate(23.99 0) scale(1.090 1)">2</text></g><path d="M385.44 1967.4V1990.6M377.84 1967.4H393.04M377.84 1990.6H393.04" stroke="#000" stroke-width="1.7"/><circle cx="385.44" cy="1978.8" r="7.6" fill="#22a884" stroke="#000" stroke-width="1.6"/><g transform="translate(405.64 1987)" font-size="25.41" fill="#000"><text transform="translate(0 0) scale(0.949 1)">G</text><text transform="translate(18.75 0) scale(1.032 1)">-</text><text transform="translate(27.48 0) scale(1.090 1)">1</text></g><path d="M487.42 1967.4V1990.6M479.82 1967.4H495.02M479.82 1990.6H495.02" stroke="#000" stroke-width="1.7"/><circle cx="487.42" cy="1978.8" r="7.6" fill="#e16462" stroke="#000" stroke-width="1.6"/><g transform="translate(507.62 1987)" font-size="25.41" fill="#000"><text transform="translate(0 0) scale(1.176 1)">r</text><text transform="translate(11.19 0) scale(1.200 1)">+</text><text transform="translate(30.23 0) scale(1.090 1)">0</text></g><path d="M592.14 1967.4V1990.6M584.54 1967.4H599.74M584.54 1990.6H599.74" stroke="#000" stroke-width="1.7"/><circle cx="592.14" cy="1978.8" r="7.6" fill="#5fca66" stroke="#000" stroke-width="1.6"/><g transform="translate(612.34 1987)" font-size="25.41" fill="#000"><text transform="translate(0 0) scale(0.977 1)">V</text><text transform="translate(17.79 0) scale(1.200 1)">+</text><text transform="translate(36.83 0) scale(1.090 1)">1</text></g><path d="M703.47 1967.4V1990.6M695.87 1967.4H711.07M695.87 1990.6H711.07" stroke="#000" stroke-width="1.7"/><circle cx="703.47" cy="1978.8" r="7.6" fill="#4ad1cc" stroke="#000" stroke-width="1.6"/><g transform="translate(723.67 1987)" font-size="25.41" fill="#000"><text transform="translate(0 0) scale(1.048 1)">c</text><text transform="translate(14.54 0) scale(1.200 1)">+</text><text transform="translate(33.58 0) scale(1.090 1)">2</text></g><path d="M811.55 1967.4V1990.6M803.95 1967.4H819.15M803.95 1990.6H819.15" stroke="#000" stroke-width="1.7"/><circle cx="811.55" cy="1978.8" r="7.6" fill="#21958a" stroke="#000" stroke-width="1.6"/><g transform="translate(831.75 1987)" font-size="25.41" fill="#000"><text transform="translate(0 0) scale(1.087 1)">g</text><text transform="translate(16.6 0) scale(1.200 1)">+</text><text transform="translate(35.64 0) scale(1.090 1)">3</text></g>
</svg></body></html>
